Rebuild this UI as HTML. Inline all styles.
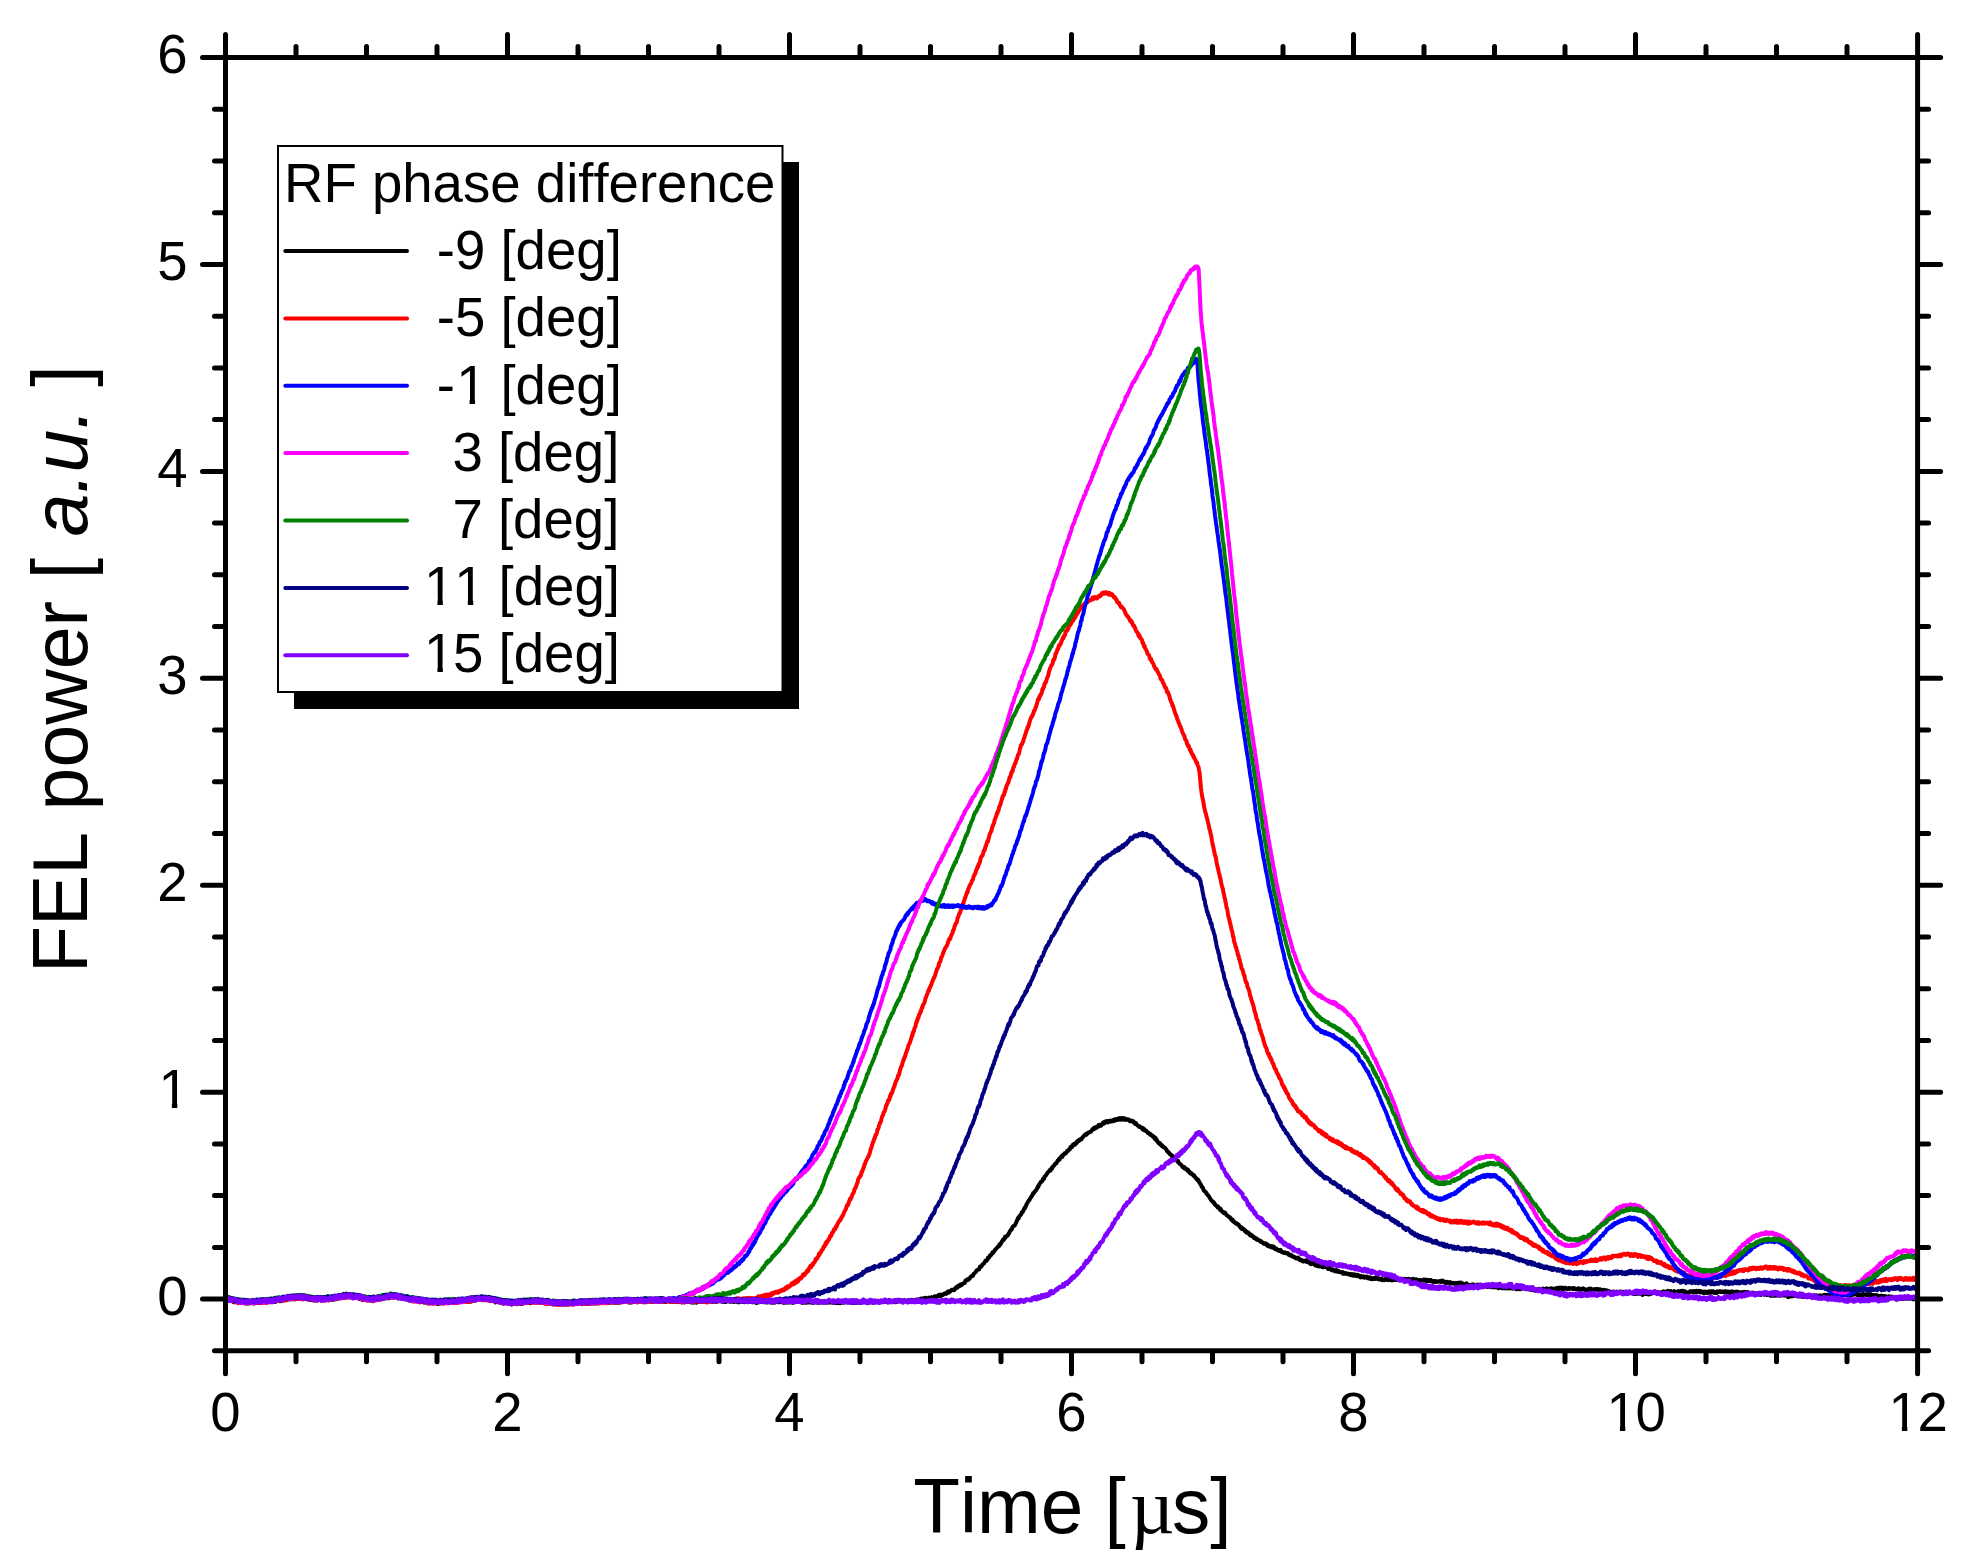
<!DOCTYPE html>
<html><head><meta charset="utf-8"><title>FEL power</title>
<style>html,body{margin:0;padding:0;background:#fff}svg{display:block}</style></head>
<body>
<svg width="1970" height="1567" viewBox="0 0 1970 1567">
<rect width="1970" height="1567" fill="#fff"/>
<g fill="none" stroke-width="40" stroke-linejoin="round" stroke-linecap="butt" transform="scale(.1)">
<path stroke="#000000" d="M2255 12998l5 5 5-1 5-9 5 3 5 10 5-14 5 15 5 0 5-4 5-2 5 1 5 2 5 5 5 3 5 2 5 8 5-3 5-3 5 6 5-13 5 0 5 9 5-8 5 1 5 9 5 0 5 8 5-4 5-1 5 0 5-3 5-4 5 4 5 9 5-8 5 3 5-6 5 14 5-11 5 1 5 12 5-6 5 7 5-3 5 3 5-12 5 7 5-1 5 5 5-9 5 4 5-9 5 5 5-1 5-3 5 11 5-8 5 10 5-7 5 0 5 0 5 0 5-10 5 4 5-4 5 3 5-6 5 15 5-13 5 7 5-6 5 9 5-4 5-10 5 12 5 2 5 0 5-5 5-7 5 1 5 12 5-8 5-7 5 11 5-5 5-2 5-4 5 0 5-4 5-4 5 15 5-7 5 2 5-4 5 8 5-13 5 5 5-6 5 1 5 14 5-7 5-6 5-1 5 4 5-11 5 6 5 2 5-4 5 4 5 6 5 0 5-15 5 12 5-18 5 11 5 0 5-12 5 4 5 6 5-15 5 10 5 3 5-5 5 4 5-9 5-2 5 2 5-5 5 2 5 9 5-7 5-5 5-3 5 11 5-9 5 10 5-7 5 2 5 7 5-1 5-5 5-5 5 6 5-10 5 7 5-14 5 6 5 3 5 8 5-11 5 10 5-2 5 2 5-1 5 7 5-12 5 1 5-4 5-3 5 2 5 13 5 0 5-11 5 9 5-1 5 3 5 2 5-5 5 12 5-7 5 4 5 2 5-5 5-1 5 8 5 5 5-1 5-3 5-11 5 12 5-1 5 2 5-5 5 8 5-14 5 0 5 1 5 4 5 1 5-1 5 6 5-9 5 9 5-8 5 9 5-13 5 4 5 10 5-8 5 4 5-3 5 0 5-7 5 7 5-8 5 12 5 2 5-3 5-15 5 4 5-1 5-4 5 9 5 2 5-9 5 9 5-2 5-12 5 11 5 1 5-12 5 5 5 0 5-1 5-10 5 8 5-1 5 2 5-2 5-9 5 6 5 2 5-1 5-13 5-3 5 10 5-9 5 4 5 6 5-11 5-2 5 4 5 3 5-9 5 5 5-4 5 10 5 3 5-8 5 1 5 2 5-5 5 0 5 2 5 2 5-5 5 12 5-2 5-4 5-3 5 12 5-10 5 0 5 1 5-1 5 16 5-8 5 3 5 11 5-1 5-6 5 6 5 9 5-7 5 7 5-11 5 10 5 0 5 0 5-3 5-4 5-4 5 9 5 5 5-8 5 1 5 5 5 3 5 3 5-14 5 2 5 12 5-2 5 2 5 6 5-2 5-2 5-2 5-8 5 3 5-8 5 9 5-1 5-2 5-5 5-3 5 0 5-8 5 13 5-6 5-4 5 2 5 2 5-7 5 7 5 0 5-11 5-6 5 9 5 2 5-14 5 10 5 2 5 2 5-14 5-2 5 14 5-16 5 0 5 5 5-2 5 6 5-9 5 13 5-11 5 9 5-12 5 7 5-8 5 5 5 1 5 8 5-3 5-6 5 17 5-2 5 1 5-11 5 2 5-2 5-1 5 0 5 10 5-5 5 3 5 11 5-6 5-5 5 8 5-7 5 6 5-2 5 6 5 4 5 0 5-2 5 8 5 2 5-12 5 0 5 1 5 16 5 0 5-11 5 14 5-12 5 6 5 0 5 8 5-14 5 6 5 6 5-7 5 4 5 5 5 6 5-3 5 0 5-2 5-2 5 4 5 0 5 3 5-6 5 0 5 10 5-11 5 12 5-6 5-5 5 13 5-11 5 8 5-5 5 17 5-8 5 2 5-10 5 7 5-3 5 0 5 6 5-8 5 0 5 6 5 2 5-9 5 6 5-8 5 5 5 6 5-10 5 13 5-10 5 18 5-10 5-3 5 4 5-5 5 1 5-10 5 9 5 1 5 7 5-15 5 7 5 2 5-2 5-8 5 8 5-8 5-1 5 11 5-13 5 3 5 6 5 0 5-2 5 5 5-5 5 2 5 4 5-2 5 0 5-4 5 2 5-4 5 5 5-7 5 1 5 5 5-4 5-3 5 9 5-7 5 6 5-2 5-7 5 4 5-13 5 6 5 7 5-5 5 0 5 1 5 0 5-3 5-3 5-5 5 1 5 0 5 2 5 10 5-12 5 2 5-1 5 4 5 6 5-1 5-8 5-3 5 9 5-9 5 2 5-12 5 13 5-10 5 2 5-6 5 3 5 6 5-1 5-7 5 4 5-6 5-2 5 3 5-6 5 1 5 6 5 3 5-11 5 13 5 2 5-5 5-8 5 9 5-8 5 5 5-6 5 5 5-6 5 5 5 1 5 2 5-6 5 14 5-10 5 2 5 0 5-2 5 6 5 7 5 0 5-8 5 1 5 6 5 10 5-2 5 10 5-6 5-2 5 1 5-2 5-8 5 1 5 6 5 4 5-4 5 8 5 5 5-8 5 2 5 1 5 3 5 11 5-16 5 3 5-1 5 5 5-7 5 8 5-4 5 2 5 10 5-10 5 9 5-3 5 1 5 8 5-11 5 14 5 0 5-3 5-10 5 9 5-3 5 1 5-11 5 11 5-2 5-14 5 3 5-6 5 13 5 2 5 3 5-5 5 2 5 1 5-2 5 6 5-6 5-5 5 3 5-10 5 11 5-2 5-7 5 6 5-3 5-9 5-6 5 0 5-1 5 4 5 4 5 10 5-9 5 12 5-5 5 2 5-9 5-8 5 12 5-8 5-2 5 12 5-1 5-7 5 0 5 11 5-12 5 7 5-11 5 12 5-12 5 7 5-8 5 9 5 5 5-12 5 4 5 8 5-2 5-3 5 7 5-1 5 9 5-8 5 9 5-2 5 3 5-6 5 7 5-2 5-7 5-7 5 14 5-6 5-7 5 10 5-6 5 5 5 7 5-4 5-1 5 2 5-2 5 5 5 0 5-3 5-3 5 6 5-5 5 8 5 3 5-12 5 5 5-2 5-6 5 1 5 14 5-6 5 6 5-13 5 9 5 5 5 0 5-15 5 8 5-2 5 6 5-12 5 3 5 9 5-6 5-1 5 8 5-11 5-5 5 6 5-4 5-2 5 9 5 6 5-7 5 1 5-6 5 4 5 3 5-2 5 3 5-4 5-5 5 5 5-2 5-7 5 7 5 2 5-11 5 7 5 3 5-5 5-3 5 2 5 3 5 2 5-2 5-8 5 13 5 2 5-13 5 3 5-1 5 11 5 0 5-15 5 4 5-3 5 4 5 7 5-15 5 1 5 5 5 1 5 4 5-5 5-5 5 4 5 10 5-4 5-11 5 12 5-9 5 8 5-13 5 15 5-12 5 6 5 3 5-4 5-6 5-1 5 2 5-3 5 3 5-1 5 6 5-1 5 4 5-6 5-5 5 5 5 7 5-10 5 2 5 5 5-7 5 7 5 0 5-11 5 7 5-8 5-3 5 6 5 3 5 7 5-13 5 10 5-4 5-6 5 13 5-5 5-10 5 13 5-14 5-1 5 4 5 10 5-17 5 14 5-6 5-10 5 8 5-3 5 2 5 2 5-1 5 5 5-13 5 13 5-6 5 7 5 3 5 2 5-12 5 3 5 9 5 0 5-10 5 10 5-9 5-1 5 7 5-7 5-1 5-3 5 0 5-7 5 0 5 13 5-2 5 4 5 3 5-11 5-1 5 0 5 0 5 6 5-6 5 0 5 6 5-8 5 0 5 9 5 1 5-7 5 5 5-10 5 5 5 3 5-7 5 1 5 4 5-1 5-7 5 10 5-11 5 15 5-14 5 0 5-2 5 13 5-13 5 6 5 7 5 0 5-15 5 9 5 1 5 1 5-7 5 0 5-6 5 1 5 10 5-6 5 3 5 4 5-5 5-1 5 15 5-8 5-5 5 10 5-12 5 5 5 12 5 0 5-5 5-9 5 3 5-5 5 3 5-4 5 1 5 8 5-9 5 0 5 14 5-9 5 0 5-3 5 13 5-3 5-2 5 1 5-9 5 2 5 6 5 7 5-1 5-3 5-1 5-9 5 15 5-14 5 1 5 10 5 1 5-1 5-6 5-6 5-3 5 15 5 3 5-12 5 11 5-7 5-2 5 4 5-9 5 8 5-4 5 8 5-4 5 6 5 1 5-10 5 0 5 12 5-7 5-6 5 0 5 16 5-6 5-9 5 8 5 1 5-3 5 8 5-2 5-15 5-1 5 4 5 7 5-3 5 1 5-2 5-8 5 9 5-15 5 11 5-10 5 6 5 10 5-7 5-7 5 8 5 3 5-10 5 3 5-4 5 8 5-4 5 1 5-4 5 5 5-10 5 14 5 2 5-6 5 1 5 8 5-10 5 9 5-9 5 8 5-6 5 3 5 5 5-16 5 12 5-5 5-3 5 0 5-5 5 4 5 6 5-9 5 9 5 5 5 0 5-2 5 0 5-10 5 15 5-12 5 12 5-1 5-6 5-3 5-6 5 4 5-3 5-2 5 0 5 13 5 2 5-11 5-1 5 6 5-1 5 2 5 6 5-4 5-1 5-5 5 7 5-6 5 2 5 2 5 8 5-11 5 8 5-8 5 10 5-9 5 2 5 6 5-4 5-10 5 0 5 14 5-16 5 6 5 12 5-16 5 4 5 1 5-2 5 7 5 2 5-4 5-4 5 11 5-1 5-5 5-8 5 8 5 3 5-3 5 8 5-7 5 3 5-6 5 8 5 4 5 0 5-8 5 12 5-4 5-5 5-1 5 5 5-12 5 7 5-1 5-5 5 7 5-7 5 1 5-3 5 11 5-10 5 6 5-5 5 8 5 0 5-14 5 18 5-5 5-7 5 9 5-8 5 8 5-6 5 2 5-1 5 5 5 4 5 2 5-10 5 4 5-11 5 6 5 9 5-15 5 11 5-3 5-7 5 8 5-8 5 10 5-13 5 2 5 11 5-4 5-5 5 7 5-4 5 4 5 4 5 2 5-15 5 9 5 6 5-9 5 4 5-10 5 13 5-4 5 6 5-1 5 1 5-13 5 11 5-8 5 1 5 1 5 5 5 0 5 5 5-16 5 2 5 3 5 7 5-6 5-1 5 3 5-2 5-7 5-4 5 6 5 8 5-4 5-8 5 8 5 0 5 4 5 0 5 7 5-10 5 1 5 3 5 5 5-4 5-4 5 6 5-6 5 8 5-12 5-2 5 12 5-10 5 10 5-5 5-1 5-8 5 13 5-11 5 16 5-1 5-9 5-3 5 12 5-7 5-7 5 6 5-4 5 3 5 4 5 5 5-2 5-11 5 4 5 0 5 8 5-16 5 7 5 7 5-8 5-2 5 5 5-4 5 11 5-14 5 3 5-2 5 10 5-8 5 10 5-1 5 0 5-11 5-5 5 7 5 9 5-3 5-12 5 12 5 4 5 1 5-3 5 3 5 1 5-8 5-3 5 12 5-11 5 4 5 9 5-8 5-1 5 8 5-10 5 13 5-1 5-9 5-1 5-5 5 13 5-13 5-4 5 14 5-5 5 2 5 1 5-12 5 0 5 6 5-8 5 7 5 3 5-1 5 0 5-10 5 4 5 12 5-12 5 8 5-7 5 16 5-12 5 3 5 2 5 2 5 3 5-4 5-6 5-5 5 11 5 5 5-16 5 12 5-10 5 5 5 1 5 1 5 6 5-5 5-6 5 5 5-5 5-1 5-1 5 2 5-4 5-1 5-1 5 5 5-2 5 9 5 0 5-8 5 5 5 5 5-9 5 4 5-2 5 3 5 5 5-14 5 14 5-6 5 3 5-3 5 4 5-10 5 7 5-8 5 4 5 2 5-8 5-3 5 12 5-1 5-3 5-6 5 6 5-10 5 10 5-1 5 1 5-3 5-5 5 8 5-5 5 5 5-6 5-3 5 9 5 2 5 6 5-2 5-16 5 10 5-11 5 6 5-5 5 0 5 4 5 2 5 4 5 0 5 2 5-3 5 6 5-4 5 3 5-4 5 0 5-12 5 7 5-5 5 2 5-6 5 9 5 3 5-8 5-4 5 9 5-8 5 13 5-12 5 4 5 3 5-6 5 4 5-2 5 6 5 4 5-12 5 6 5-11 5 7 5-2 5-3 5 9 5-2 5-11 5 2 5 8 5 2 5-7 5 3 5 1 5-5 5-2 5-6 5 4 5 6 5 6 5-9 5-1 5-9 5 9 5-6 5 3 5-11 5 7 5-1 5-5 5-6 5 3 5 5 5-10 5-2 5 5 5-4 5 9 5 0 5 2 5-2 5-4 5-9 5 10 5-2 5-1 5-1 5 1 5-10 5 6 5-3 5-5 5-2 5-4 5 4 5-3 5-2 5 6 5-5 5-3 5 3 5-13 5 5 5-7 5 4 5 10 5-17 5 9 5 0 5-8 5 2 5-8 5-3 5 1 5-7 5 0 5-3 5 9 5-14 5-5 5 9 5-15 5 12 5-4 5-5 5-6 5-6 5-5 5-2 5 1 5-2 5 6 5-9 5 6 5-7 5-13 5 3 5-10 5-6 5 11 5-14 5-5 5-4 5 7 5-6 5-10 5 9 5-11 5 5 5-9 5-2 5-6 5-1 5 1 5-8 5-17 5 3 5-8 5-6 5-2 5-3 5 8 5-9 5-2 5-7 5-12 5-2 5-2 5-7 5-1 5 2 5-19 5-3 5-4 5-4 5-7 5-3 5-14 5-3 5-2 5-4 5 1 5-2 5-12 5-17 5-2 5 4 5-3 5-11 5-9 5-5 5-1 5-1 5-14 5-7 5-9 5-4 5 5 5-11 5 0 5-23 5 0 5 2 5-8 5-15 5 0 5-2 5-6 5-11 5-10 5 6 5-12 5 0 5-8 5-12 5-1 5-10 5-4 5-6 5-3 5-8 5-6 5 2 5-19 5-5 5 6 5-12 5-9 5-10 5-3 5-13 5 4 5-6 5-15 5-11 5 8 5-15 5 1 5-2 5-6 5-4 5-14 5-2 5-14 5-11 5-4 5-10 5 0 5-6 5-19 5-7 5-3 5-6 5 1 5-8 5-7 5-13 5-10 5-15 5-8 5-15 5 7 5-17 5-10 5-3 5-7 5-2 5-21 5-5 5 2 5-10 5-12 5-9 5-14 5 3 5-10 5-14 5-15 5-8 5-6 5-10 5-13 5-1 5-7 5-11 5-6 5-9 5-9 5-4 5-11 5-14 5 3 5-12 5-7 5-3 5-6 5-6 5-8 5-10 5-6 5-17 5 2 5-15 5-8 5-9 5-3 5-13 5 3 5-5 5-7 5-18 5 2 5-3 5-20 5-4 5-5 5-5 5-13 5-3 5-11 5-3 5-7 5-1 5-12 5 4 5-3 5-7 5-18 5 8 5-13 5-12 5-3 5-4 5-6 5-10 5-5 5-5 5 2 5-12 5-13 5 1 5-10 5-10 5 10 5-17 5-2 5-8 5-10 5 9 5-4 5-18 5 0 5-6 5-8 5 4 5-2 5-5 5-6 5-16 5-1 5 0 5-2 5-12 5-5 5 1 5-20 5-1 5-5 5 7 5-17 5-8 5 3 5 1 5-12 5 9 5-14 5 3 5-15 5 6 5-17 5 3 5-1 5-12 5-5 5 6 5-4 5-6 5 0 5-11 5-5 5-5 5-5 5-6 5-8 5-3 5-5 5-3 5 6 5-14 5-1 5 2 5-7 5-5 5-1 5-1 5 0 5-1 5-8 5-12 5-5 5-7 5-4 5 10 5-16 5 1 5 6 5-6 5-9 5 7 5-13 5-1 5-10 5 12 5-15 5 3 5 7 5-2 5-4 5-5 5-14 5-6 5 4 5-10 5 13 5-19 5 3 5-3 5-4 5 7 5-7 5 13 5-5 5-7 5 6 5-2 5-9 5 8 5 0 5-6 5-5 5 8 5-1 5-11 5-6 5 12 5-5 5-8 5 4 5-6 5 9 5-11 5-3 5-4 5 5 5 10 5-14 5 4 5 9 5-16 5 5 5 9 5-12 5 15 5 0 5-11 5 8 5 0 5 4 5-6 5 2 5-1 5 3 5 0 5 14 5 2 5-7 5 7 5-3 5-2 5 2 5 11 5-6 5 9 5 10 5-6 5 13 5-9 5 14 5 4 5 4 5 5 5 1 5 9 5-6 5 9 5 0 5 0 5 8 5 8 5 3 5-10 5 19 5-9 5 4 5 12 5 4 5 2 5-3 5 7 5 11 5-3 5 10 5 3 5-2 5 10 5-5 5 11 5 3 5-1 5 9 5 6 5 3 5-4 5 19 5 4 5-12 5 22 5 0 5 0 5 19 5 0 5 9 5 7 5-1 5-4 5 18 5 2 5 8 5-7 5 12 5 6 5-3 5 7 5 4 5 0 5 10 5 7 5 2 5 17 5 0 5 8 5 0 5 6 5 11 5 0 5 7 5 2 5 7 5 11 5-6 5 9 5 7 5-5 5 19 5-4 5 0 5 14 5 6 5 2 5 10 5-9 5 13 5 8 5 9 5 0 5 5 5 2 5 8 5 5 5 11 5 4 5 2 5 7 5-11 5 16 5-2 5 9 5-4 5 7 5 10 5-10 5 10 5 8 5 12 5-5 5 14 5-7 5 4 5 7 5 4 5 7 5 6 5-5 5 14 5 4 5 2 5 12 5 7 5-2 5 14 5-7 5 8 5 19 5 0 5 13 5 7 5 3 5 19 5 8 5-1 5 10 5 16 5 9 5 6 5 0 5 5 5 9 5 3 5 13 5 3 5 6 5 9 5 1 5 13 5 9 5 5 5 12 5 5 5 2 5 10 5-2 5 12 5-3 5 10 5 14 5-1 5 4 5 10 5-2 5 14 5-9 5 8 5 4 5 6 5 16 5-12 5 10 5 10 5 7 5 6 5-2 5 1 5 14 5-10 5 3 5 6 5 9 5 12 5 1 5 2 5 4 5 8 5 4 5 0 5 1 5 7 5 14 5 2 5 7 5-9 5 19 5-5 5 14 5-1 5 4 5 9 5 0 5 5 5-5 5 11 5 0 5 0 5 7 5 11 5 2 5 14 5-8 5 1 5 19 5-9 5 6 5 0 5 5 5 8 5 12 5-8 5 16 5 5 5-4 5-1 5 1 5 4 5 8 5 14 5-9 5 19 5 0 5-9 5 4 5 13 5 1 5-1 5 14 5-7 5 9 5-1 5 11 5-8 5 3 5 12 5-3 5 6 5 5 5 2 5-4 5 12 5-6 5 7 5 6 5-2 5 4 5 10 5 3 5-5 5 2 5-2 5 8 5 4 5 9 5-12 5 18 5 3 5-9 5 9 5 3 5-1 5-5 5 7 5 6 5-12 5 7 5-4 5 18 5 3 5-9 5 16 5 1 5-7 5 9 5 5 5-4 5 4 5 9 5-4 5-1 5-6 5 4 5 15 5 2 5 4 5-1 5 1 5 1 5 5 5-6 5 4 5 2 5 5 5-5 5-1 5 3 5 4 5 15 5 0 5 3 5-2 5-4 5 8 5 9 5-5 5 4 5 0 5 0 5 12 5 2 5 1 5-1 5 7 5-7 5 4 5-5 5 12 5-4 5 6 5 11 5-1 5 3 5-5 5 11 5-6 5 12 5-1 5-4 5 2 5-4 5 3 5-9 5 17 5-2 5-9 5 3 5 9 5 6 5-7 5 17 5-8 5 12 5-3 5-4 5-1 5-4 5 2 5 12 5 4 5 4 5-7 5 12 5-9 5 13 5 2 5-11 5 12 5-2 5 1 5 3 5-5 5 1 5-1 5 9 5 2 5-11 5 11 5-8 5-1 5 1 5 7 5-2 5 3 5 1 5 7 5 11 5-12 5 8 5 3 5-8 5 5 5 12 5 4 5 0 5-9 5 12 5-4 5-3 5 6 5 9 5 1 5-8 5-5 5 14 5 2 5-7 5-2 5 9 5 5 5 0 5 1 5-1 5 2 5-4 5 5 5 13 5-15 5 13 5 2 5-5 5 4 5-6 5 7 5 1 5 0 5-4 5 10 5 0 5-4 5 4 5-6 5 13 5-4 5 5 5-10 5 13 5-14 5 9 5-6 5 2 5 11 5-11 5 6 5-3 5 12 5-13 5 7 5 10 5-1 5 2 5 7 5-16 5 12 5 2 5 1 5 0 5-10 5 2 5 12 5-2 5-5 5-4 5 10 5-8 5 12 5-7 5 10 5-10 5 8 5-4 5 13 5-4 5-5 5 12 5-4 5-6 5 7 5-9 5 9 5-13 5 11 5-14 5 13 5-5 5 4 5 5 5-9 5 3 5-1 5 12 5-8 5 5 5-2 5 0 5 12 5-6 5 2 5 0 5 2 5-10 5-4 5 7 5-5 5-3 5 16 5-5 5-4 5-5 5 11 5-4 5-6 5 14 5 1 5 0 5-1 5-4 5-4 5 5 5-9 5 7 5-10 5-1 5 12 5-6 5 6 5 1 5 1 5-4 5 4 5-3 5 4 5 0 5-13 5 4 5 3 5-2 5-1 5 11 5-15 5 2 5 9 5-10 5 0 5 11 5-4 5-6 5-4 5 4 5 13 5-1 5-11 5 10 5-6 5 5 5-8 5-4 5-1 5 5 5 11 5 1 5-3 5 2 5-10 5 3 5 10 5 1 5-8 5 6 5 4 5 1 5-11 5 6 5-4 5 2 5 0 5-3 5-5 5 12 5-2 5 2 5-13 5 2 5 7 5 6 5-7 5-4 5 7 5 5 5-1 5 0 5-9 5 0 5 13 5 0 5 4 5-6 5-2 5-1 5 10 5 1 5-10 5 10 5-7 5 2 5 3 5-5 5 0 5 0 5-1 5 4 5-7 5 11 5-11 5 4 5 3 5-9 5 7 5 5 5 3 5 8 5 1 5-12 5 12 5-5 5 2 5-9 5 5 5 5 5 2 5 1 5-10 5 11 5-4 5 2 5 4 5-7 5 9 5 1 5-1 5-6 5 3 5-6 5 11 5 3 5-12 5 10 5-2 5-12 5 15 5-9 5-4 5-2 5 15 5-6 5 6 5-4 5 7 5-4 5 6 5-3 5 1 5-8 5-2 5 14 5 2 5-5 5 7 5-2 5 0 5-1 5 0 5 3 5-5 5 4 5 1 5-8 5 6 5-2 5 5 5 3 5-3 5 0 5-1 5-7 5 2 5 8 5 3 5-11 5-1 5 17 5 0 5-3 5 4 5-3 5 6 5-10 5 3 5 4 5-7 5 8 5-7 5 7 5 2 5-7 5 9 5-6 5 3 5-12 5 2 5 11 5 5 5-5 5 5 5-15 5 15 5 0 5-3 5-3 5 6 5-6 5 8 5 1 5-2 5-4 5-3 5 4 5 11 5-10 5-2 5 3 5 5 5 0 5 5 5-2 5 2 5-3 5-6 5-5 5 15 5-11 5 7 5-6 5 10 5-10 5 4 5-3 5 11 5-5 5 0 5-6 5-2 5 12 5-1 5-1 5 5 5-7 5-4 5 8 5-3 5 5 5 1 5 1 5 5 5-3 5-8 5 6 5 2 5-1 5-3 5 6 5-6 5-7 5 2 5 6 5-5 5 0 5 0 5-3 5-1 5 0 5 11 5-6 5 1 5 7 5-6 5 3 5 0 5 5 5-14 5 7 5 11 5-8 5 10 5-12 5-2 5 16 5-8 5 3 5 8 5-12 5 14 5-10 5-3 5 0 5 4 5-1 5 7 5-15 5 0 5 2 5 7 5 3 5-5 5 1 5 1 5-11 5 3 5 12 5-11 5 10 5-9 5-4 5-4 5 4 5 2 5 2 5 0 5 2 5-1 5-7 5 4 5 11 5-17 5 11 5-6 5 3 5-5 5 1 5 3 5 8 5-9 5-6 5-2 5 13 5-11 5-4 5 7 5 4 5-5 5-8 5 3 5-1 5-4 5 16 5-8 5-5 5 12 5 1 5-3 5-10 5-1 5 6 5 1 5 5 5 2 5-1 5-8 5 5 5-6 5 8 5-6 5 0 5-1 5 3 5-1 5 6 5-11 5 1 5 10 5 1 5 1 5 0 5 0 5-1 5 4 5-11 5 2 5 10 5-9 5 6 5-5 5 2 5 6 5-4 5-4 5-4 5 10 5-1 5-2 5 9 5-2 5 5 5-6 5 4 5-6 5 2 5 2 5-12 5 6 5 3 5-10 5 14 5-1 5 4 5-9 5 3 5 7 5-10 5 7 5-8 5-2 5 0 5-1 5 5 5-4 5 12 5 4 5-14 5 0 5 0 5 17 5-14 5 11 5-5 5-1 5 2 5 7 5-11 5 14 5-5 5-6 5 1 5 8 5 0 5-5 5 1 5 4 5 9 5-6 5 7 5-2 5-1 5 0 5 4 5-3 5 5 5-9 5 2 5 10 5-8 5 8 5 2 5-5 5-7 5 11 5 0 5-7 5 9 5-7 5-8 5 0 5 3 5 7 5 4 5-12 5 0 5 11 5-3 5 1 5 7 5 3 5 1 5-4 5-13 5 3 5 7 5 7 5-15 5 7 5-1 5 0 5-1 5 2 5 1 5-1 5 9 5-2 5 3 5-2 5 5 5-12 5 9 5-8 5 4 5 2 5-7 5 2 5 4 5-8 5 8 5-6 5 3 5 7 5 7 5 2 5-12 5-3 5 5 5-2 5-2 5 5 5 0 5-2 5 2 5-1 5 3 5 3 5-1 5-1 5-3 5-14 5 6 5 5 5-9 5 5 5-9 5 2 5 2 5-6 5 6 5-4 5 10 5-9 5 1 5 7 5-4 5-8 5 3 5 8 5-7 5 2 5 4 5-5 5-6 5 3 5-1 5-9 5 5 5 2 5 11 5-12 5 3 5-5 5 7 5 0 5-15 5 14 5-3 5-7 5 12 5-11 5 9 5-11 5 7 5 1 5 7 5-1 5-5 5-9 5 6 5-1 5 10 5-5 5-5 5-1 5 6 5-12 5 11 5-4 5-5 5 3 5-4 5-3 5 6 5-5 5 2 5 5 5 6 5-12 5 5 5 7 5 0 5 3 5-2 5 1 5 2 5-1 5-4 5-3 5-4 5-4 5 5 5 7 5-3 5-6 5 11 5-14 5 15 5-6 5-2 5-3 5 7 5-13 5 1 5 9 5-4 5 2 5 2 5-9 5 16 5-6 5-8 5 12 5-2 5 4 5 2 5 4 5-15 5 14 5-10 5-5 5 4 5 0 5 10 5-6 5-7 5 10 5-4 5 5 5-14 5 13 5 1 5-15 5 8 5-6 5 7 5-6 5 14 5-10 5 9 5 1 5-7 5-4 5 11 5-16 5 2 5 1 5 3 5-4 5-5 5 7 5 4 5 1 5-2 5-2 5-4 5 8 5 1 5-5 5 8 5-14 5 11 5-1 5 3 5 1 5-11 5 12 5-8 5 5 5 6 5-5 5-2 5-9 5 8 5-7 5 1 5 1 5 11 5-4 5 2 5-8 5 2 5 8 5-13 5 13 5-9 5 0 5 4 5 0 5 3 5 0 5 5 5-7 5-2 5 5 5-5 5 5 5 0 5 4 5-12 5 4 5 7 5-7 5 9 5-1 5-11 5 6 5 6 5-4 5 3 5 5 5-4 5-1 5 6 5-6 5-6 5 5 5 7 5 7 5-5 5-4 5 11 5-11 5-4 5 4 5-4 5-2 5 12 5 1 5 7 5-12 5 12 5-3 5-10 5 3 5 1 5-4 5-3 5 13 5-11 5 6 5-1 5 8 5-6 5-3 5 10 5-8 5 9 5-6 5 11 5 3 5 0 5-7 5-5 5 6 5 4 5-10 5-5 5 3 5 14 5-16 5 1 5 0 5 13 5-9 5 5 5 2 5-4 5 7 5-3 5 2 5-5 5-7 5 8 5-7 5-1 5 11 5-7 5-3 5 11 5 0 5-7 5 7 5 6 5-4 5 13 5-4 5-6 5 5 5-16 5 2 5 12 5-6 5-6 5 8 5 3 5-2 5-9 5 1 5 6 5-6 5 1 5 8 5-4 5-7 5 13 5-8 5 9 5-4 5 1 5-3 5 5 5-7 5 1 5 11 5-11 5 3 5 5 5-7 5 0 5 9 5-12 5 1 5 11 5-11 5 1 5 9 5-10 5 11 5-3 5 0 5-10 5 0 5 9 5 2 5-10 5 0 5 0 5-2 5 4 5 2 5 2 5-9 5 3 5 0 5 3 5-2 5 12 5-10 5-5 5 8 5 5 5-4 5-3 5-6 5 0 5-4 5 7 5-1 5-7 5 4 5-1 5 2 5-6 5 1 5 2 5 11 5-2 5 1 5-1 5-1 5-7 5 4 5-12 5 7 5-11 5 14 5-2 5-13 5 9 5 0 5-13 5 9 5-2 5 4 5 5 5-2 5-8 5 7 5 1 5-8 5 0 5 3 5-5 5 0 5 6 5 5 5-8 5 3 5 2 5-1 5 0 5-11 5 16 5-12 5 1 5 6 5 2 5 3 5-7 5 11 5-6 5 3 5-7 5-8 5-1 5 10 5-3 5 0 5-2 5-3 5 5 5-4 5 11 5-13 5 14 5-1 5-7 5 8 5-2 5 0 5 6 5 0 5-11 5 12 5-15 5-1 5 7 5-3 5 1 5 1 5-1 5 7 5 0 5-10 5-1 5 7 5-7 5 4 5 6 5-11 5 14 5 1 5-4 5-1 5 6 5-4 5 8 5-4 5-5 5 8 5-1 5-7 5 6 5 3 5 10 5-11 5 3 5 9 5-9 5 7 5-12 5 6 5-4 5 13 5-5 5-5 5-2 5 7 5-5 5 7 5 5 5-7 5-2 5 4 5-3 5 11 5-13 5 11 5-7 5 6 5 1 5-10 5 12 5 4 5-6 5 3 5-3 5-1 5 12 5 3 5-12 5-4 5 3 5 2 5-6 5 11 5-2 5 3 5-5 5 3 5 5 5-15 5 11 5-6 5 12 5-10 5 8 5-8 5 5 5 0 5 4 5-1 5-7 5 4 5-9 5-2 5 11 5 3 5-3 5-4 5 3 5 3 5-2 5-2 5 10 5-8 5 9 5-1 5 0 5 1 5 3 5 0 5-8 5-2"/>
<path stroke="#ff0000" d="M2255 12999l5-14 5 3 5-2 5 5 5 8 5-6 5-3 5 14 5 5 5-12 5 8 5-8 5 0 5 8 5-1 5 14 5-17 5 15 5 3 5-6 5 4 5-4 5 2 5-2 5 20 5-20 5 2 5 12 5-6 5 0 5-4 5-2 5 15 5-14 5 5 5 9 5-10 5 14 5-17 5 8 5 0 5-1 5 6 5-16 5 11 5 6 5-16 5 11 5-2 5 0 5 2 5 1 5 0 5 4 5-6 5 6 5-7 5-10 5-3 5-2 5 6 5-2 5 15 5 2 5 0 5-7 5 1 5-6 5 14 5-21 5 7 5 6 5-8 5 15 5-8 5-3 5-8 5 4 5 6 5-8 5-6 5 12 5-7 5 12 5-4 5 1 5 3 5-2 5-11 5 6 5-8 5-1 5-1 5-2 5 2 5-2 5 8 5-11 5-6 5 6 5-4 5 11 5-9 5 8 5-8 5 5 5 6 5-14 5 3 5-5 5-8 5-1 5 18 5-11 5 7 5-5 5 10 5-14 5 7 5 2 5 3 5-19 5 5 5 0 5 0 5-9 5 9 5 3 5 2 5-11 5 3 5-5 5 0 5-2 5 11 5-21 5 21 5-20 5 1 5 4 5 1 5 12 5-1 5 1 5-12 5-8 5 14 5 6 5-17 5 16 5-19 5 16 5-6 5 9 5-1 5-18 5 10 5-5 5 5 5-8 5 8 5 2 5-7 5 12 5 10 5-19 5 19 5-10 5-7 5 17 5-10 5 0 5 0 5 12 5-15 5 3 5 3 5-3 5 18 5-6 5 2 5 6 5-9 5-5 5 5 5-1 5-4 5-1 5 2 5 9 5-13 5 18 5-17 5 1 5-4 5 7 5 0 5 7 5 5 5-14 5 12 5-12 5 2 5-7 5 16 5-12 5 7 5-16 5 15 5-11 5 4 5 4 5-12 5 7 5 5 5-14 5 7 5-6 5-1 5 8 5-3 5 2 5 3 5-6 5-10 5 1 5 3 5 2 5-5 5-6 5-8 5 17 5-12 5 3 5 11 5-16 5 15 5-15 5-4 5 9 5 6 5-9 5 10 5-10 5 9 5-17 5 3 5-4 5 12 5-6 5 6 5-8 5 13 5 8 5-18 5 5 5 12 5 0 5 0 5-14 5 8 5-10 5 9 5 4 5-6 5 4 5-2 5-6 5 0 5 16 5-15 5 24 5 0 5 4 5-2 5-17 5 4 5 5 5-3 5-2 5 20 5 2 5-2 5-10 5 15 5-1 5-12 5-5 5 0 5 5 5 9 5-17 5 7 5-2 5 11 5-15 5 11 5-7 5 8 5 4 5-1 5-1 5-13 5-2 5-5 5 3 5-3 5 14 5-16 5 3 5 11 5-3 5 3 5-15 5-9 5 16 5-12 5 10 5-17 5 0 5 11 5 1 5-3 5-2 5 1 5-11 5-2 5 6 5 4 5-7 5-2 5 5 5-1 5-4 5 14 5 1 5-20 5 9 5-5 5 2 5-5 5 2 5 0 5 3 5 12 5-12 5 18 5-1 5-11 5 10 5 7 5-17 5 11 5-1 5-2 5 1 5-4 5 13 5-9 5 6 5 11 5-13 5-1 5 14 5-8 5 2 5-5 5 11 5-3 5 5 5-1 5-5 5 19 5-2 5 7 5-14 5 0 5-3 5 4 5 1 5-3 5 3 5 2 5 13 5-8 5 9 5-16 5 3 5 18 5-20 5 1 5 10 5-5 5-2 5 9 5 1 5-10 5 8 5-2 5 9 5-15 5 5 5 9 5-10 5 20 5 3 5-13 5 10 5-11 5 16 5-16 5-5 5 2 5 8 5-9 5 21 5-8 5-1 5 1 5-4 5 10 5-4 5-6 5-3 5-3 5 3 5 1 5-7 5 19 5-15 5 6 5-10 5 10 5 2 5-12 5 19 5-18 5 2 5 10 5-9 5 12 5-14 5 1 5 8 5 4 5 0 5-15 5 5 5-4 5 5 5-10 5 13 5-3 5-12 5 3 5 1 5 14 5-10 5 3 5 8 5-13 5 11 5-15 5-7 5 1 5 11 5-8 5 8 5-8 5 2 5-7 5 7 5 3 5-6 5 3 5 6 5 0 5-15 5-8 5 15 5-6 5 13 5-3 5-7 5 13 5-8 5 2 5 2 5-8 5 7 5-13 5-1 5 5 5-6 5 6 5-5 5 3 5 1 5-7 5 6 5-4 5 1 5-19 5-1 5 13 5-6 5 12 5-11 5 8 5-10 5 8 5 6 5-1 5-11 5 3 5 1 5-5 5 3 5 11 5-2 5-12 5 9 5 7 5-12 5 12 5 0 5 3 5-17 5 20 5 2 5-15 5 9 5-11 5 12 5 4 5 0 5 3 5-12 5-4 5 16 5-17 5 5 5 0 5 13 5-7 5 11 5-1 5 6 5 1 5 4 5-12 5 2 5 6 5 0 5 5 5 2 5-10 5-2 5 14 5 1 5-8 5-4 5 1 5 6 5 1 5-1 5-3 5 3 5 4 5-6 5 2 5 4 5 9 5-1 5-11 5-6 5 4 5 9 5-6 5 4 5 4 5-2 5 4 5-17 5 5 5-7 5 9 5 1 5-9 5-6 5 9 5-7 5 0 5 4 5 12 5-13 5 7 5-7 5 0 5-6 5 0 5 12 5-8 5-4 5 14 5-3 5-14 5 3 5 3 5-10 5 5 5-3 5 11 5-16 5 19 5-16 5 2 5-5 5 19 5-2 5-17 5 10 5-3 5 4 5-6 5 15 5-15 5 14 5-11 5 10 5-5 5 2 5-1 5 2 5-12 5 2 5 21 5-14 5 4 5-1 5 10 5 8 5-12 5-2 5 2 5-8 5 0 5-1 5 5 5 14 5-17 5 11 5-5 5-2 5 19 5-16 5 0 5 15 5-13 5-2 5 18 5-15 5 15 5-10 5 7 5-6 5 0 5 13 5-1 5-17 5 12 5-13 5 3 5-5 5 12 5 2 5 1 5 1 5-8 5-5 5-5 5 9 5 10 5-12 5 3 5 7 5-1 5-2 5-3 5-8 5 11 5-7 5 6 5-11 5 16 5-18 5 13 5 2 5-17 5 15 5-4 5-1 5-8 5 2 5-2 5 3 5 4 5 0 5-1 5-9 5 0 5 10 5 6 5-16 5 5 5-5 5 15 5-23 5 18 5-4 5-9 5 9 5-6 5 7 5-4 5 10 5-10 5 7 5-5 5-5 5 13 5-17 5 16 5 1 5-3 5-6 5 0 5 5 5-11 5 7 5 1 5 4 5-8 5 7 5-11 5-2 5-1 5 11 5-10 5 10 5-18 5 2 5 15 5-9 5-5 5 12 5-13 5 16 5-16 5 12 5-8 5 12 5-13 5 14 5-12 5 2 5 3 5-3 5 1 5-1 5-9 5-5 5 17 5-2 5 0 5-3 5 8 5-15 5 12 5-17 5 12 5 6 5-17 5 14 5-10 5-5 5 7 5 6 5-10 5 14 5-20 5 6 5 3 5 1 5-1 5-7 5 3 5 1 5 8 5-7 5 7 5-7 5-3 5-4 5 1 5 16 5-10 5-2 5-1 5 15 5-5 5-1 5 1 5-13 5 9 5-14 5 13 5-8 5 8 5-10 5 4 5 8 5 7 5-13 5-2 5-3 5 10 5 4 5-21 5 6 5-3 5 19 5-17 5 0 5 17 5 4 5-5 5-16 5 6 5 2 5 8 5-4 5-15 5 8 5 7 5-5 5 3 5 8 5 0 5-2 5-6 5-5 5-3 5 0 5 10 5 3 5 1 5 0 5-14 5 0 5-3 5 8 5 9 5-4 5-7 5-5 5 15 5 2 5-2 5-10 5 2 5 4 5 7 5-14 5 3 5-8 5-2 5 5 5 12 5-3 5-5 5-2 5-3 5 11 5-7 5-9 5 12 5 8 5-20 5 20 5-19 5 5 5 15 5 0 5-17 5 12 5-1 5-4 5 9 5-2 5-9 5 6 5 4 5-2 5-1 5 4 5-13 5-3 5 0 5 13 5-4 5 10 5 4 5-19 5 7 5 0 5 2 5 7 5-8 5-8 5 8 5-7 5 5 5-10 5 10 5-2 5 4 5-2 5 0 5 3 5-12 5 15 5-1 5 2 5-5 5-9 5 16 5-5 5 1 5-13 5 10 5 1 5-6 5 9 5-1 5-15 5 0 5 6 5 3 5 3 5-3 5 7 5-2 5-16 5 5 5 13 5-2 5-15 5 15 5-10 5 7 5 10 5-21 5 16 5-8 5 10 5-3 5-18 5 12 5 5 5-14 5 8 5-11 5-2 5 2 5-1 5 16 5-16 5 5 5 2 5 4 5 5 5-8 5 4 5-16 5 11 5-10 5 15 5-6 5-10 5 16 5-8 5-1 5-9 5 18 5-9 5 7 5-18 5 13 5-7 5 4 5 2 5 5 5 2 5-16 5 16 5-16 5-2 5 6 5 0 5 10 5-5 5-4 5 8 5 3 5-7 5-1 5 4 5-13 5 15 5-20 5-4 5 16 5-16 5 2 5 5 5-7 5 8 5 0 5-4 5 11 5-4 5-6 5 13 5-8 5-10 5 18 5-11 5-8 5 3 5-1 5-5 5 5 5-4 5 1 5 10 5-11 5-3 5 4 5 3 5-4 5 8 5 5 5-3 5-9 5 7 5 1 5-3 5 4 5-9 5 6 5-7 5 3 5-2 5-16 5 16 5-19 5 8 5 3 5 4 5-17 5 12 5-7 5-8 5 6 5 5 5-15 5 15 5-20 5 2 5 2 5-7 5 19 5 0 5-2 5-17 5 13 5-12 5-2 5 7 5-16 5-4 5 17 5-15 5 7 5-9 5-8 5 8 5-7 5-2 5-5 5 6 5-6 5-1 5 11 5-4 5-4 5-12 5 9 5-2 5-6 5-9 5-3 5 2 5-6 5 11 5-12 5 1 5 2 5-9 5-13 5 1 5 10 5-22 5 1 5 5 5 2 5-4 5-6 5-5 5-9 5-10 5 10 5-15 5 13 5-18 5-6 5 18 5-22 5 5 5-14 5 18 5-24 5 12 5 1 5-17 5-11 5-4 5-4 5 10 5-11 5 2 5-12 5-7 5-15 5-3 5 13 5-5 5-15 5 3 5-7 5-16 5-8 5 6 5-1 5-6 5-20 5-13 5-1 5-13 5 15 5-22 5 6 5-19 5 9 5-17 5 0 5-12 5-3 5-22 5-8 5-3 5 4 5-8 5-13 5-10 5-20 5 12 5-14 5-8 5-3 5-21 5 1 5-7 5-6 5-23 5 5 5-5 5-15 5-18 5 9 5-26 5-4 5 6 5-13 5-14 5 2 5-12 5-20 5-5 5 4 5-9 5-25 5 1 5-4 5-17 5-14 5-1 5 3 5-14 5-19 5 6 5-12 5-17 5-8 5-11 5-4 5-10 5-10 5 4 5-12 5-16 5 1 5-17 5-4 5-13 5-15 5-9 5-9 5-11 5-7 5-21 5-9 5-13 5 6 5-12 5-21 5-12 5-17 5 7 5-18 5-4 5-19 5-13 5-6 5-8 5-12 5-22 5-8 5-2 5-22 5-7 5-19 5-6 5-30 5-13 5-9 5-4 5-13 5 1 5-11 5-32 5 3 5-19 5-6 5-23 5-3 5-30 5-2 5-16 5-13 5-10 5-8 5-10 5-10 5-9 5-12 5-11 5-20 5-23 5-8 5-18 5-19 5-13 5-18 5-6 5-23 5-2 5-16 5-22 5-8 5 0 5-23 5-27 5-3 5-11 5-26 5-7 5-18 5-6 5-9 5-27 5-17 5-14 5-4 5-26 5-4 5-7 5-14 5-15 5-28 5-3 5-17 5-6 5-21 5-12 5 5 5-13 5-30 5 4 5-29 5-7 5 2 5-14 5-23 5-8 5-20 5-2 5-25 5-16 5-14 5-3 5-15 5-6 5-30 5 1 5-10 5-18 5-28 5-13 5-16 5-10 5-6 5-29 5-9 5-22 5-1 5-26 5 1 5-18 5-24 5-4 5-22 5-11 5-15 5-21 5-12 5-6 5-14 5-15 5-20 5-7 5-30 5 5 5-35 5 3 5-17 5-25 5-6 5-12 5-31 5-3 5-27 5 1 5-27 5 0 5-28 5-6 5-4 5-26 5 2 5-23 5-19 5 4 5-29 5-4 5-6 5-14 5-21 5-21 5-6 5-17 5-12 5-12 5-15 5-16 5 3 5-28 5 0 5-17 5-8 5-15 5-16 5-7 5-18 5-5 5-18 5-5 5-12 5-16 5-21 5-11 5-22 5 0 5-15 5-9 5-29 5-12 5-1 5-11 5-27 5-13 5-6 5-13 5-18 5-11 5-10 5-15 5-9 5-14 5-4 5-4 5-14 5-12 5-15 5-17 5-14 5-8 5 6 5-14 5-18 5-11 5-10 5-11 5-25 5 0 5-16 5-21 5-12 5-16 5-4 5-4 5-17 5-28 5-14 5-10 5-16 5-14 5 0 5-23 5-8 5-20 5 1 5-22 5-24 5-1 5-25 5-11 5-18 5-10 5-18 5-13 5-17 5 4 5-30 5-10 5-9 5-18 5-9 5-8 5-8 5-13 5-15 5-5 5-11 5-22 5-12 5-4 5-17 5-2 5-31 5 0 5-17 5-16 5 2 5-28 5-1 5-12 5-11 5-32 5-11 5-13 5-7 5 1 5-17 5-23 5-14 5 2 5-16 5-26 5-1 5-23 5-12 5-19 5 5 5-27 5-12 5-25 5-12 5-10 5-11 5-9 5-28 5-14 5-10 5-17 5-5 5-26 5-16 5-13 5-11 5-17 5-20 5 3 5-26 5 0 5-29 5-15 5-10 5-7 5-27 5-13 5-17 5-21 5-11 5 1 5-12 5-28 5 2 5-33 5 1 5-29 5-6 5-15 5-13 5-2 5-26 5-20 5-10 5 1 5-28 5-15 5-11 5 3 5-26 5-21 5-3 5-21 5-11 5-5 5-20 5-17 5-3 5-24 5-15 5-6 5-13 5-21 5-24 5-14 5-22 5-7 5-1 5-19 5-5 5-19 5-17 5-9 5-22 5-11 5-18 5-18 5-5 5-30 5 5 5-14 5-17 5-22 5-15 5-15 5-10 5-17 5 2 5-10 5-20 5-5 5-25 5-1 5-10 5-19 5-8 5-19 5-15 5-18 5-23 5-9 5 5 5-25 5 1 5-22 5 0 5-8 5-21 5-26 5 3 5-19 5-4 5-29 5-10 5 0 5-15 5-11 5-23 5-10 5-8 5-20 5-27 5-13 5-17 5-12 5-15 5-5 5-8 5-7 5-23 5-20 5 3 5-14 5-12 5-35 5-1 5-12 5-16 5-20 5 3 5-18 5-20 5-2 5 0 5-20 5 1 5-23 5-6 5-14 5-15 5 6 5-23 5-1 5-8 5-24 5-15 5 3 5-15 5 5 5-24 5 3 5-25 5-3 5-11 5 5 5-13 5-7 5-21 5-3 5 5 5-14 5-5 5-13 5-15 5 8 5-22 5-10 5 3 5-20 5 7 5-9 5-14 5-5 5-8 5-16 5-6 5 0 5-14 5-2 5-2 5 1 5-6 5-12 5 9 5-3 5-8 5-4 5-15 5 8 5-10 5-11 5 9 5-4 5-3 5-3 5 2 5-5 5-7 5-15 5 0 5 16 5-13 5 4 5-11 5 10 5-1 5 2 5 3 5-13 5-6 5-6 5 1 5-2 5 6 5-15 5 1 5-2 5-19 5 2 5 5 5-13 5 0 5 13 5-2 5-12 5-1 5 16 5-7 5-3 5 9 5 1 5 9 5-18 5 17 5-4 5-2 5 9 5-7 5 6 5 5 5 16 5 4 5-5 5 6 5 16 5-1 5 7 5 22 5-1 5 8 5 8 5-6 5 14 5 15 5 4 5 12 5-7 5 11 5 1 5 6 5 6 5 10 5 8 5 14 5 8 5 15 5 8 5 3 5 10 5 4 5 4 5 11 5 10 5 14 5 4 5-8 5 20 5-4 5 19 5 14 5 6 5-4 5 17 5 4 5 20 5 10 5 10 5 1 5 14 5 1 5 24 5 9 5-12 5 21 5 12 5 0 5 6 5 10 5 27 5-5 5 19 5 20 5-6 5 25 5 4 5 10 5 12 5 8 5 21 5 6 5 4 5 3 5 18 5 20 5 7 5-7 5 17 5 14 5 9 5 4 5 10 5 16 5 13 5 8 5 8 5 9 5-6 5 13 5 12 5 7 5 12 5 10 5 9 5 2 5 29 5 11 5 1 5 1 5 13 5 19 5 4 5 13 5 11 5 17 5 5 5-1 5 21 5 21 5-5 5 10 5 12 5 13 5 15 5 25 5 9 5 17 5 9 5 10 5 23 5 0 5 18 5 16 5 20 5 16 5 10 5 15 5 6 5 20 5 19 5 4 5 21 5 9 5 14 5 16 5 4 5 14 5 11 5 20 5 15 5 12 5 3 5 15 5 9 5 24 5 8 5 7 5 10 5 26 5 0 5 21 5-4 5 8 5 22 5 15 5-6 5 24 5 3 5 16 5 11 5-2 5 23 5-4 5 17 5 10 5 6 5 14 5 16 5-4 5 20 5 14 5 9 5 29 5 23 5 55 5 53 5 51 5 41 5 34 5 23 5 24 5 27 5 36 5 21 5 22 5 20 5 13 5 26 5 14 5 19 5 26 5 17 5 25 5 25 5 11 5 31 5 13 5 28 5 32 5 26 5 24 5 21 5 27 5 25 5 18 5 15 5 18 5 39 5 23 5 22 5 19 5 24 5 23 5 18 5 25 5 13 5 29 5 25 5 21 5 15 5 20 5 34 5 10 5 36 5 9 5 35 5 16 5 37 5 10 5 23 5 37 5 24 5 12 5 24 5 25 5 13 5 25 5 26 5 16 5 18 5 38 5 4 5 40 5 18 5 11 5 29 5 0 5 28 5 12 5 16 5 29 5 0 5 37 5 1 5 32 5 9 5 22 5 26 5 14 5 1 5 21 5 19 5 21 5 0 5 35 5 15 5 18 5 0 5 16 5 30 5 9 5 11 5 11 5 22 5 27 5 19 5 7 5 29 5 8 5 16 5 14 5 20 5 18 5 30 5 11 5 15 5 21 5 28 5 10 5 6 5 23 5 18 5 7 5 38 5 15 5-2 5 27 5 10 5 14 5 17 5 10 5 30 5 9 5 22 5 17 5 10 5 8 5 10 5 24 5 14 5 15 5-4 5 8 5 29 5 3 5-1 5 25 5-3 5 23 5 10 5 14 5-3 5 27 5 11 5 11 5 5 5 2 5 26 5 4 5 14 5 11 5 0 5 25 5 6 5 1 5 13 5 7 5 18 5 24 5-1 5 12 5 18 5-7 5 10 5 23 5-5 5 21 5 14 5 4 5-1 5 12 5 16 5 18 5 2 5 10 5 6 5 3 5 16 5-5 5 18 5 17 5-8 5 16 5 7 5-7 5 20 5-5 5 23 5-6 5 13 5 15 5 2 5-2 5-1 5 14 5 4 5-6 5 11 5 17 5-4 5-3 5 15 5 1 5 14 5-4 5-6 5 9 5 7 5 23 5-7 5 6 5 19 5-11 5 14 5 13 5 4 5-13 5 11 5-1 5 13 5-6 5 3 5 8 5 2 5 18 5-4 5 7 5 3 5 7 5 4 5 6 5 10 5-9 5 14 5-5 5-3 5 5 5 21 5-15 5 9 5 17 5-14 5 6 5 4 5 15 5-13 5 22 5-14 5 14 5 8 5-1 5 2 5 2 5-1 5 20 5-10 5 8 5 2 5 11 5-13 5 1 5 19 5-6 5 6 5 2 5 7 5 3 5 0 5-13 5 20 5-15 5 21 5-16 5 20 5 0 5-10 5 19 5-1 5-7 5 19 5-3 5 1 5 14 5-13 5 3 5 19 5-14 5 16 5-11 5 15 5-7 5 7 5 2 5-2 5 5 5 5 5-8 5 21 5 1 5-10 5 4 5 6 5 11 5-3 5-2 5 13 5-11 5 13 5 3 5-12 5 12 5 3 5 11 5-11 5 6 5 13 5-14 5 21 5-8 5 3 5 19 5-11 5 0 5 3 5 14 5 2 5-6 5 9 5-2 5 15 5-7 5 10 5 12 5-10 5 20 5-5 5 8 5-4 5 14 5 6 5 1 5 12 5-3 5-4 5 25 5-1 5 5 5 3 5-8 5 10 5 0 5 18 5 11 5 2 5 9 5-4 5-2 5 13 5-1 5 8 5 3 5 3 5 15 5 2 5 9 5 8 5-11 5 22 5 2 5 2 5 15 5-5 5-6 5 7 5 10 5 13 5 1 5 7 5-10 5 9 5 11 5 9 5 3 5 3 5 9 5 17 5 3 5-7 5 19 5-16 5 8 5 10 5 13 5 1 5 7 5 12 5-7 5 1 5 11 5 8 5-4 5 4 5 21 5 11 5 5 5-7 5 6 5 13 5 9 5-10 5 18 5-1 5-8 5 10 5-6 5 13 5 8 5 11 5-6 5 12 5 5 5 0 5 4 5 0 5 6 5-1 5 14 5-14 5 20 5 1 5-12 5 19 5-4 5 7 5 4 5 8 5-4 5 5 5-8 5-2 5 15 5 8 5-18 5 19 5-10 5 8 5-5 5 14 5-2 5 13 5-8 5 4 5 9 5-9 5 22 5-6 5 12 5-14 5 15 5-8 5 0 5 11 5 2 5 5 5 0 5-4 5 12 5-8 5 2 5 12 5-2 5 3 5 6 5 0 5-12 5 18 5-8 5 2 5-4 5 4 5 5 5-10 5 16 5-7 5 8 5 2 5-3 5-13 5 10 5-5 5 7 5 2 5-2 5 8 5-10 5 17 5 3 5-2 5-2 5-9 5 12 5-8 5-8 5 8 5 7 5-3 5 3 5-17 5 21 5 0 5-9 5 9 5-17 5 4 5-5 5 11 5 6 5 1 5-18 5 16 5-3 5-7 5 16 5-7 5-10 5 8 5 7 5 4 5-14 5 9 5-11 5 18 5-20 5 21 5-9 5 4 5-2 5-4 5-2 5-5 5 1 5-4 5 4 5 8 5-3 5 1 5 0 5 11 5-1 5-12 5 8 5 9 5-16 5 10 5-2 5 1 5-3 5 4 5-8 5 12 5-8 5-6 5 6 5 1 5 5 5-7 5-1 5-2 5 3 5-2 5 9 5 5 5-6 5-8 5-4 5 19 5-11 5 12 5 8 5 2 5-6 5 8 5-11 5 12 5-6 5-13 5 16 5-14 5 19 5-20 5 16 5-12 5 10 5-3 5 13 5-11 5 13 5 8 5-16 5 18 5-10 5 16 5 3 5-14 5 18 5-8 5-2 5 16 5-12 5-3 5 4 5 17 5 5 5-8 5 5 5 6 5 7 5-15 5 19 5 7 5-11 5 4 5 14 5-9 5 2 5 13 5-5 5 8 5-4 5 13 5-3 5 13 5-2 5 14 5-5 5 11 5-6 5 7 5-7 5 10 5 4 5-9 5 10 5 11 5-14 5 8 5 11 5-6 5-6 5 14 5 2 5 13 5-2 5 7 5-6 5 16 5 2 5-12 5 16 5 10 5-2 5 9 5-14 5 9 5 1 5-4 5 14 5-5 5 8 5 5 5 2 5-9 5 4 5 22 5 2 5-6 5 1 5 10 5-5 5 18 5-14 5 20 5-2 5 1 5 6 5 4 5-7 5 6 5-7 5 2 5 22 5 1 5 2 5-11 5 15 5 6 5-4 5 0 5 10 5-14 5 12 5-2 5 8 5 6 5 1 5 13 5 4 5 1 5 4 5-3 5-2 5 15 5-14 5 13 5 3 5-9 5 3 5 12 5 5 5-9 5 4 5 7 5 0 5 0 5 6 5 4 5 2 5-5 5 3 5-10 5-1 5 14 5-12 5 5 5 10 5-17 5 13 5-8 5 10 5 5 5 2 5-1 5-5 5 0 5-7 5-2 5 14 5-17 5 19 5-18 5 11 5-8 5 2 5 1 5-13 5 10 5-1 5-4 5 0 5-4 5 14 5-14 5-5 5 6 5 7 5-1 5-9 5-5 5 6 5-6 5 5 5-2 5-5 5 4 5-9 5 6 5-6 5-8 5 11 5 4 5-6 5-6 5 3 5 9 5-13 5-5 5 18 5 1 5-3 5-3 5-2 5-6 5 0 5 0 5-12 5-4 5 10 5-3 5 8 5-14 5-1 5-6 5-1 5 3 5 10 5 9 5-20 5 0 5 10 5-9 5-7 5 17 5-17 5 5 5 5 5 0 5 2 5-9 5-12 5-3 5 11 5-3 5-7 5-2 5 3 5-2 5 0 5-1 5 7 5-8 5 7 5-8 5-5 5 13 5-7 5 4 5-14 5 15 5-9 5-6 5-4 5-3 5-1 5 4 5 2 5 6 5-4 5-9 5 2 5-3 5 0 5 6 5 8 5-10 5 17 5 3 5-8 5-12 5 3 5 7 5 10 5 0 5-6 5 3 5-17 5 8 5 2 5-4 5 10 5 3 5 11 5-21 5 5 5-4 5 0 5 2 5 3 5 15 5-12 5 5 5-4 5 2 5 2 5 9 5-4 5 1 5 7 5-10 5 20 5-16 5 10 5 12 5-19 5-3 5 10 5 2 5-1 5 0 5 14 5 2 5-2 5 8 5 7 5-4 5-1 5 7 5 0 5-6 5 20 5-15 5 16 5-7 5 8 5-5 5 6 5-7 5-2 5 15 5 5 5-4 5 12 5-2 5 8 5-14 5 19 5-1 5 6 5-11 5 7 5 9 5-3 5-5 5 3 5 18 5-3 5-10 5 6 5 7 5-7 5 7 5 6 5-10 5 7 5 17 5-15 5 5 5 18 5-2 5-2 5 10 5-12 5-3 5 18 5-2 5-6 5 7 5-9 5 8 5 8 5 9 5-9 5-3 5 3 5 7 5 9 5 4 5 3 5 6 5-2 5 2 5 0 5 4 5 4 5 8 5-16 5 12 5-10 5 2 5 17 5-11 5 4 5-6 5 9 5-9 5 14 5 9 5-6 5-1 5-4 5-6 5 10 5-9 5-2 5 4 5 9 5-6 5 1 5-10 5 17 5-7 5 6 5-1 5 6 5-16 5 2 5 4 5-2 5 10 5-14 5-1 5 9 5-11 5 16 5-11 5-2 5 6 5 9 5-15 5-1 5 3 5 10 5 3 5-17 5-2 5 6 5 1 5 7 5-4 5 0 5-10 5-2 5 10 5-21 5-2 5-1 5 16 5-8 5 2 5-2 5 2 5-8 5-4 5-4 5 6 5-4 5 16 5-6 5-14 5 2 5-3 5 0 5 6 5-16 5 6 5-3 5 8 5-17 5 8 5-13 5 9 5 8 5-7 5-16 5 19 5-11 5 0 5 5 5-10 5-10 5 2 5 5 5-8 5-5 5 5 5-6 5 0 5-1 5 8 5-5 5-5 5 12 5-4 5 3 5-15 5 9 5-9 5 4 5-1 5 2 5-1 5 8 5-8 5-8 5 8 5-16 5 12 5-4 5-8 5 11 5-15 5-2 5 5 5 4 5 2 5-8 5 5 5 9 5 1 5-6 5-9 5 5 5 5 5 1 5 0 5-14 5-2 5 0 5 11 5 4 5-9 5-2 5 4 5-6 5 2 5-10 5-3 5 8 5-3 5-2 5 19 5-5 5-7 5 13 5-19 5 5 5 12 5 2 5-3 5-13 5 9 5-10 5 0 5 18 5-18 5 3 5 0 5 14 5-1 5-9 5 5 5 12 5-16 5-2 5 13 5-11 5 10 5-7 5-5 5 13 5 2 5-10 5-1 5 21 5-14 5 3 5 5 5-3 5 0 5 15 5-18 5 16 5-5 5-10 5 4 5 13 5-1 5-6 5 2 5 15 5-3 5-1 5 9 5-13 5 5 5 14 5-6 5 0 5 9 5 4 5-1 5-2 5-5 5 9 5-8 5 3 5 2 5 13 5 8 5-2 5-8 5 11 5-4 5 13 5-5 5-3 5 4 5-3 5 8 5 2 5 4 5 7 5 8 5-1 5-3 5-3 5-2 5 11 5-11 5 1 5 14 5-9 5 19 5-1 5 1 5 13 5-14 5 5 5 7 5 12 5-18 5 13 5 9 5-15 5 13 5 2 5-6 5 5 5 10 5-8 5 1 5 4 5-11 5 18 5-16 5 21 5 1 5-3 5 3 5-6 5-6 5 8 5 3 5-10 5 16 5-8 5 7 5-5 5 2 5 14 5-2 5-14 5 15 5 3 5-6 5-1 5-10 5 11 5-5 5 14 5-3 5-7 5 12 5-2 5-13 5 0 5-4 5 17 5-15 5 5 5 11 5-9 5-1 5-6 5 0 5 11 5-10 5 18 5-20 5 6 5-2 5 16 5-4 5-14 5-2 5 0 5 14 5 0 5-3 5-4 5-1 5 2 5-12 5 13 5-2 5-4 5-12 5 0 5 18 5 0 5-4 5 2 5-8 5 8 5-5 5-7 5 4 5-14 5 5 5 9 5-10 5 0 5 1 5 8 5-16 5 11 5-5 5-7 5-6 5 10 5-11 5 6 5-3 5 0 5 11 5-17 5 11 5-4 5-6 5 5 5 9 5-15 5 8 5-11 5 3 5-1 5-13 5 16 5-10 5-4 5 0 5 17 5-2 5-12 5-5 5 8 5-16 5 17 5-19 5 0 5 5 5 2 5-12 5 4 5 13 5-6 5-18 5 18 5-8 5 12 5-15 5 1 5 7 5-5 5-6 5 5 5 1 5-7 5 11 5-2 5 0 5-2 5-10 5 9 5-12 5-2 5 8 5-7 5-1 5 11 5 8 5-19 5 7 5-8 5 9 5 0 5-2 5-10 5 14 5-4 5 2 5 2 5 6 5-10 5 10 5-15 5 6 5-7 5 4 5 11 5 1 5-12 5-4 5 2 5 13 5-10 5-4 5 13 5-7 5-2 5 10 5-4 5-16 5 21 5-11 5-5 5 16 5-11 5 5 5 1 5-13"/>
<path stroke="#0000ff" d="M2255 12986l5-18 5 9 5-6 5 14 5-17 5 16 5-10 5 10 5 3 5 3 5-11 5 11 5-5 5 3 5 3 5-1 5 16 5-8 5-6 5 4 5-7 5 4 5 10 5 2 5 0 5 7 5 1 5-3 5-7 5 5 5-9 5 13 5-12 5 16 5-20 5 17 5-6 5 7 5-5 5 7 5-3 5-1 5 7 5-17 5 16 5-7 5 5 5 0 5-4 5 3 5 8 5-11 5 7 5-20 5 10 5 2 5-6 5-7 5 14 5-1 5-8 5-6 5 14 5-1 5 0 5-1 5-12 5 7 5-4 5-2 5 0 5 5 5 6 5-11 5-3 5 6 5 1 5-3 5 6 5 1 5 0 5-14 5 8 5-7 5 8 5-4 5 5 5 2 5-11 5-1 5 13 5-15 5 17 5-6 5-6 5 3 5-12 5 9 5 4 5-19 5 17 5-14 5 1 5 10 5-5 5-8 5 12 5-19 5 12 5-3 5 7 5-18 5 5 5 2 5-9 5 12 5 3 5 1 5-15 5 7 5 8 5-20 5 10 5-10 5 11 5-7 5 5 5-17 5 11 5-5 5-6 5 5 5 7 5-4 5 0 5-7 5 4 5-2 5 9 5-1 5-9 5 1 5-5 5 5 5-9 5 16 5-11 5-9 5 5 5 13 5-13 5 2 5 12 5-3 5-8 5-3 5 5 5 1 5 12 5-6 5 8 5 2 5-1 5-9 5 1 5 5 5 4 5 4 5 1 5-8 5 9 5-5 5 9 5-14 5 18 5-2 5-11 5 2 5 2 5 4 5 7 5 1 5-7 5-11 5 17 5 1 5-16 5 12 5 1 5 1 5 0 5-15 5 5 5-1 5 5 5-12 5 4 5-3 5-3 5 8 5-4 5 6 5-4 5 13 5-13 5 11 5-5 5-13 5 2 5-3 5 1 5 4 5-13 5 2 5 10 5-12 5 14 5-10 5-8 5 14 5-10 5 15 5-2 5 0 5 0 5-18 5-3 5 5 5-1 5-3 5 4 5 4 5 0 5 3 5-5 5 3 5-17 5-2 5 7 5 7 5-10 5-7 5 0 5 1 5 13 5-10 5 11 5 3 5-3 5 4 5-13 5-1 5 2 5-4 5 18 5-15 5 9 5-7 5 5 5-2 5 6 5-9 5 3 5-2 5 5 5 11 5 3 5-18 5 18 5-1 5-11 5 4 5 16 5-12 5 17 5-7 5 10 5-9 5-7 5 10 5-3 5-7 5 16 5 2 5 2 5-6 5-1 5-7 5 16 5-4 5-2 5 0 5 2 5-10 5-6 5 18 5-19 5 5 5 5 5-9 5 4 5 10 5-6 5-2 5-13 5 7 5-8 5 4 5-1 5-1 5-3 5 9 5-7 5 8 5-12 5-5 5 4 5 10 5-11 5 9 5-4 5-9 5-2 5-3 5 6 5 5 5-8 5 13 5-19 5 16 5-15 5 15 5-20 5 15 5-12 5-2 5-3 5 4 5 5 5 12 5 1 5-17 5 11 5-10 5 3 5 10 5-2 5 7 5 0 5-14 5 11 5 5 5 1 5-2 5 0 5 2 5-2 5 3 5 7 5-10 5 3 5 0 5 10 5-12 5 4 5 9 5-5 5 12 5-4 5-7 5 5 5-5 5 5 5-2 5-1 5 12 5 4 5-1 5 3 5 5 5 0 5-15 5 15 5-15 5 2 5 11 5-13 5 17 5 0 5-18 5 13 5 6 5-7 5 1 5 2 5 0 5 1 5 3 5 6 5-17 5 4 5-4 5 1 5 3 5 15 5-11 5 7 5-5 5 15 5-15 5 3 5-1 5-5 5-3 5 5 5-2 5-1 5 19 5-9 5-5 5 12 5-3 5 4 5-6 5-5 5 10 5-4 5 10 5-11 5-2 5-2 5 0 5-2 5 4 5-5 5 11 5-16 5 14 5-13 5 1 5 11 5-3 5 4 5-7 5-4 5 7 5 0 5-12 5 1 5 17 5-5 5 2 5-13 5 16 5-13 5-5 5 4 5-1 5-7 5 15 5 1 5-14 5 7 5 6 5-10 5 3 5-6 5 4 5-3 5 10 5-15 5-4 5 16 5-16 5 6 5 5 5-7 5 14 5-10 5-2 5-5 5 14 5-16 5 12 5-12 5 10 5-17 5 16 5 3 5-6 5-11 5 17 5-4 5-12 5 15 5-20 5 0 5-4 5 9 5-5 5-6 5 8 5 7 5-15 5 11 5-9 5 7 5-2 5-1 5-5 5 10 5-4 5 4 5-11 5 15 5-19 5 5 5 10 5-10 5 4 5 5 5 5 5 2 5-11 5 7 5-12 5 18 5-4 5 6 5-13 5 7 5 6 5-13 5 17 5-1 5 2 5-12 5 13 5-4 5-8 5 1 5 16 5-8 5-2 5 3 5 9 5-10 5 3 5 11 5 7 5-4 5 6 5-13 5 2 5 1 5 1 5-1 5 11 5-9 5 3 5 1 5 10 5-14 5 7 5-8 5 10 5-7 5-6 5 11 5-3 5-1 5 1 5-5 5 15 5-3 5 2 5-2 5-4 5 1 5 0 5 8 5-12 5-4 5-3 5 5 5 4 5-1 5 2 5-3 5-12 5 6 5-1 5-6 5 9 5 3 5-14 5 10 5-8 5 13 5-4 5-10 5 9 5-5 5-1 5 10 5-7 5 9 5-1 5-2 5-10 5 10 5-16 5 14 5-8 5 11 5-18 5 10 5-11 5 3 5 5 5-8 5 12 5-2 5-5 5 7 5-3 5-9 5 12 5 0 5 3 5 1 5-10 5 7 5 0 5-10 5 14 5-9 5 3 5 3 5-2 5-3 5 14 5-14 5 12 5-7 5 16 5 1 5-4 5 4 5-2 5-2 5 1 5 3 5-14 5 10 5-10 5 6 5-2 5 6 5 1 5 6 5-1 5-15 5 2 5-2 5 13 5-8 5 12 5-15 5 14 5-4 5 1 5-3 5 6 5-13 5 13 5 0 5-6 5 1 5-9 5 7 5 2 5-4 5-5 5 19 5-3 5-8 5 3 5 1 5 8 5-9 5 1 5 1 5-16 5 9 5 6 5-2 5 2 5-15 5 12 5-10 5 12 5-2 5-8 5 4 5-3 5 9 5-9 5-10 5 9 5-11 5 2 5 7 5 0 5-8 5 6 5-1 5 0 5 4 5-8 5 0 5 3 5 9 5 4 5-4 5-14 5 14 5 0 5 0 5-3 5-9 5 4 5-2 5-8 5 9 5-4 5 15 5-5 5 4 5-14 5 12 5 1 5-9 5-5 5 3 5 2 5-2 5-2 5 7 5 5 5-13 5 11 5-17 5 12 5-8 5 4 5-3 5-6 5 2 5 17 5-11 5 11 5-9 5 8 5-9 5 11 5-11 5-4 5-3 5-2 5 1 5 12 5-6 5 11 5-13 5 14 5-15 5 1 5 1 5-2 5 2 5 7 5-15 5 2 5-5 5 14 5-13 5 7 5 6 5-11 5-3 5 5 5 16 5-15 5 17 5-16 5 0 5 11 5-3 5-8 5 9 5-10 5 16 5-5 5 9 5-8 5-2 5 5 5-6 5-11 5 10 5-7 5 7 5 6 5-8 5 5 5-8 5-7 5 2 5 0 5 4 5 0 5 1 5 6 5 1 5 1 5 0 5 2 5-3 5-5 5-1 5-7 5-2 5 16 5-15 5 16 5-9 5-6 5 17 5-2 5 6 5-8 5 8 5-9 5-4 5 2 5 4 5 3 5-2 5 1 5-6 5 0 5 2 5 10 5-10 5-8 5 5 5 4 5 2 5 1 5-5 5 3 5 0 5 1 5-4 5 5 5-2 5-19 5 1 5 16 5-6 5-11 5 15 5-17 5 9 5-1 5 0 5 1 5 0 5 8 5-7 5 10 5-6 5 8 5 2 5-1 5-4 5 1 5-15 5 17 5-10 5-3 5 1 5-12 5 3 5-7 5 17 5-9 5-7 5 17 5-8 5 2 5 0 5-3 5-6 5-5 5-6 5 10 5-12 5 3 5 9 5-1 5-3 5-14 5 13 5-18 5 13 5-6 5 2 5-3 5-10 5-6 5 11 5-14 5-1 5 2 5-11 5 3 5-9 5 4 5 7 5-1 5-1 5-6 5-2 5-8 5 8 5-17 5-1 5-3 5 3 5-10 5 10 5-14 5 8 5-5 5 1 5-2 5-1 5-8 5-1 5-8 5 2 5-11 5 15 5-3 5-19 5-4 5 5 5 1 5-3 5-5 5 3 5-7 5-2 5-10 5 8 5-14 5 12 5-11 5-5 5 3 5 2 5-17 5 1 5 8 5-7 5-13 5-5 5 5 5-18 5-2 5 7 5-3 5-2 5 1 5 0 5-13 5-4 5 8 5-17 5 8 5-7 5-2 5-9 5-14 5 9 5-8 5-10 5-5 5-1 5-6 5-4 5 10 5-2 5-2 5-11 5-3 5-12 5-2 5 8 5-9 5-5 5-1 5-4 5-7 5-18 5 6 5 2 5-5 5-1 5-12 5-3 5-14 5 6 5-3 5 3 5-5 5-21 5-3 5-1 5 3 5-18 5 7 5-10 5 1 5-17 5-4 5-13 5 4 5-2 5-12 5-8 5 1 5-11 5-16 5 5 5-12 5-17 5-10 5 1 5-12 5-6 5-19 5 4 5-6 5-18 5-11 5 4 5-9 5-26 5-1 5-11 5-13 5-4 5-6 5-15 5-9 5 2 5-13 5-16 5-13 5-5 5 2 5-12 5-21 5-2 5-21 5 9 5-8 5-23 5-6 5-9 5-11 5 1 5-15 5-17 5-4 5 0 5-8 5-23 5 2 5-8 5-9 5-8 5-5 5-16 5 2 5-15 5-15 5 4 5-13 5-2 5-13 5-4 5-7 5-4 5-15 5 0 5-16 5 6 5-16 5-8 5-6 5 6 5-12 5-2 5-12 5-4 5 2 5-5 5-23 5 12 5-15 5-1 5-2 5-20 5-2 5 4 5-13 5 3 5-6 5-2 5-11 5-17 5 10 5-22 5-7 5-3 5-10 5-7 5 4 5 0 5-18 5-4 5-2 5-14 5-3 5 1 5-23 5 1 5-13 5 4 5-18 5 5 5-14 5 4 5-18 5-4 5-14 5-3 5-5 5 3 5-13 5-3 5-7 5-23 5-3 5 2 5-10 5-12 5-12 5-7 5-18 5-7 5-4 5-12 5-7 5 3 5-9 5-11 5-13 5-2 5-24 5-2 5-13 5 1 5-22 5-11 5 1 5-9 5-12 5-9 5-22 5-2 5-12 5-2 5-20 5-14 5-8 5-8 5-1 5-18 5-11 5-16 5-14 5-1 5-22 5-19 5 0 5-23 5-8 5-8 5-8 5-29 5 0 5-24 5-3 5-14 5-15 5-13 5-9 5-3 5-23 5-9 5-20 5-9 5-20 5 4 5-24 5 0 5-28 5-1 5-13 5-10 5-11 5-28 5 0 5-28 5-8 5-2 5-17 5-5 5-14 5-21 5-15 5-14 5-16 5 1 5-10 5-29 5-5 5-7 5-17 5-19 5-2 5-24 5-16 5-10 5-16 5-14 5-12 5-23 5-4 5-15 5-10 5-22 5-17 5 1 5-20 5-10 5-21 5-13 5-16 5-10 5-11 5-22 5-12 5-11 5-10 5-21 5-22 5-6 5-16 5-5 5-24 5-26 5-4 5-27 5-10 5-21 5-2 5-23 5 2 5-29 5 0 5-16 5-23 5-17 5-16 5-10 5-29 5-14 5-24 5-10 5-21 5-1 5-26 5-21 5-16 5-18 5-18 5-17 5-4 5-28 5-3 5-14 5-18 5-32 5-5 5-21 5-11 5-31 5-11 5-17 5-23 5-6 5-11 5-12 5-13 5-32 5-1 5-24 5-6 5-27 5-10 5-14 5-8 5-16 5-9 5-29 5-7 5-3 5-21 5 1 5-20 5-1 5-20 5 9 5-24 5-1 5-8 5-8 5-2 5-7 5-2 5-5 5-11 5-9 5-18 5-5 5-10 5-5 5 8 5-20 5-2 5-5 5-11 5-3 5-8 5-2 5-9 5-8 5 12 5-8 5-6 5-17 5 7 5-9 5-15 5-5 5 7 5-17 5 9 5 4 5-2 5-4 5-13 5-12 5 3 5-6 5 2 5-1 5 2 5-17 5 0 5-6 5 15 5-6 5-5 5 8 5 2 5 10 5-8 5 9 5 1 5-5 5 3 5 4 5 6 5 4 5 5 5 5 5-14 5 19 5-8 5 10 5-6 5 10 5 2 5-11 5 20 5-14 5 11 5-3 5 8 5-8 5 8 5 4 5-3 5 4 5-9 5 5 5-4 5 9 5-15 5 17 5-16 5 19 5-14 5 12 5-13 5 13 5-12 5-3 5 16 5-6 5 6 5-1 5-14 5 0 5 13 5 3 5-13 5 15 5-18 5 14 5-3 5-5 5-1 5-2 5 3 5 0 5-7 5-3 5 11 5-6 5-1 5 4 5-1 5 15 5-12 5 8 5-13 5 13 5 7 5-2 5 1 5-5 5 2 5 9 5-13 5 5 5 4 5-8 5 4 5-9 5 14 5-10 5 3 5-1 5 9 5-7 5 12 5-4 5 3 5-5 5-8 5 2 5 2 5-4 5 5 5 6 5-6 5-7 5 12 5 5 5-9 5-6 5 13 5-3 5 6 5-4 5 6 5-17 5 14 5 0 5 3 5-11 5 6 5-10 5 7 5-17 5-3 5 12 5-5 5-11 5 1 5 1 5-5 5-8 5 11 5-22 5 3 5-8 5-6 5-15 5-8 5 1 5 0 5-20 5-13 5-4 5-17 5-8 5-4 5-22 5-9 5-9 5-22 5-13 5 4 5-14 5-11 5-19 5-14 5-21 5-11 5-17 5-5 5-16 5-19 5-16 5-4 5-23 5-18 5-10 5-3 5-18 5-18 5-20 5-10 5-23 5-9 5-11 5-23 5-5 5-18 5-23 5-13 5-6 5-5 5-30 5-3 5-19 5-15 5-6 5-23 5-24 5-13 5-5 5-17 5-23 5-13 5-17 5-20 5 2 5-29 5-15 5-16 5 2 5-15 5-21 5-16 5-14 5-22 5-7 5-24 5-12 5-21 5-16 5-16 5-14 5-15 5-19 5-23 5-17 5-17 5-3 5-23 5-27 5-5 5-12 5-16 5-17 5-20 5-33 5-12 5-15 5-20 5-24 5-25 5-1 5-20 5-17 5-27 5-20 5-6 5-21 5-17 5-30 5-15 5-4 5-14 5-28 5-7 5-32 5-10 5-23 5-14 5-23 5-13 5-15 5-15 5-24 5-9 5-26 5-2 5-32 5-20 5-14 5-11 5-20 5-12 5-28 5-11 5-14 5-9 5-18 5-23 5-24 5-21 5-8 5-19 5-20 5-12 5-22 5-11 5-27 5-17 5-6 5-25 5-11 5-36 5-1 5-35 5-4 5-21 5-26 5-14 5-14 5-16 5-19 5-27 5 1 5-32 5-11 5-16 5-18 5-35 5-5 5-27 5-17 5-28 5-22 5-9 5-12 5-28 5-8 5-24 5-33 5 0 5-36 5-17 5-12 5-12 5-35 5-16 5-24 5-18 5-12 5-16 5-20 5-28 5-11 5-17 5-7 5-29 5-11 5-19 5-11 5-20 5-9 5-24 5-22 5-18 5-10 5-29 5-8 5-29 5-7 5-33 5-5 5-24 5-21 5-8 5-27 5-13 5-3 5-21 5-20 5-20 5-15 5-14 5-11 5-24 5-12 5-11 5-6 5-15 5-14 5-29 5-16 5 0 5-18 5-22 5-9 5-4 5-15 5-11 5-23 5-21 5-7 5-23 5-14 5-15 5-10 5-16 5-12 5-4 5-15 5-27 5 2 5-14 5-12 5-28 5-3 5-17 5-10 5-9 5-27 5 4 5-10 5-14 5-15 5-9 5-19 5 1 5-15 5-10 5-7 5-22 5-10 5-7 5-10 5 5 5-22 5-5 5-3 5-17 5 6 5-7 5-18 5-3 5-3 5-4 5-15 5-13 5-17 5 4 5-9 5-9 5-16 5 1 5-15 5-13 5-12 5-13 5 5 5-17 5 2 5-20 5-9 5 0 5-17 5 2 5-18 5-3 5-26 5-11 5-11 5 7 5-18 5-5 5-14 5-3 5-14 5-18 5-18 5-7 5-11 5-11 5-4 5-8 5-12 5-24 5-13 5-3 5-10 5-12 5-8 5-21 5-16 5-4 5-11 5-16 5 0 5-14 5-10 5-6 5-14 5-1 5-10 5-13 5-6 5-13 5-11 5-3 5-12 5-14 5-4 5-12 5-18 5 3 5-14 5 0 5-9 5-25 5-5 5 0 5-19 5 4 5-11 5-3 5-21 5-3 5-11 5-8 5-5 5-22 5-13 5 1 5-24 5-2 5-3 5-10 5-11 5-22 5 11 5-18 5-14 5-14 5-9 5-11 5 1 5-11 5-8 5 4 5-21 5 1 5 1 5-7 5-9 5-10 5-14 5 0 5 1 5-4 5-9 5 0 5-13 5-1 5-4 5-20 5-5 5 11 5-20 5-2 5-6 5 3 5-21 5 8 5 16 5 34 5 81 5 76 5 39 5 57 5 57 5 46 5 49 5 34 5 37 5 46 5 50 5 32 5 39 5 48 5 34 5 29 5 40 5 46 5 18 5 51 5 28 5 49 5 29 5 51 5 45 5 25 5 59 5 23 5 39 5 56 5 34 5 29 5 51 5 35 5 48 5 37 5 36 5 30 5 42 5 35 5 27 5 48 5 29 5 40 5 31 5 39 5 45 5 44 5 37 5 24 5 46 5 32 5 35 5 41 5 44 5 43 5 23 5 45 5 50 5 36 5 39 5 48 5 25 5 58 5 27 5 53 5 41 5 42 5 37 5 42 5 29 5 48 5 45 5 32 5 48 5 36 5 42 5 43 5 28 5 44 5 26 5 49 5 34 5 30 5 33 5 30 5 29 5 42 5 20 5 42 5 23 5 46 5 29 5 36 5 24 5 38 5 37 5 28 5 38 5 19 5 37 5 29 5 46 5 26 5 41 5 33 5 18 5 43 5 35 5 34 5 15 5 35 5 41 5 41 5 21 5 52 5 27 5 18 5 47 5 25 5 26 5 41 5 31 5 28 5 22 5 28 5 29 5 33 5 35 5 29 5 25 5 42 5 14 5 24 5 28 5 31 5 30 5 15 5 27 5 23 5 33 5 36 5 20 5 25 5 25 5 10 5 32 5 19 5 22 5 32 5 19 5 25 5 17 5 37 5 18 5 23 5 25 5 26 5 8 5 24 5 36 5 19 5 28 5 13 5 37 5 13 5 31 5 25 5 15 5 20 5 24 5 14 5 19 5 38 5 14 5 9 5 29 5 12 5 31 5 8 5 11 5 32 5 24 5 12 5 22 5-1 5 19 5 24 5 7 5 8 5 17 5 12 5 22 5 15 5 12 5 11 5 14 5 15 5-2 5 11 5 25 5 8 5 5 5 13 5 6 5 3 5 15 5 3 5 7 5 14 5 19 5-4 5 8 5 13 5 20 5 10 5-3 5 22 5-1 5 12 5 8 5 2 5 14 5 7 5-2 5 2 5 20 5 3 5 1 5 3 5 12 5 6 5 13 5 2 5 1 5 13 5-2 5 10 5-12 5 3 5 20 5 2 5-5 5 2 5 4 5 9 5 14 5-12 5 3 5 13 5-11 5 3 5 12 5 4 5 4 5-16 5 7 5 8 5-3 5 10 5-8 5 9 5-7 5 1 5 15 5-1 5 0 5-2 5 8 5 7 5-9 5-3 5 9 5 15 5-6 5 14 5-9 5 11 5-2 5 5 5 0 5 7 5 6 5 2 5-3 5-4 5 19 5-10 5 9 5 13 5 7 5-1 5-8 5 21 5-14 5 4 5 17 5 7 5-2 5 8 5-1 5-7 5 16 5 8 5 0 5 9 5 0 5-3 5 19 5-8 5 4 5 5 5 10 5 7 5 2 5 5 5 11 5-3 5 15 5-3 5 7 5 7 5 23 5 7 5 12 5 4 5 0 5 3 5 9 5 7 5 13 5-5 5 20 5 10 5 9 5 2 5 9 5 16 5-2 5 16 5-4 5 12 5 15 5 14 5-2 5 23 5 6 5 3 5 9 5 19 5 19 5 14 5 6 5-1 5 24 5-4 5 16 5 16 5 5 5 11 5 13 5 21 5 3 5 4 5 18 5 16 5 11 5 19 5 3 5 17 5 11 5 8 5 12 5 14 5 7 5 13 5 12 5 13 5 11 5 18 5 7 5 29 5 2 5 4 5 26 5 14 5 16 5-4 5 13 5 20 5 8 5 13 5 20 5 14 5-6 5 21 5 22 5-7 5 18 5 20 5-2 5 22 5 20 5 4 5 2 5 14 5 19 5 4 5 25 5 4 5 14 5 19 5 10 5 12 5-2 5 13 5 16 5 8 5 16 5 2 5 20 5-3 5 20 5 13 5 15 5-2 5 20 5 3 5 10 5 2 5 21 5-7 5 28 5 0 5 10 5 0 5 16 5-4 5 19 5 4 5-6 5 21 5 6 5 2 5 15 5 9 5 3 5 10 5 8 5 7 5 5 5-9 5 20 5 8 5-5 5 14 5-9 5 2 5 13 5-1 5 5 5 9 5 14 5-7 5 12 5-7 5 1 5-6 5 3 5 17 5-2 5 1 5 9 5-3 5-5 5 14 5-1 5-12 5 17 5-9 5 11 5 1 5 3 5-14 5 13 5-7 5 9 5-17 5 13 5-1 5-11 5-1 5 0 5 4 5-18 5 14 5-12 5-1 5 7 5-18 5-2 5 9 5 0 5-11 5 7 5-8 5-9 5 2 5-5 5 3 5-3 5-4 5 7 5-13 5-7 5 12 5-11 5 2 5-14 5-2 5-10 5 10 5-17 5 9 5-15 5 6 5-7 5-2 5-16 5 11 5-15 5-10 5 10 5-15 5 10 5-1 5-15 5-6 5-4 5 5 5-2 5-1 5-16 5-8 5 6 5 1 5-3 5-6 5-5 5 9 5 2 5-16 5 6 5-1 5 1 5-15 5-2 5-10 5 0 5 9 5-11 5 10 5-13 5 7 5-10 5 6 5-9 5-7 5-2 5-1 5-5 5 15 5 1 5-2 5-16 5 18 5-3 5-1 5-6 5-11 5 1 5 3 5-3 5-1 5 20 5-9 5 4 5-11 5 15 5-3 5-14 5 3 5 11 5-14 5 0 5 2 5 4 5 16 5 4 5 0 5-1 5 13 5 0 5-7 5 6 5 15 5-1 5-1 5 6 5-3 5 10 5-4 5 23 5 2 5-1 5 16 5-2 5 3 5 6 5 6 5 11 5 2 5-5 5 2 5 24 5 3 5 2 5 4 5 15 5-12 5 8 5 13 5 23 5 4 5 8 5 5 5 3 5 4 5 9 5 7 5 14 5 6 5 20 5 8 5 1 5 1 5 10 5 1 5 20 5 1 5 18 5-4 5 19 5-1 5 14 5 2 5 18 5-2 5 8 5 7 5 16 5 14 5 1 5 15 5 2 5 6 5 7 5-2 5 19 5 0 5 6 5 7 5 8 5 17 5 0 5 7 5 11 5 19 5-6 5 9 5 7 5 9 5 7 5 18 5 10 5-4 5 16 5-10 5 14 5 13 5-9 5 25 5-6 5 9 5 15 5 6 5-9 5 11 5 10 5 0 5 15 5-8 5 23 5 0 5 7 5 8 5-4 5 7 5-1 5 16 5-6 5 1 5 20 5-7 5 17 5-6 5 10 5 8 5-1 5 14 5 2 5 4 5-5 5-6 5 3 5 1 5 10 5 11 5-6 5-1 5-5 5 8 5-1 5 8 5 2 5 12 5-9 5 12 5-16 5 8 5 9 5-4 5-5 5 7 5 5 5 10 5-16 5-4 5 12 5-4 5-7 5 0 5-3 5 6 5 2 5-13 5 12 5-11 5 0 5-6 5-5 5 0 5-1 5 1 5-1 5 4 5-14 5 4 5-15 5 0 5-13 5 14 5-13 5 3 5-5 5-4 5-10 5 7 5-12 5-12 5-5 5 3 5-4 5-11 5-7 5 7 5-10 5-18 5 6 5-22 5 9 5-5 5-18 5 13 5-6 5-18 5 4 5-8 5-12 5-3 5-5 5 2 5-8 5 1 5-20 5-3 5-6 5-3 5 0 5 0 5-6 5-18 5-3 5 1 5-4 5-4 5-16 5-4 5-13 5 4 5-10 5 1 5-2 5-12 5-5 5 9 5-4 5 1 5-13 5-13 5-4 5 15 5-8 5-15 5 3 5-8 5 8 5-4 5 0 5-8 5-8 5 8 5-12 5 6 5-11 5 0 5 3 5-9 5 9 5-10 5 6 5-8 5-2 5-2 5-7 5 2 5 9 5-6 5 0 5-9 5-6 5 12 5-8 5 7 5-15 5 6 5 6 5 7 5-14 5 16 5-5 5-10 5-3 5 18 5-4 5 2 5-5 5-5 5 10 5 5 5-5 5 16 5-2 5-12 5 8 5 16 5 0 5 4 5-8 5 17 5 0 5-1 5 10 5-4 5 17 5-11 5 8 5 14 5-1 5 15 5 4 5 3 5-1 5 8 5 4 5 6 5 0 5 11 5 15 5 3 5 2 5 7 5 3 5 5 5 9 5 16 5 13 5 2 5 0 5 12 5-2 5 8 5 8 5 19 5 9 5 0 5 23 5-9 5 15 5 11 5-5 5 12 5 12 5 10 5 7 5 7 5-2 5 9 5 26 5-5 5 13 5 15 5-11 5 21 5 1 5 0 5 5 5 13 5 14 5-4 5 8 5 12 5 12 5-1 5 6 5 17 5-4 5 10 5 3 5 2 5 3 5 11 5 10 5-7 5 9 5 5 5 15 5-7 5 5 5 4 5 12 5-16 5 7 5 17 5-6 5 1 5 17 5-12 5 2 5 23 5 2 5-4 5-5 5 11 5-12 5 6 5-3 5 6 5-7 5 11 5 1 5 12 5-11 5 5 5-6 5 4 5 0 5 16 5-16 5 11 5 4 5 3 5-4 5-10 5 16 5-8 5 0 5 8 5-18 5 14 5 1 5-3 5-11 5 13 5-16 5 0 5 11 5 2 5-12 5 4 5 8 5-6 5-6 5 3 5 6 5 2 5-12 5-5 5 9 5-13 5-4 5 0 5-3 5-3 5 4 5-5 5 7 5-12 5 4 5 10 5-11 5 6 5-15 5 9 5-16 5 15 5-4 5-9 5-14 5 7 5-4 5-6 5-1 5-14 5 7 5-15 5 2 5-6 5-7 5-3 5 8 5-19 5 6 5-3 5-11 5-3 5 2 5-6 5-6 5-5 5-5 5 1 5 0 5-20 5-4 5-1 5-13 5-8 5 5 5-10 5-12 5 2 5 6 5-21 5 13 5-10 5-1 5-11 5-2 5-1 5-20 5-5 5 6 5-6 5-3 5-6 5 7 5-12 5-5 5-16 5 0 5-3 5 11 5-20 5 4 5 1 5-7 5-2 5-12 5-9 5-3 5 2 5-4 5-6 5 6 5-14 5-6 5 6 5-3 5 2 5-6 5-15 5 6 5-10 5-2 5 7 5 2 5-4 5-15 5 2 5 6 5 0 5-17 5 4 5 6 5-8 5-4 5 4 5 6 5 4 5 0 5-6 5-1 5-3 5 3 5-4 5 2 5 6 5-14 5 0 5 12 5-2 5 10 5-11 5 8 5 1 5-9 5-5 5 9 5-4 5 1 5 7 5-4 5 10 5 4 5-1 5 4 5-5 5 10 5 8 5 2 5-12 5 8 5 11 5 1 5 0 5 13 5 5 5-3 5-1 5 18 5-6 5 0 5-1 5 20 5-1 5-7 5 8 5 21 5-11 5 19 5 2 5 4 5 9 5-1 5 11 5 11 5 0 5 5 5 7 5-2 5 7 5 12 5 2 5-4 5 19 5-2 5 3 5 5 5 22 5 3 5-1 5 6 5 21 5-6 5 16 5 8 5 11 5 1 5-6 5 13 5 14 5-6 5 2 5 5 5 22 5 7 5-3 5 2 5 8 5 1 5 10 5 6 5 6 5-3 5 22 5-1 5 4 5 11 5-10 5 16 5 1 5 10 5 10 5-13 5 6 5 8 5 8 5 10 5 2 5 1 5-3 5 11 5 3 5-2 5 20 5 1 5-2 5-5 5 9 5-3 5 11 5-8 5 15 5 4 5 11 5-6 5 4 5-11 5 7 5-4 5 18 5 4 5-9 5 12 5-7 5 9 5 8 5-18 5 11 5-5 5 11 5-9 5 10 5-2 5 6 5 1 5-3 5-5 5 5 5 4 5 0 5-4 5-4 5-9 5 0 5 10 5-5 5 5 5-3 5-4 5-5 5 11 5-14 5 5 5-13 5 15 5-19 5 4 5 3 5-15 5 7 5-6 5 10 5-18 5 0 5 5 5 0 5-4 5-11 5 4 5-13 5 9 5-12 5 9 5-16 5-11 5-5 5 3 5-6 5 10 5-7 5-11 5-5 5-7 5-2 5 9 5-17 5 11 5-11 5 2 5-5 5-15 5 9 5-2 5-19 5 13 5-7 5-8 5-2 5-16 5-1 5 8 5-5 5-18 5 2 5-8 5-8 5 8 5-7 5-16 5 6 5-19 5-4 5 1 5-13 5 8 5 1 5-10 5 7 5-14 5-5 5 3 5-15 5 10 5-3 5-21 5 12 5-8 5 4 5-7 5-2 5-6 5-4 5-7 5-2 5-20 5 11 5-6 5-10 5-2 5-10 5 1 5 5 5-6 5 4 5-16 5-2 5 8 5 3 5-14 5-2 5-9 5 1 5 11 5-1 5-12 5 5 5-15 5 6 5 3 5-11 5 5 5 2 5-12 5 2 5 5 5-9 5-4 5-2 5 11 5-6 5 3 5 2 5-5 5 8 5-5 5-7 5 9 5 0 5 4 5 8 5-16 5 13 5 4 5-2 5-1 5 6 5-3 5-2"/>
<path stroke="#ff00ff" d="M2255 12994l5-2 5 0 5-3 5 7 5 5 5-10 5 12 5 0 5-1 5 6 5-6 5 4 5 3 5-2 5-6 5-3 5 10 5 5 5 3 5-4 5 7 5-9 5-4 5 16 5-1 5-8 5 4 5-9 5 21 5-10 5 4 5-9 5-1 5 9 5 1 5 7 5-5 5-1 5 0 5-6 5 2 5 5 5-9 5 3 5-3 5-3 5 7 5-3 5 3 5-4 5-4 5 18 5-13 5 2 5 2 5 13 5-11 5 8 5-15 5-1 5 7 5 5 5 1 5-10 5 6 5-13 5 10 5 0 5-8 5 7 5-7 5 9 5-14 5 9 5 9 5-6 5 7 5 1 5-4 5 2 5-4 5-7 5 4 5-3 5-1 5-16 5 1 5 9 5 6 5-6 5-1 5-7 5 12 5 7 5-7 5-9 5 7 5-6 5-1 5-7 5 13 5-15 5 16 5-17 5 15 5-10 5-2 5 2 5-8 5-1 5 9 5 2 5-17 5 2 5 12 5-6 5 4 5-11 5 7 5-2 5 0 5-5 5-4 5 1 5-5 5-1 5 6 5 9 5-10 5 5 5 4 5-16 5 5 5-1 5 6 5 4 5-17 5 11 5-10 5 6 5 1 5-3 5 1 5-2 5 2 5-5 5 3 5-3 5 4 5 6 5-14 5 20 5-17 5 14 5-10 5-5 5 13 5-5 5-6 5 1 5 12 5-1 5-7 5 1 5 9 5-9 5 2 5 11 5-2 5-15 5 10 5 0 5 8 5-5 5-3 5 14 5-10 5 11 5-5 5 9 5-11 5 13 5-12 5 4 5 0 5-5 5 3 5-8 5 10 5 0 5 8 5-11 5-4 5 5 5 8 5-16 5 0 5 19 5-9 5 3 5-6 5-6 5 9 5-9 5 3 5-5 5 12 5-11 5 5 5-11 5 9 5-5 5-3 5 4 5-4 5 8 5-5 5 3 5-20 5 4 5 12 5-13 5-6 5 14 5-14 5 13 5-3 5 7 5-6 5 4 5-10 5 13 5-16 5 11 5-4 5-6 5-3 5-7 5 13 5-13 5 13 5 0 5-14 5 1 5 8 5 2 5-14 5 16 5 0 5-3 5 7 5 4 5-13 5 17 5 0 5-6 5-10 5 16 5-5 5-8 5-1 5 13 5-15 5 12 5-8 5 7 5 4 5-12 5 5 5-1 5 6 5-5 5 16 5-2 5-4 5-5 5 2 5 10 5 9 5 2 5 0 5-12 5 8 5-4 5 1 5 3 5-7 5 1 5 4 5-3 5 12 5-10 5-8 5 12 5 6 5-8 5-5 5 14 5-5 5 0 5-4 5 4 5-4 5-4 5-6 5 8 5 2 5-18 5-2 5 0 5 14 5-7 5-6 5 9 5-2 5-11 5-2 5 3 5 0 5 5 5 0 5-12 5 11 5-16 5 2 5 3 5-8 5 4 5-7 5 15 5-2 5-6 5 6 5-1 5 11 5-12 5-3 5 10 5-2 5-2 5-13 5 0 5 17 5 1 5-15 5 8 5 1 5-2 5-2 5 5 5 15 5-11 5-4 5-3 5 12 5 5 5-10 5 12 5-13 5 3 5 11 5-10 5 8 5 2 5-9 5 17 5-1 5 1 5-2 5-7 5 11 5 0 5 3 5 5 5-7 5 12 5-9 5-3 5 5 5 9 5-4 5-11 5 5 5 9 5 7 5-8 5 0 5-11 5 3 5 12 5-11 5 6 5 3 5-2 5 4 5-2 5-6 5 6 5 3 5-12 5 19 5-6 5 8 5-1 5-16 5 2 5 16 5-11 5 13 5 2 5-3 5-3 5-3 5 10 5-6 5-10 5 13 5-7 5-4 5 5 5 9 5-3 5-8 5 7 5-6 5-3 5-4 5 12 5-8 5 6 5-6 5 7 5-13 5 4 5 6 5 4 5-2 5-9 5 3 5 2 5 10 5-13 5 14 5-12 5 16 5-16 5 5 5-2 5 5 5-8 5 9 5 2 5-7 5-15 5 0 5 16 5-7 5 3 5 7 5-1 5-5 5-5 5-5 5 0 5-2 5 7 5 10 5-18 5 8 5 1 5 6 5 1 5-7 5-1 5 2 5-7 5 5 5 0 5-14 5 5 5-5 5-5 5 6 5 3 5-2 5-4 5 2 5-2 5-10 5 12 5 2 5-6 5 4 5-8 5 10 5-8 5 2 5-1 5-6 5-7 5 15 5-2 5-9 5 0 5 9 5-1 5-10 5 11 5-9 5 10 5-15 5 16 5-12 5 10 5-14 5 3 5-1 5 7 5-6 5 9 5 2 5 3 5-5 5 1 5-3 5 4 5 0 5-6 5 5 5-9 5 7 5 1 5 6 5 8 5-13 5 8 5-7 5 5 5 8 5-2 5 2 5 3 5-8 5 1 5-2 5 4 5 8 5 3 5 2 5-2 5-8 5 14 5 5 5 2 5-16 5 7 5 2 5 3 5 3 5-16 5 18 5-9 5 11 5-3 5-7 5 11 5-9 5-7 5 2 5 7 5 5 5-10 5 13 5-14 5 14 5-6 5 2 5-7 5 4 5-4 5 3 5 5 5-2 5 0 5-9 5-2 5 5 5 7 5-5 5-9 5 11 5 2 5-3 5-1 5-1 5-3 5-4 5 5 5-7 5-6 5 15 5 1 5-15 5 14 5-3 5-7 5-2 5-5 5 4 5-6 5 9 5 5 5-13 5-1 5 5 5-7 5 2 5 3 5 14 5-4 5 5 5 1 5-11 5-3 5-2 5 12 5-4 5 6 5-5 5-10 5 7 5-1 5-4 5 1 5 12 5 0 5-5 5-5 5 3 5 4 5 6 5-6 5 7 5-8 5 5 5 5 5-6 5 3 5-7 5 2 5 12 5-11 5 2 5 6 5 10 5 2 5-3 5-8 5-2 5 5 5-8 5 3 5 7 5-4 5 5 5-11 5 4 5 8 5-8 5 1 5 15 5-13 5 10 5-10 5 9 5-2 5-11 5-5 5 11 5-7 5 0 5 8 5-6 5-3 5 11 5-1 5 0 5-10 5 13 5-10 5-4 5-5 5 13 5-3 5 4 5-17 5 0 5 17 5-13 5 2 5-4 5 8 5-5 5-2 5 18 5-18 5 3 5-5 5 11 5-2 5 3 5-9 5 7 5 1 5 1 5-15 5 5 5 2 5-9 5 9 5-2 5 4 5-1 5-5 5-5 5 2 5 6 5 9 5-14 5 12 5-11 5 6 5 6 5-10 5-5 5 2 5 8 5-1 5-1 5-9 5 10 5 1 5-8 5-5 5 6 5 4 5-6 5 3 5 5 5 4 5-18 5 11 5-14 5 3 5 8 5-10 5 11 5 3 5-1 5 4 5-5 5-3 5 9 5-14 5-4 5 6 5 2 5-5 5 11 5-13 5-2 5 8 5-6 5 9 5-6 5 1 5 5 5-2 5-14 5 9 5 1 5-4 5 1 5 6 5 4 5-1 5 1 5-7 5-7 5 9 5-11 5-4 5 3 5-2 5 7 5 0 5 11 5-1 5 0 5-2 5-11 5-1 5 12 5-1 5-15 5 7 5-3 5 5 5-3 5 0 5 3 5 3 5 2 5-8 5-3 5 10 5-16 5 15 5-15 5 5 5 13 5-13 5-5 5 1 5 16 5-11 5-1 5 10 5-1 5-13 5-3 5 15 5-10 5 1 5-7 5 4 5 9 5-1 5-15 5 8 5-9 5 9 5 7 5-10 5 8 5-8 5 2 5 7 5-6 5-3 5 3 5 10 5-7 5 5 5-6 5 7 5-13 5 0 5 3 5 11 5-12 5 5 5 12 5-15 5-2 5 3 5 6 5 7 5-17 5 10 5-11 5 18 5-12 5 4 5-10 5 4 5 6 5-14 5 1 5 1 5 11 5 3 5-2 5-10 5 3 5 7 5-7 5-3 5 12 5-16 5 11 5-12 5 14 5-12 5 12 5-4 5 4 5-4 5-10 5 6 5 11 5-19 5 7 5-2 5-3 5-4 5 0 5-3 5 0 5-5 5 11 5 0 5-17 5-6 5 3 5-7 5 6 5-5 5 5 5 2 5 1 5-4 5 0 5 2 5-14 5-8 5-4 5 2 5 1 5-1 5-15 5 6 5-11 5 9 5 4 5-13 5 5 5-4 5-1 5-12 5 2 5-13 5 3 5-12 5 14 5-12 5-2 5 12 5-9 5 1 5 3 5-11 5-7 5 3 5-13 5-6 5 9 5-7 5 8 5-12 5 5 5-19 5-3 5 5 5 7 5-12 5-3 5-11 5-5 5-6 5-4 5-7 5 11 5-10 5 9 5-11 5-13 5-2 5-7 5 7 5-14 5 2 5-6 5-6 5 6 5-12 5-10 5-7 5-3 5-8 5 6 5-1 5-7 5-1 5-3 5-10 5-14 5 2 5-18 5 2 5-10 5 6 5-4 5-11 5 0 5-2 5-9 5-10 5-8 5 10 5-21 5-3 5 6 5-21 5-3 5-1 5-10 5-8 5 10 5-18 5 9 5-22 5-2 5 1 5-15 5 2 5-4 5-3 5 1 5-15 5 3 5-20 5 2 5-11 5 1 5-12 5 0 5-21 5-5 5-1 5-6 5-12 5 1 5-16 5 3 5-6 5-25 5 6 5-2 5-23 5 6 5-10 5-9 5-13 5 2 5-19 5-9 5-5 5 4 5-20 5-13 5-2 5 0 5-11 5-6 5-8 5-22 5-9 5-1 5-20 5-4 5 0 5-10 5-1 5-24 5 1 5-12 5-13 5-13 5-8 5-1 5-16 5-14 5 0 5-7 5-17 5-14 5 4 5-9 5-9 5-19 5-4 5 11 5-14 5-12 5-11 5 1 5-9 5-11 5 3 5-16 5 9 5-21 5 7 5-17 5-7 5 4 5-10 5-13 5 9 5-11 5-5 5-9 5 4 5-9 5-16 5 11 5-12 5-11 5-10 5-4 5-2 5-1 5 2 5-10 5 6 5-10 5-7 5-4 5-9 5 1 5-11 5-3 5-1 5-3 5-11 5 3 5-13 5 6 5-20 5 6 5-7 5-1 5-9 5 2 5-8 5 4 5-3 5-5 5-3 5-15 5 0 5 2 5-14 5-4 5 0 5-16 5 13 5-12 5 4 5-18 5 2 5-4 5-1 5-9 5-7 5 0 5-20 5-4 5 2 5-14 5-3 5-7 5 3 5-12 5-3 5-21 5 2 5 1 5-18 5 5 5-5 5-11 5-8 5-17 5-10 5 9 5-18 5 2 5-12 5-1 5-25 5 8 5-8 5-11 5-17 5-8 5 5 5-20 5-2 5-7 5-26 5-16 5-12 5-4 5-2 5-10 5-15 5-21 5-6 5-12 5-11 5-11 5-13 5-2 5-15 5-11 5-13 5-2 5-22 5-14 5-10 5-13 5-10 5-11 5-13 5-2 5-19 5 5 5-10 5-20 5-8 5-22 5-11 5 0 5-20 5-6 5-10 5-13 5-16 5-13 5-18 5 4 5-15 5-24 5 2 5-24 5-1 5-27 5-16 5 6 5-10 5-18 5-3 5-27 5-12 5 3 5-14 5-19 5-20 5-5 5-27 5-6 5-2 5-26 5-15 5-6 5-10 5-20 5-4 5-10 5-27 5-9 5-3 5-20 5-8 5-22 5-3 5-13 5-14 5-13 5-24 5-12 5-9 5-17 5-17 5-23 5-10 5-9 5-7 5-12 5-13 5-27 5-4 5-27 5-19 5 0 5-32 5-8 5-10 5-17 5-10 5-22 5-16 5-17 5-10 5-16 5-16 5-12 5-19 5-12 5-20 5-10 5-27 5-13 5-17 5-4 5-22 5-8 5-23 5-9 5-20 5-14 5-28 5-2 5-29 5-6 5-17 5-19 5-19 5-15 5-15 5-2 5-13 5-23 5-14 5-13 5-1 5-9 5-10 5-21 5-7 5-23 5-17 5-2 5-17 5-11 5-18 5-1 5-8 5-15 5-24 5-9 5-14 5 4 5-22 5-15 5 3 5-22 5-13 5-6 5-19 5-3 5-13 5-14 5-8 5-9 5-22 5-14 5-6 5-15 5-14 5 3 5-25 5-7 5-15 5-3 5-15 5-8 5-26 5 0 5-14 5-23 5-8 5 1 5-19 5-16 5-12 5-7 5-3 5-23 5-11 5 2 5-23 5-4 5-7 5-13 5-13 5-14 5-5 5-18 5-3 5-12 5-22 5-13 5 4 5-13 5-6 5-7 5-13 5-17 5-1 5-16 5-5 5-20 5 9 5-25 5 6 5-13 5-18 5-7 5-17 5-14 5-1 5-18 5-8 5-13 5 0 5-8 5-5 5-24 5 3 5-14 5-21 5-3 5 1 5-16 5-12 5-11 5-6 5-18 5-17 5-11 5 1 5-17 5 6 5-10 5-18 5-9 5-19 5 3 5-18 5-4 5-17 5-3 5-22 5 8 5-15 5-16 5-7 5-15 5-5 5-3 5-19 5-14 5-7 5-10 5-10 5-7 5-6 5-10 5-24 5 8 5-22 5-9 5-9 5-2 5-28 5 6 5-14 5-11 5-10 5-6 5-4 5-13 5 0 5-16 5-12 5 0 5-27 5 9 5-17 5-16 5 2 5-18 5-3 5-7 5 1 5-14 5-12 5-4 5-8 5-19 5-3 5-12 5-9 5-2 5-13 5-4 5-8 5 0 5-11 5-14 5 10 5-13 5-9 5-9 5-7 5-19 5 3 5-17 5-12 5-8 5 1 5-18 5 0 5-6 5-11 5-18 5-8 5-11 5-21 5 2 5-11 5-23 5-10 5-7 5-6 5-26 5-2 5-29 5-2 5-18 5-1 5-27 5-16 5-9 5-7 5-15 5-23 5-7 5-27 5-10 5-7 5-30 5-14 5-13 5-18 5-10 5-17 5-13 5-27 5 0 5-24 5-22 5-7 5-26 5-17 5-6 5-31 5 0 5-30 5-9 5-26 5 1 5-15 5-20 5-22 5-12 5-9 5-19 5-7 5-6 5-28 5-10 5-2 5-18 5-33 5-14 5-5 5-9 5-10 5-29 5-6 5-12 5-6 5-21 5-22 5-12 5-5 5-19 5-5 5-11 5-13 5-11 5-24 5 0 5-26 5-4 5-20 5-10 5-7 5-14 5-15 5-19 5-17 5-9 5-29 5-15 5 3 5-20 5-23 5-21 5-2 5-33 5-14 5-2 5-19 5-14 5-14 5-16 5-29 5-20 5-11 5-21 5-17 5-11 5-9 5-22 5-20 5-19 5-4 5-21 5-24 5-5 5-30 5-14 5-11 5-5 5-20 5-13 5-11 5-14 5-19 5-24 5-11 5-25 5-12 5-7 5-16 5-11 5-25 5 4 5-24 5-21 5-6 5-17 5-13 5-9 5-27 5-24 5-12 5-11 5-18 5-11 5-13 5-18 5-25 5-16 5-16 5-2 5-20 5-12 5-18 5-8 5-9 5-22 5-22 5-4 5-25 5-5 5-17 5-26 5-11 5-13 5-11 5-4 5-17 5-18 5-14 5-21 5-8 5 0 5-22 5-15 5 0 5-29 5-2 5-22 5-14 5-13 5-13 5-13 5-11 5-9 5-12 5-21 5-4 5-4 5-13 5-25 5-11 5-4 5-12 5-24 5-7 5-9 5-9 5-14 5-11 5-8 5-13 5-26 5 1 5-26 5-16 5 4 5-9 5-27 5 1 5-27 5 2 5-23 5-13 5-6 5-25 5-8 5-22 5-11 5-6 5-5 5-22 5-19 5-8 5-6 5-21 5-10 5-10 5 1 5-19 5-18 5-4 5-11 5-12 5-9 5-16 5-22 5-2 5-12 5-14 5-18 5-10 5-2 5-8 5-24 5 2 5-17 5-8 5-8 5-26 5 2 5-11 5-17 5-16 5-5 5-10 5-15 5-8 5-6 5-10 5-8 5-11 5-30 5 7 5-11 5-9 5-16 5-8 5-10 5-28 5-10 5-1 5-3 5-17 5-11 5-4 5-17 5-7 5-16 5-13 5-10 5-3 5-22 5-4 5-14 5 2 5-14 5 1 5-20 5 3 5-21 5 4 5-10 5-21 5-4 5-18 5 1 5-8 5-14 5-10 5-7 5-3 5-21 5 5 5-11 5-16 5 2 5-17 5-11 5-9 5-12 5-5 5-16 5 1 5-13 5-2 5-9 5-1 5-14 5-23 5-11 5-5 5-12 5-15 5-8 5-7 5-28 5 0 5-18 5-10 5 1 5-27 5-8 5-4 5-5 5-7 5-12 5-12 5-14 5-18 5-16 5-1 5-15 5-13 5-11 5-7 5-17 5-15 5-15 5-5 5-2 5-16 5-13 5-12 5-12 5-1 5-10 5-6 5-15 5-24 5-8 5 6 5-22 5-4 5-4 5-15 5-23 5-3 5-10 5-11 5-17 5 8 5-17 5-5 5-6 5-20 5-15 5 2 5-4 5-10 5-11 5-23 5 4 5-26 5-5 5 1 5-24 5 5 5-9 5-6 5-8 5-10 5-17 5-8 5-7 5-3 5-9 5 5 5-11 5-23 5 1 5 0 5-11 5-1 5 4 5-2 5-18 5 10 5-10 5-11 5 4 5 11 5-15 5 0 5 20 5-3 5 77 5 98 5 117 5 112 5 65 5 73 5 43 5 45 5 30 5 48 5 41 5 39 5 48 5 42 5 36 5 44 5 29 5 36 5 20 5 40 5 34 5 36 5 51 5 45 5 33 5 46 5 37 5 36 5 35 5 35 5 54 5 39 5 38 5 28 5 45 5 34 5 43 5 33 5 26 5 45 5 39 5 41 5 40 5 34 5 47 5 47 5 32 5 31 5 55 5 41 5 44 5 29 5 56 5 38 5 54 5 37 5 44 5 61 5 45 5 42 5 43 5 49 5 49 5 43 5 50 5 47 5 58 5 43 5 53 5 44 5 58 5 38 5 38 5 44 5 61 5 51 5 33 5 53 5 44 5 42 5 46 5 44 5 40 5 28 5 48 5 31 5 40 5 42 5 43 5 38 5 29 5 47 5 31 5 37 5 50 5 31 5 28 5 45 5 39 5 31 5 19 5 44 5 27 5 34 5 27 5 31 5 49 5 22 5 27 5 39 5 32 5 27 5 45 5 31 5 36 5 36 5 34 5 37 5 28 5 38 5 33 5 17 5 36 5 34 5 33 5 26 5 39 5 40 5 27 5 34 5 31 5 29 5 17 5 38 5 38 5 23 5 42 5 30 5 21 5 39 5 14 5 35 5 38 5 12 5 37 5 27 5 27 5 29 5 31 5 34 5 9 5 29 5 37 5 23 5 30 5 29 5 25 5 15 5 23 5 32 5 12 5 33 5 23 5 20 5 30 5 6 5 21 5 41 5 19 5 6 5 36 5 19 5 13 5 27 5 22 5 19 5 11 5 14 5 19 5 21 5 20 5 15 5 20 5 12 5 24 5 17 5 16 5 19 5 26 5 13 5 1 5 14 5 23 5 4 5 28 5 5 5 25 5 1 5 16 5 3 5 15 5 12 5 28 5 13 5 3 5 10 5 13 5 3 5 19 5-3 5 23 5-8 5 21 5 10 5 12 5-3 5 12 5 20 5-6 5 10 5 13 5 16 5-6 5 3 5 6 5 24 5-9 5 16 5-8 5 12 5 8 5 7 5 2 5 0 5-1 5 9 5 4 5 1 5 0 5 16 5-12 5 5 5 3 5-5 5 17 5-7 5 18 5-11 5 4 5 11 5 1 5-1 5 10 5-2 5 5 5 2 5 5 5 3 5 5 5 1 5-7 5 10 5 8 5 0 5 1 5-4 5-2 5 15 5-10 5-5 5 8 5 15 5-18 5 21 5-11 5 1 5 24 5-10 5 19 5-12 5 4 5 14 5-12 5 14 5 4 5-5 5-1 5 18 5-9 5 9 5 0 5 19 5-8 5 9 5 8 5-3 5 11 5 8 5 11 5-6 5 3 5 5 5 10 5 0 5 7 5 10 5 7 5 5 5 4 5-3 5 18 5-2 5 20 5 9 5-6 5 20 5 0 5 8 5 7 5 8 5-1 5 18 5 18 5 6 5 1 5 19 5 7 5-1 5 17 5-1 5 8 5 17 5 17 5 9 5 1 5 13 5 15 5 8 5 14 5-5 5 22 5 9 5 3 5 24 5 3 5 14 5 19 5 3 5 14 5 8 5 14 5 6 5-2 5 7 5 28 5 8 5-2 5 25 5 6 5 11 5 15 5 15 5-1 5 7 5 23 5 3 5 18 5 10 5 10 5 14 5-2 5 12 5 18 5 4 5 18 5 7 5 26 5 9 5 12 5 15 5 1 5 19 5 15 5 3 5 14 5 23 5-1 5 24 5 3 5 14 5 7 5 28 5 5 5 11 5 13 5 14 5 27 5 6 5 19 5 9 5 25 5 6 5 12 5 24 5 12 5 18 5 10 5 4 5 19 5 20 5 3 5 18 5 7 5 19 5 14 5 4 5 19 5 2 5 17 5 17 5 13 5 5 5 7 5 27 5 0 5 7 5-1 5 23 5 8 5 8 5 4 5 10 5 16 5 11 5 2 5 9 5 13 5-2 5 5 5 20 5 7 5 4 5 19 5 7 5-11 5 14 5 7 5 8 5 0 5-2 5 6 5 23 5 5 5-2 5 7 5 14 5 4 5-1 5 11 5 12 5-8 5-6 5 4 5 3 5 15 5-1 5 10 5-3 5 14 5-3 5 10 5-1 5-4 5 11 5-12 5 3 5-2 5-6 5 5 5-2 5 2 5 2 5 6 5 5 5-1 5 1 5-11 5 1 5-5 5 16 5-16 5 9 5-3 5-9 5 13 5-9 5-2 5 1 5-12 5 1 5-6 5 14 5-11 5 8 5-4 5-13 5-1 5-12 5 0 5-5 5 11 5-7 5 2 5-14 5-4 5-6 5 9 5-8 5-3 5-1 5-1 5 0 5-2 5-18 5 2 5 5 5-16 5 0 5-6 5 3 5-4 5-10 5-7 5 4 5 3 5-15 5-1 5-9 5 10 5-19 5 6 5-8 5 6 5 2 5-14 5 6 5-13 5-5 5-2 5 9 5-4 5-14 5-8 5-1 5 5 5-12 5 11 5-4 5-6 5-7 5 14 5-13 5-4 5 13 5-6 5-5 5-4 5 8 5-2 5 1 5 0 5-9 5 3 5 0 5-15 5 8 5 4 5-2 5-1 5-6 5 9 5-8 5-3 5 3 5 9 5-14 5-1 5 2 5 3 5 4 5 0 5-1 5 7 5 9 5 5 5-3 5 11 5-16 5 19 5-13 5 14 5-4 5 14 5 4 5 5 5-7 5 1 5 16 5 3 5 1 5 5 5 8 5 15 5-10 5 14 5 11 5-10 5 18 5 7 5-5 5 8 5 8 5 18 5 6 5 8 5-4 5 19 5 0 5 10 5 9 5 10 5 0 5 9 5 3 5 23 5-1 5 18 5-6 5 15 5 17 5 3 5 14 5 11 5 1 5 3 5 19 5 11 5 3 5 8 5 11 5 17 5-1 5 18 5 0 5 18 5 5 5 16 5-5 5 20 5 2 5 2 5 7 5 10 5 16 5 11 5-3 5 9 5 4 5 16 5 0 5 13 5 21 5 1 5 4 5 18 5-6 5 24 5 11 5 2 5 1 5 6 5 20 5 2 5 11 5-8 5 12 5 15 5 3 5 5 5 1 5 24 5-7 5 18 5 6 5 9 5 5 5-1 5 7 5-4 5 19 5-4 5 3 5 4 5 10 5 2 5 7 5 10 5 4 5 3 5 3 5 13 5 2 5 2 5 0 5 15 5-10 5 9 5 0 5 14 5-1 5 12 5-2 5 3 5-8 5 1 5 14 5 5 5 3 5 4 5 0 5-4 5 5 5-5 5 15 5 1 5-4 5-8 5 8 5 4 5 2 5-4 5 2 5-1 5-4 5-10 5 13 5-5 5 6 5-14 5 7 5-5 5 1 5 9 5-6 5 2 5-1 5-16 5 12 5 0 5-2 5-12 5 0 5 3 5-10 5 3 5-5 5-9 5-3 5 0 5 2 5 6 5-6 5-13 5 7 5-4 5-1 5-8 5-6 5-3 5-16 5 6 5-16 5 8 5-4 5-12 5-10 5 2 5-13 5-2 5 3 5-18 5 14 5-6 5-14 5 2 5-6 5-9 5-13 5-7 5-7 5 8 5-6 5 2 5-10 5-19 5-3 5-10 5-1 5-1 5-6 5-4 5-10 5 6 5-14 5-11 5-3 5-6 5-11 5 2 5-4 5-14 5 2 5-7 5 1 5-9 5-6 5 1 5-11 5-4 5 7 5-16 5 6 5-13 5-3 5 3 5-18 5-5 5 4 5 10 5-15 5-2 5 1 5-14 5 9 5-1 5 3 5-8 5-1 5-13 5 6 5-5 5 2 5-5 5 6 5-5 5 3 5-6 5 18 5-11 5-4 5 4 5-1 5-3 5-10 5 6 5-1 5 8 5-6 5 13 5-11 5-4 5 13 5-16 5 19 5 2 5-7 5-1 5-2 5 10 5 5 5-10 5 9 5-7 5 5 5 10 5-2 5 8 5-1 5 10 5 9 5 7 5 7 5-7 5 2 5 3 5 7 5 17 5-6 5 17 5-6 5 23 5 1 5 4 5 18 5 10 5-7 5 15 5 1 5 25 5 0 5 11 5 13 5 14 5 13 5-2 5 10 5 17 5 7 5 8 5 11 5 11 5-9 5 18 5 2 5 22 5-10 5 16 5 10 5 0 5 14 5 9 5 3 5 21 5 0 5 11 5 15 5 10 5-5 5 18 5-2 5 19 5 6 5-2 5-2 5 21 5 3 5 9 5 0 5 15 5-4 5 17 5-5 5 25 5-3 5-2 5 9 5-3 5 11 5 4 5-2 5 3 5 21 5 2 5 5 5 12 5-12 5 14 5-5 5 21 5 3 5-5 5 7 5 6 5 2 5 5 5-4 5 14 5 5 5-1 5 4 5 1 5 7 5 9 5-15 5 17 5 2 5-4 5-3 5 10 5 7 5-9 5 11 5 7 5-6 5 12 5-5 5-9 5 15 5-15 5 17 5-5 5-9 5 3 5 1 5 12 5 4 5-7 5 7 5 0 5 4 5-14 5-3 5 3 5 7 5-11 5 12 5-15 5 16 5-9 5 7 5-8 5 0 5 2 5-11 5-5 5 5 5-7 5-1 5-3 5-4 5 12 5-8 5-9 5 8 5-21 5 14 5-6 5-10 5 5 5-16 5-9 5-5 5 8 5-13 5-4 5 8 5-2 5-14 5-4 5-1 5-6 5 5 5-12 5-10 5-10 5 13 5-18 5 7 5-7 5-14 5-10 5 5 5-19 5-6 5-5 5 7 5 0 5-8 5 2 5-24 5 6 5-7 5-6 5-11 5-13 5 0 5-7 5 10 5-8 5-3 5-13 5-16 5 8 5-14 5 0 5-10 5-3 5-13 5 9 5-15 5 9 5-2 5-9 5-10 5 0 5-3 5-9 5-9 5 13 5-10 5-6 5-12 5 5 5 3 5-17 5 10 5-18 5-6 5 9 5-14 5 12 5-14 5-5 5 9 5-15 5 0 5 8 5 1 5-6 5 4 5-16 5 11 5-10 5 6 5-14 5 8 5-9 5 2 5 4 5 1 5-3 5-9 5-2 5 11 5-18 5 9 5 10 5-2 5 0 5-10 5 0 5 14 5-10 5-6 5 13 5-1 5 0 5-10 5 5 5 10 5-10 5 15 5-9 5 4 5 8 5-11 5 14 5 2 5-5 5 1 5-1 5 9 5 7 5-10 5 12 5-4 5 15 5-12 5 2 5 16 5-3 5 14 5-7 5 11 5-3 5 4 5 1 5 10 5-10 5 20 5 1 5 6 5-8 5 17 5 0 5 9 5 0 5 12 5 3 5 1 5 13 5-3 5 2 5 16 5-9 5 17 5 1 5 15 5-13 5 9 5 17 5-2 5-3 5 15 5 3 5 9 5-1 5 5 5 25 5 2 5 14 5-2 5 3 5 4 5 16 5 10 5 8 5-5 5 3 5 7 5 21 5 1 5 4 5 15 5 2 5 2 5 11 5 4 5 8 5-2 5 13 5-4 5 4 5 15 5 12 5-5 5 20 5-2 5 10 5 9 5 3 5 2 5-3 5 3 5 14 5 6 5 7 5 1 5 2 5 19 5-1 5 4 5-10 5 14 5 6 5-3 5 8 5 4 5 14 5 8 5-2 5-3 5 12 5-3 5 10 5-1 5-4 5 10 5 1 5 3 5-2 5 17 5-2 5-3 5 8 5-5 5-8 5 14 5 0 5-3 5 5 5 0 5-3 5-3 5 11 5-8 5 9 5-10 5 1 5 11 5-16 5 3 5 9 5-6 5 6 5-17 5-5 5 13 5-16 5 0 5-4 5 2 5 7 5-11 5 1 5-14 5 4 5-10 5-4 5-1 5-1 5 3 5-16 5 0 5 8 5-18 5-13 5 10 5-23 5 4 5 4 5 2 5-4 5-2 5-12 5 3 5-20 5-3 5 2 5-5 5-1 5-19 5 1 5 0 5-14 5 4 5 3 5-21 5 13 5-6 5-9 5-8 5 8 5-12 5 2 5-14 5 8 5-1 5-4 5-2 5-22 5 11 5-15 5-6 5 8 5-4 5-22 5-3 5 0 5 3 5-13 5-14 5 9 5-1 5-19 5 10 5-1 5-14 5 5 5-8 5 3 5-10 5-12 5 5 5-11 5-4 5-11 5-2 5-2 5 7 5-6 5-4 5 2 5-9 5-2 5 3 5 1 5-3 5-6 5 5 5-4 5-5 5-16 5 5 5-16 5 14 5-12 5-13 5-2 5 10 5 1 5-6 5 1 5 8 5-3 5-3 5-10 5-2 5 4 5-12 5 11 5 0 5 2 5-11 5 2 5-2 5 5 5 4 5-3 5 8 5-6 5 4 5 4 5-3 5-12 5 3 5-5 5 7 5 2 5-2 5 2 5-2 5 13 5-7 5-7 5 10 5-1 5-2"/>
<path stroke="#008000" d="M2255 12981l5-12 5 14 5-6 5 8 5 0 5-16 5 6 5 13 5-4 5-6 5 9 5-2 5 2 5-4 5 12 5 5 5-9 5 0 5 12 5-5 5 8 5-1 5-11 5 11 5-9 5 0 5 9 5-12 5 4 5 14 5-12 5 10 5 1 5-2 5 7 5-12 5 0 5 13 5-8 5-2 5 5 5 2 5-5 5 4 5-11 5 10 5 2 5-7 5 2 5-2 5-5 5 0 5 10 5-10 5 6 5 0 5 12 5-6 5-4 5 5 5-10 5 3 5 6 5-10 5-1 5 12 5-14 5 6 5 7 5-18 5 7 5 8 5 0 5-3 5 2 5-12 5-3 5 0 5 14 5-15 5 9 5-14 5 15 5-4 5 1 5 2 5-6 5 4 5 3 5-19 5 0 5 15 5-2 5-6 5 9 5-3 5-8 5-9 5 17 5-12 5-9 5 13 5 1 5-10 5 8 5-14 5 13 5 6 5-4 5-9 5 1 5 4 5-6 5 10 5-5 5-7 5 5 5-13 5 5 5-6 5 4 5-6 5 4 5-5 5-7 5 1 5 4 5 4 5-7 5 2 5 10 5-11 5 1 5 0 5 9 5-16 5 5 5 6 5-7 5-5 5 2 5-4 5 10 5 4 5-2 5-13 5 15 5-1 5-7 5-2 5 15 5-16 5 14 5-10 5 7 5 3 5 4 5-3 5-14 5 16 5 2 5-18 5 6 5 12 5-7 5-9 5 16 5 6 5-16 5 16 5-4 5 1 5-10 5 19 5 2 5-17 5 14 5-9 5-5 5 10 5 6 5-5 5-10 5 16 5-9 5 2 5-3 5 11 5-9 5 6 5 2 5-7 5 5 5-13 5 0 5 10 5-2 5 5 5-13 5-5 5 6 5 9 5-6 5-5 5 4 5 4 5-13 5 11 5-6 5 8 5-1 5-1 5-14 5 10 5-9 5 4 5-5 5 4 5-7 5 0 5 8 5 0 5-1 5-1 5-8 5-7 5 0 5 10 5 7 5-9 5-4 5 6 5-13 5-5 5 12 5-19 5 11 5-7 5 2 5 14 5-6 5-2 5-9 5 17 5-10 5-7 5 9 5-9 5 16 5-8 5-3 5-1 5-2 5 0 5 8 5-7 5 9 5 9 5-1 5-2 5-2 5-1 5-1 5 5 5 12 5-8 5-4 5 0 5 4 5 1 5-1 5 5 5 5 5 1 5 1 5-4 5 6 5-15 5 10 5 4 5 1 5 6 5-14 5 12 5 5 5-9 5-3 5 3 5 7 5-13 5 11 5-2 5-4 5-2 5 8 5-15 5-1 5 10 5-8 5 4 5-3 5 16 5-9 5-6 5 1 5-4 5 2 5-6 5 12 5-7 5-11 5 13 5-10 5-10 5 13 5-2 5-4 5-3 5 6 5 4 5-10 5 8 5-7 5-7 5 9 5 0 5-15 5-1 5-4 5-3 5 8 5 5 5 3 5 1 5 8 5-13 5 16 5-4 5-14 5 1 5 1 5 9 5-1 5-6 5 8 5-5 5 10 5 1 5-8 5-2 5 11 5-10 5 9 5 3 5-10 5 13 5-7 5 5 5-2 5 4 5-2 5 3 5 1 5-4 5 11 5-11 5 9 5 8 5 3 5 0 5-2 5 5 5 0 5-11 5 5 5-10 5 10 5-5 5 11 5-14 5 2 5 11 5-1 5 2 5 1 5-9 5 13 5-1 5-3 5 14 5-2 5-2 5-5 5-5 5-3 5 20 5-6 5 3 5-1 5 4 5 3 5-5 5 6 5-14 5-3 5 16 5-12 5 3 5 10 5-13 5 10 5-4 5 12 5-8 5 0 5 2 5 3 5-10 5-6 5 12 5-3 5-4 5 11 5 1 5 6 5-2 5-15 5 2 5 6 5-16 5 17 5-3 5-7 5 12 5-8 5-6 5 11 5 1 5-16 5 15 5-16 5 9 5-5 5 7 5 2 5-17 5 8 5 9 5-8 5-3 5 5 5-10 5 2 5 12 5-1 5-1 5-16 5 12 5-5 5 4 5-6 5 0 5 14 5-4 5-1 5-3 5-5 5 2 5 8 5-2 5-15 5 14 5-3 5 0 5-7 5 13 5-8 5 6 5-15 5 9 5-7 5 2 5-3 5 3 5-10 5 6 5-3 5 6 5-9 5 2 5-4 5 12 5-18 5 0 5 12 5-9 5 8 5-13 5 2 5 10 5-10 5 2 5 1 5 5 5-9 5-4 5 5 5 4 5 2 5-7 5-4 5 13 5-11 5 10 5 1 5-2 5-3 5-6 5 7 5-11 5 19 5-9 5-1 5 10 5-2 5-10 5 14 5 0 5-14 5 6 5 2 5 6 5 4 5-3 5 8 5-2 5-3 5-10 5 4 5 1 5 9 5-6 5-1 5-3 5 15 5-6 5 5 5 8 5-3 5-7 5 2 5 7 5 5 5-12 5 6 5-5 5-2 5 11 5-6 5 0 5 11 5-15 5 6 5-1 5 1 5 11 5-4 5 8 5-10 5-1 5 13 5-13 5 10 5-9 5 18 5-3 5-18 5 16 5-9 5 2 5 1 5-8 5-1 5-3 5 4 5-10 5 13 5 2 5 0 5-1 5-7 5 5 5-7 5 4 5-10 5 1 5 8 5-10 5 14 5 0 5-7 5-6 5 1 5-5 5 12 5 4 5-17 5-1 5 7 5 11 5-16 5-1 5 4 5-2 5-2 5 6 5-8 5 0 5 9 5 9 5-16 5 0 5-1 5-4 5 0 5 7 5 1 5 8 5-6 5 18 5-8 5 4 5-14 5 14 5-9 5-2 5 11 5-9 5-3 5 2 5 4 5-6 5 6 5-3 5-4 5-1 5 18 5 2 5-11 5 11 5-7 5-1 5 0 5 1 5 1 5-5 5 15 5-8 5-5 5 5 5 3 5 7 5-10 5 8 5 7 5 1 5-13 5 4 5 6 5-7 5 5 5-9 5 0 5-7 5 11 5-7 5-3 5 5 5-1 5 5 5 11 5-2 5-2 5-1 5 2 5-15 5 7 5 6 5 3 5-6 5-11 5 4 5-5 5 11 5-1 5-6 5-7 5 20 5 1 5 2 5-5 5 3 5-16 5-4 5 13 5 0 5-10 5 8 5-10 5 2 5 15 5-4 5-15 5 8 5-1 5-3 5 0 5 5 5-12 5 19 5-8 5-4 5-5 5-1 5 6 5-8 5 11 5-11 5 7 5-1 5-7 5 12 5 3 5-12 5-4 5 8 5-12 5 14 5-7 5 2 5-7 5 4 5 0 5 1 5 4 5-8 5 0 5 1 5-8 5 7 5 11 5-4 5-6 5 10 5-11 5 3 5-3 5 2 5-6 5 9 5-9 5 6 5 6 5 2 5-5 5-5 5-4 5 2 5 1 5 8 5 2 5-12 5 6 5 6 5-1 5-13 5 7 5 6 5-3 5-14 5 13 5 4 5 0 5-1 5-13 5 6 5 6 5 4 5 0 5-7 5-3 5 5 5-11 5 1 5 7 5-11 5 11 5-16 5 1 5 6 5 6 5-8 5 15 5-6 5-10 5 3 5 12 5-15 5-2 5 5 5-5 5 3 5 5 5 6 5-7 5 2 5-9 5 5 5 7 5-3 5 10 5-10 5 11 5-13 5 11 5 1 5 4 5-17 5 9 5 6 5-10 5 9 5-3 5-13 5 3 5-4 5 9 5-15 5 12 5-14 5 1 5 15 5-11 5 7 5 8 5-14 5 5 5 8 5-2 5 1 5-9 5 6 5 6 5-7 5 1 5 2 5-7 5 3 5-3 5-2 5-3 5 17 5-10 5 9 5-10 5 8 5 2 5-2 5-5 5 10 5-17 5 12 5-13 5 8 5-10 5 1 5 18 5-3 5-14 5 1 5 1 5 16 5-7 5 8 5-4 5 3 5-14 5 11 5-9 5 6 5-10 5 4 5 10 5-15 5 2 5 2 5-2 5 12 5 1 5-2 5-7 5 5 5-1 5 2 5 0 5 5 5-7 5-15 5 13 5-6 5 5 5-9 5-3 5 6 5-6 5 7 5-1 5 3 5-13 5 15 5-12 5 9 5 0 5 12 5-2 5 1 5-13 5 4 5 7 5-1 5-7 5-4 5-7 5 4 5 4 5-3 5 2 5-4 5-10 5 2 5 5 5 9 5-8 5 10 5-9 5 4 5-2 5-14 5 8 5 2 5 8 5-3 5-12 5 1 5 4 5-4 5-1 5 3 5-12 5 6 5-8 5-3 5 15 5-17 5 11 5 3 5-13 5 0 5 0 5 17 5-8 5-7 5 16 5-7 5 4 5-18 5 7 5 1 5-8 5-2 5-10 5 2 5 0 5 2 5-9 5 1 5 10 5 8 5-15 5 5 5-2 5 3 5-6 5-3 5-11 5 0 5 9 5-6 5 4 5-3 5 10 5-12 5 5 5-3 5 0 5-9 5-2 5 14 5-8 5 4 5-7 5-10 5-1 5-1 5-5 5 13 5 3 5-12 5 10 5-19 5 3 5 4 5-1 5-14 5 16 5-1 5-17 5-3 5 4 5-7 5-1 5 3 5-8 5-14 5 1 5 9 5-1 5-15 5-7 5 11 5-17 5-5 5-2 5-12 5 6 5 1 5-13 5 3 5-13 5 1 5-10 5-7 5-3 5-5 5-13 5 7 5-5 5-13 5-2 5-9 5-8 5 12 5-5 5-15 5 2 5-12 5 4 5-13 5-1 5-12 5-5 5-5 5-1 5-20 5 6 5-7 5-1 5-20 5-1 5-13 5-1 5-17 5 11 5-18 5 1 5-12 5 11 5-10 5-2 5-7 5-2 5-11 5-17 5-6 5 8 5-15 5 3 5-12 5 3 5-17 5-9 5 10 5-16 5-3 5 3 5-17 5 7 5-25 5 7 5-5 5-10 5-14 5-7 5 8 5-6 5-6 5-2 5-14 5 1 5-6 5-15 5-3 5-19 5 9 5-17 5-7 5-3 5-4 5-19 5 3 5-5 5-15 5-5 5 2 5-17 5 2 5-5 5-18 5-8 5-9 5-7 5 7 5-18 5-7 5 1 5-15 5-8 5 6 5-7 5-12 5-5 5-14 5-6 5 4 5-12 5-12 5-3 5 2 5-13 5 3 5-19 5-13 5-4 5-9 5-6 5 9 5-13 5-11 5-12 5 7 5-11 5-15 5-4 5 0 5-5 5-8 5-14 5-9 5-10 5-16 5-5 5 0 5-21 5-5 5-5 5-12 5-17 5-10 5 5 5-23 5-2 5-14 5-14 5-17 5 0 5-16 5-20 5-18 5-8 5-21 5-9 5-12 5-14 5-4 5-21 5-13 5-12 5 4 5-28 5 6 5-14 5-21 5-5 5-30 5 2 5-16 5-10 5-4 5-28 5-9 5-4 5-21 5 3 5-26 5-7 5-5 5-10 5-13 5-12 5-20 5-12 5-8 5-18 5-4 5-11 5-16 5-15 5-12 5-6 5-7 5-4 5-28 5-16 5-7 5-9 5-11 5-18 5-1 5-27 5-12 5-12 5 2 5-22 5-14 5-18 5-6 5-4 5-12 5-10 5-28 5-18 5-12 5-17 5 1 5-26 5-2 5-24 5-17 5-9 5-6 5-7 5-19 5-10 5-19 5-5 5-14 5-10 5-15 5-16 5-9 5-12 5-18 5-25 5-6 5-3 5-17 5-18 5-3 5-23 5-11 5-8 5-9 5-13 5-16 5-7 5-17 5-7 5-16 5-22 5-3 5-8 5-19 5-25 5-4 5-21 5-7 5-17 5 3 5-15 5-16 5-19 5-17 5-1 5-22 5 0 5-12 5-26 5 5 5-12 5-29 5-6 5-18 5-7 5-10 5-25 5-14 5-5 5-14 5 0 5-18 5-4 5-20 5-7 5 0 5-9 5-17 5-11 5-22 5-1 5-12 5-17 5 1 5-22 5-2 5-19 5 6 5-19 5 1 5-20 5-4 5-16 5-21 5-6 5-7 5-8 5-26 5-4 5-7 5-23 5-10 5-14 5-3 5-22 5 0 5-14 5-19 5-6 5-27 5-20 5-1 5-10 5-10 5-28 5-16 5-1 5-16 5-15 5-2 5-15 5-9 5-8 5-16 5-27 5-17 5-2 5-25 5-7 5 2 5-22 5-5 5-13 5-23 5 0 5-11 5-27 5 8 5-27 5-3 5-11 5-10 5-1 5-27 5 2 5-10 5-26 5-13 5-6 5-15 5-10 5 4 5-27 5-6 5-15 5-10 5-3 5-6 5-13 5-28 5 2 5-13 5-26 5-15 5-11 5-6 5-10 5-21 5-16 5-13 5-11 5-17 5-2 5-15 5-16 5-5 5-11 5-25 5-9 5-9 5-11 5-26 5-13 5 0 5-14 5-25 5-9 5-8 5-16 5-8 5-24 5-9 5-13 5-2 5-21 5-3 5-17 5-15 5-1 5-19 5-11 5 5 5-11 5-23 5-12 5-7 5-11 5-13 5-17 5-2 5-21 5 0 5-12 5-28 5-7 5-12 5-23 5 2 5-23 5-11 5-16 5-12 5-18 5 4 5-14 5-15 5-8 5-17 5-18 5-26 5 5 5-17 5-17 5-12 5-9 5-10 5-15 5-16 5-18 5-6 5-18 5-6 5 1 5-11 5-16 5-5 5-14 5-8 5-3 5-9 5-23 5 0 5-18 5-8 5-11 5-14 5-9 5 4 5-16 5-18 5 7 5-15 5-12 5-16 5-11 5-21 5-12 5-4 5-13 5-20 5-6 5-26 5-16 5-17 5 2 5-24 5-14 5-14 5-26 5 0 5-14 5-30 5-17 5-4 5-24 5-23 5-1 5-18 5-24 5-10 5-13 5-22 5-9 5-18 5-4 5-26 5-8 5-21 5-3 5-23 5-7 5-4 5-17 5-15 5-9 5-19 5-9 5 1 5-28 5 0 5-13 5-15 5-9 5-25 5-7 5-12 5-14 5-11 5-8 5 3 5-22 5-2 5-11 5-11 5-15 5-10 5-17 5 5 5-19 5-2 5-5 5-15 5-13 5 1 5-25 5 4 5-18 5 0 5-19 5 5 5-17 5-15 5 5 5-17 5-13 5 7 5-23 5-6 5-8 5-3 5 3 5-25 5 9 5-22 5-6 5-2 5-7 5-25 5 1 5-15 5-17 5 7 5-20 5-3 5-7 5-19 5-9 5-9 5-1 5-13 5-15 5-18 5-10 5-9 5-9 5-8 5-11 5-11 5-3 5-7 5-11 5-24 5-1 5-16 5 5 5-16 5-18 5 5 5-13 5-21 5 5 5-26 5 8 5-6 5-20 5-5 5-12 5-7 5-1 5-9 5-15 5 0 5-17 5 3 5-16 5 3 5-18 5-2 5-14 5-10 5 0 5-14 5-6 5-3 5 1 5-15 5-14 5 1 5-6 5-10 5-4 5-4 5-5 5-5 5 1 5-7 5-12 5-14 5-14 5 0 5-11 5-1 5-16 5 0 5-15 5-10 5-10 5-1 5-17 5-8 5-8 5-13 5-11 5-6 5 3 5-15 5-3 5-9 5-10 5-10 5-4 5-24 5-5 5-17 5-1 5-2 5-17 5 0 5-12 5-18 5-5 5 5 5-4 5-26 5 5 5-14 5-21 5-4 5 5 5-6 5-10 5-1 5-11 5-5 5-19 5-7 5-11 5-8 5-5 5-9 5 9 5-12 5-1 5-23 5 3 5-11 5 2 5-26 5 4 5-10 5-18 5 0 5-12 5-10 5-14 5 6 5-22 5 5 5-24 5 6 5-8 5-19 5-1 5-21 5-11 5 3 5-12 5-5 5-17 5-2 5-22 5-11 5-4 5-5 5-24 5-12 5 1 5-21 5-12 5-2 5-16 5-14 5-2 5-17 5-18 5-8 5-10 5-14 5 2 5-21 5-2 5-10 5 2 5-26 5-10 5-5 5 2 5-20 5-2 5-28 5 4 5-13 5-7 5-28 5-15 5 4 5-14 5-22 5-7 5-16 5-19 5-17 5-22 5 0 5-11 5-16 5-10 5-19 5-18 5 1 5-30 5-9 5-16 5-7 5-17 5-12 5-16 5-9 5-22 5-7 5-7 5-11 5-14 5-18 5 3 5-14 5-1 5-23 5-3 5-23 5 3 5-23 5 1 5-10 5-9 5-15 5-10 5-17 5-7 5 2 5-7 5-22 5-4 5-14 5-9 5 2 5-8 5-14 5-4 5-26 5 9 5-26 5-10 5-8 5-6 5-4 5-19 5 7 5-20 5 0 5-17 5-20 5-11 5 2 5-15 5-20 5-7 5-13 5-1 5-5 5-21 5-17 5 8 5-13 5-27 5-5 5-9 5-1 5-32 5 6 5-21 5-18 5-13 5-8 5-20 5-14 5-3 5-21 5-2 5-20 5-5 5-25 5-2 5-15 5-7 5-17 5-12 5-22 5 1 5-14 5-19 5-10 5-20 5-12 5-8 5-14 5-19 5 1 5-16 5-24 5 1 5-21 5-16 5-7 5-31 5-15 5 2 5-33 5-10 5-5 5-29 5-4 5-30 5-1 5-32 5-3 5-4 5-15 5-13 5-15 5-5 5-11 5-20 5 5 5-2 5-6 5-11 5 2 5 18 5 38 5 60 5 70 5 60 5 44 5 61 5 43 5 36 5 47 5 30 5 39 5 38 5 45 5 23 5 35 5 38 5 32 5 29 5 39 5 41 5 22 5 39 5 31 5 19 5 41 5 33 5 43 5 35 5 36 5 44 5 24 5 40 5 47 5 41 5 39 5 43 5 26 5 38 5 44 5 46 5 31 5 48 5 36 5 36 5 46 5 39 5 49 5 41 5 29 5 41 5 53 5 42 5 41 5 32 5 37 5 51 5 50 5 36 5 44 5 30 5 50 5 38 5 41 5 46 5 45 5 48 5 45 5 42 5 38 5 38 5 48 5 50 5 40 5 39 5 38 5 32 5 36 5 30 5 50 5 36 5 35 5 31 5 39 5 46 5 31 5 39 5 21 5 44 5 37 5 16 5 51 5 14 5 45 5 29 5 28 5 33 5 26 5 46 5 17 5 49 5 31 5 28 5 17 5 41 5 36 5 23 5 32 5 40 5 15 5 37 5 41 5 29 5 34 5 31 5 19 5 48 5 19 5 39 5 32 5 34 5 31 5 25 5 45 5 16 5 44 5 16 5 49 5 30 5 20 5 38 5 30 5 41 5 18 5 27 5 37 5 29 5 29 5 40 5 20 5 23 5 29 5 41 5 18 5 21 5 32 5 18 5 32 5 20 5 27 5 35 5 14 5 28 5 15 5 21 5 26 5 21 5 29 5 26 5 15 5 31 5 19 5 28 5 21 5 26 5 16 5 9 5 27 5 22 5 30 5 20 5 7 5 34 5 10 5 24 5 19 5 13 5 21 5 16 5 23 5 21 5 12 5 24 5 9 5 7 5 27 5 10 5 24 5 5 5 22 5 5 5 23 5 13 5 15 5 1 5 22 5 19 5 8 5 10 5 22 5 12 5 8 5 21 5 9 5 18 5 5 5 18 5 7 5 5 5 3 5 27 5 6 5 20 5 12 5 9 5 4 5 11 5 9 5 5 5 8 5 20 5-12 5 26 5-8 5 6 5 20 5-9 5 18 5-3 5 19 5 0 5 0 5 13 5 8 5 9 5-11 5 24 5 3 5-6 5 12 5 2 5 6 5-4 5 18 5-1 5 1 5 12 5-8 5 7 5 5 5 3 5-2 5 8 5 0 5 9 5-5 5 4 5 5 5-6 5 12 5 11 5 1 5 0 5-2 5 10 5-2 5 0 5 9 5 6 5-6 5-4 5 13 5-2 5 11 5 2 5-3 5 14 5-2 5 8 5-11 5 7 5 13 5-14 5 15 5 9 5 3 5-9 5 4 5 10 5-4 5 14 5 4 5 4 5 6 5-7 5-2 5 6 5 17 5-10 5 3 5 15 5 2 5 10 5 1 5 5 5 5 5-14 5 23 5-10 5 2 5 21 5-6 5 2 5 14 5 12 5-3 5 17 5 9 5-1 5 0 5 8 5 4 5 12 5 6 5 4 5 8 5 4 5 19 5 7 5-2 5 1 5 12 5 15 5 14 5 3 5-5 5 14 5 2 5 19 5 5 5 10 5 6 5 5 5 23 5 0 5 4 5 12 5 6 5 26 5-5 5 25 5 10 5-7 5 23 5-3 5 19 5 14 5-1 5 4 5 20 5 10 5 4 5 17 5 11 5 8 5 9 5 21 5 5 5 6 5 14 5 13 5 16 5 3 5 19 5-3 5 21 5 9 5-4 5 23 5 1 5 29 5 5 5 4 5 24 5 3 5 8 5 22 5 16 5 11 5 12 5 8 5 4 5 7 5 13 5 23 5-2 5 15 5 31 5-4 5 23 5 19 5 5 5 17 5-2 5 27 5 10 5 13 5 6 5 19 5 15 5 13 5-5 5 28 5 7 5 8 5 15 5 12 5 7 5 17 5 9 5 8 5-3 5 12 5 19 5 2 5 1 5 21 5-4 5 24 5 4 5 14 5-3 5 20 5-3 5 4 5 21 5 11 5 8 5-9 5 15 5 8 5-1 5 14 5-1 5 18 5 2 5 5 5 9 5 6 5 8 5 10 5-2 5 0 5 18 5 1 5 13 5-12 5 20 5-5 5 14 5-7 5-1 5 14 5-6 5 17 5-1 5 11 5 1 5 0 5 5 5-9 5 3 5 5 5 7 5 10 5-15 5 7 5-2 5 17 5 2 5-6 5-6 5 12 5-10 5 6 5 4 5-9 5-2 5-3 5 16 5-18 5 16 5 1 5-11 5-6 5 10 5-11 5 4 5-3 5 7 5 0 5-3 5-4 5 4 5-14 5-3 5-3 5-3 5 2 5-8 5 13 5-20 5 15 5-5 5-7 5-3 5 4 5-12 5 8 5-11 5 4 5-9 5 6 5-10 5-4 5-12 5 12 5-23 5-5 5 5 5 10 5-16 5-6 5 3 5 6 5-3 5-17 5 4 5-2 5-7 5-2 5 2 5-1 5 3 5-2 5-5 5-7 5-8 5-4 5-4 5 9 5-15 5 3 5-8 5-3 5 8 5-2 5-7 5-1 5-2 5 2 5-18 5 4 5 9 5 3 5-8 5 1 5-14 5-4 5 16 5-16 5-2 5 5 5-4 5 6 5-12 5-2 5-2 5 14 5-5 5-2 5-10 5-3 5 9 5 2 5-9 5 1 5 11 5 1 5-12 5 2 5 11 5 0 5-5 5 6 5-3 5-6 5 0 5-7 5 7 5-3 5 12 5-6 5 3 5 21 5-14 5 6 5 15 5-13 5 13 5 2 5 5 5 5 5 1 5 11 5-1 5-6 5 13 5-6 5 8 5 18 5-12 5 10 5 0 5 22 5-12 5 16 5 4 5 14 5-11 5 5 5 22 5-7 5 11 5 15 5-6 5 4 5 19 5 5 5 11 5 3 5 4 5-1 5 18 5 3 5 3 5 10 5-2 5 22 5-5 5 18 5 4 5 4 5-1 5 15 5-1 5 17 5-5 5 16 5-9 5 22 5 1 5 9 5 8 5 15 5 0 5 15 5 3 5 3 5 15 5 3 5 4 5 10 5-8 5 8 5 16 5 3 5 5 5 10 5 1 5 22 5-9 5 4 5 16 5 3 5 6 5 16 5 7 5 8 5 12 5-4 5 13 5 14 5-5 5 13 5-2 5 3 5 8 5-2 5 11 5 7 5 16 5 7 5 4 5-1 5-3 5 17 5 1 5 11 5 0 5-3 5 16 5-1 5 21 5-11 5 14 5-1 5 14 5-5 5 23 5-3 5 8 5-6 5 3 5 4 5-4 5 16 5-1 5 4 5-2 5-1 5 16 5 7 5-5 5 1 5-2 5 1 5 11 5-4 5 10 5-6 5-8 5 2 5 9 5-6 5 7 5-1 5 3 5-4 5-1 5 0 5-4 5-1 5 13 5-2 5-2 5 5 5-13 5 11 5 3 5-8 5 4 5-18 5 14 5-15 5 5 5 3 5-11 5-9 5 13 5-15 5 8 5-4 5-2 5 4 5 1 5-1 5-6 5-1 5-19 5 4 5 0 5-6 5 6 5-5 5-13 5 4 5-16 5 5 5-17 5 14 5-14 5 7 5-17 5-5 5-5 5-5 5-9 5 9 5-8 5-3 5-7 5 1 5-3 5-14 5 1 5-7 5-3 5-2 5 7 5-16 5 7 5-7 5 1 5-7 5-2 5-19 5 8 5-12 5-3 5-10 5-3 5 7 5-13 5 6 5-8 5 3 5-2 5-10 5 10 5-8 5-6 5-2 5-3 5-10 5 1 5-13 5 12 5-9 5-2 5-2 5-1 5-10 5-6 5-6 5 8 5-8 5 5 5-9 5 11 5-11 5-4 5 7 5-10 5 0 5 2 5-14 5 5 5 12 5-7 5-12 5 15 5-1 5-6 5-12 5 9 5 1 5-3 5 10 5-7 5 7 5-9 5 13 5-13 5-5 5 17 5-11 5-3 5 19 5-12 5 9 5-11 5 15 5 2 5-10 5 1 5-1 5 11 5-1 5 12 5-7 5 7 5 1 5 2 5-3 5 13 5-4 5 15 5-2 5 3 5 9 5-9 5 18 5 3 5-8 5 5 5 1 5 12 5-2 5 20 5-5 5 5 5 20 5-5 5 7 5 11 5 6 5 2 5 13 5-1 5 16 5-1 5 5 5 9 5 5 5 17 5 6 5-7 5 22 5 6 5-7 5 15 5 9 5 7 5-3 5 26 5-3 5 13 5 4 5 13 5-7 5 13 5-2 5 18 5-4 5 3 5 18 5 13 5 2 5 13 5 6 5-4 5 10 5 17 5-4 5 13 5-4 5 2 5 19 5-2 5-2 5 20 5 4 5 12 5 9 5 0 5-5 5 6 5 21 5 2 5 7 5 0 5 6 5-6 5 12 5 8 5-1 5 1 5 21 5-10 5 11 5 8 5 0 5 12 5-8 5 17 5 4 5-3 5 2 5 11 5-6 5 12 5-15 5 1 5 4 5 17 5-6 5 4 5 6 5-7 5 7 5 6 5-10 5 10 5 4 5-2 5-4 5-2 5 19 5-3 5-5 5 3 5-14 5 19 5-12 5 2 5-7 5 6 5-4 5 4 5 2 5 3 5-10 5 14 5 2 5-17 5 0 5 13 5-9 5-3 5-2 5-4 5 13 5-7 5-10 5 15 5-15 5 7 5-1 5-8 5 4 5-10 5 8 5-13 5-2 5 3 5 6 5-2 5-10 5-6 5 9 5 3 5-15 5 0 5 3 5-9 5-1 5-8 5 6 5-2 5 0 5-22 5-1 5 11 5-9 5-5 5-18 5 14 5-18 5-9 5-2 5-3 5 6 5-8 5-8 5-8 5-3 5 5 5-14 5-12 5 15 5-5 5-16 5 0 5-14 5 5 5-14 5 0 5 11 5-22 5 2 5-4 5-13 5 10 5-14 5-13 5 9 5-10 5-10 5 0 5 1 5-4 5-4 5-12 5 0 5 5 5 9 5-18 5 0 5 1 5-6 5 8 5-5 5-5 5-14 5 2 5 6 5-7 5-11 5 11 5 0 5-6 5-5 5-10 5 2 5 0 5 1 5-2 5-9 5 8 5 4 5-13 5-3 5 6 5-2 5 9 5-14 5 9 5-1 5-13 5 16 5-6 5 6 5-1 5-7 5 6 5-11 5-1 5 4 5-3 5-2 5 14 5 2 5-13 5 12 5 4 5-3 5-13 5-1 5 7 5 10 5 1 5-17 5 19 5-3 5 2 5-6 5 10 5 8 5-5 5 8 5-3 5-7 5 5 5 1 5 4 5 11 5-1 5 12 5-12 5 1 5 2 5 5 5 12 5-6 5 14 5 10 5-1 5-4 5 15 5 7 5-2 5 2 5 9 5-6 5 17 5-4 5 13 5-2 5 6 5 16 5-7 5 13 5-8 5 18 5-6 5 15 5 14 5-6 5 4 5 16 5-5 5 8 5 5 5 7 5 12 5 6 5-11 5 6 5 20 5-6 5 16 5-6 5 12 5 5 5 6 5 8 5-3 5 12 5 16 5-13 5 19 5 1 5-3 5 15 5-1 5 9 5 0 5 21 5 3 5-5 5 3 5 1 5 7 5 5 5 6 5-9 5 19 5-13 5 23 5-9 5 11 5 13 5-4 5-3 5 13 5 3 5-4 5 7 5 6 5-13 5 15 5 3 5-1 5-1 5 6 5 4 5 12 5 1 5-3 5-2 5 12 5-15 5 7 5 2 5 5 5-7 5 9 5-3 5 0 5 20 5-1 5-8 5 8 5-9 5 13 5-6 5-4 5-4 5 4 5 7 5 1 5-14 5 19 5-8 5 8 5-16 5 17 5-5 5-9 5-2 5 5 5 13 5-5 5-8 5-2 5 6 5-8 5-8 5 10 5-4 5 7 5-17 5 10 5 2 5-6 5 5 5 1 5-4 5-13 5-5 5 5 5 6 5-4 5-12 5 2 5-8 5 5 5-15 5 16 5-3 5-7 5-13 5 0 5 8 5-15 5 6 5-3 5-6 5-12 5 2 5 1 5-6 5-2 5-1 5-9 5 1 5-5 5 6 5-20 5-5 5 13 5-4 5-6 5-16 5 2 5 7 5-18 5-6 5 15 5-12 5-12 5 2 5 6 5-6 5-17 5 4 5-15 5-9 5 6 5-6 5 6 5 0 5 0 5-7 5-11 5-3 5-6 5 3 5 1 5-19 5-3 5 7 5-14 5 2 5-4 5-11 5 11 5-12 5-11 5 14 5-5 5-13 5 10 5-17 5 4 5 1 5 3 5-4 5-4 5-1 5-19 5-3 5-1 5 9 5-15 5 0 5-5 5 10 5 0 5-10 5 0 5 14 5-11 5-4 5 7 5 0 5-5 5-9 5 3 5 11 5-11 5-2 5 2 5 10 5 3 5 0 5 1 5 1 5 3 5-1 5-3 5-5 5 16 5-15 5 2 5 9 5-6"/>
<path stroke="#000080" d="M2255 12989l5-1 5-8 5 7 5-12 5 22 5-1 5-8 5 10 5-3 5-13 5 6 5-6 5 15 5 6 5-18 5 0 5 0 5 14 5 13 5 0 5-6 5-8 5 14 5-22 5 13 5 3 5 11 5-16 5 17 5-14 5 16 5-8 5-6 5 8 5 3 5-7 5-8 5-3 5 12 5 10 5-22 5 5 5 8 5-9 5 7 5 12 5-11 5 10 5 3 5 0 5-14 5 8 5-10 5 11 5-4 5 1 5-11 5 2 5 16 5-3 5-14 5 8 5-18 5 4 5 0 5 6 5 5 5-15 5 11 5-4 5 18 5-26 5 6 5-4 5-5 5 4 5-1 5 10 5-1 5 4 5 8 5-17 5 12 5-5 5 2 5-2 5-17 5 23 5-8 5 9 5-2 5-24 5 5 5 5 5 8 5-19 5 11 5-10 5 4 5-4 5-4 5 19 5-5 5 6 5-19 5 12 5-2 5 8 5-18 5 1 5 2 5 13 5-23 5 6 5-9 5-7 5 20 5-11 5-3 5 13 5-7 5 7 5-21 5 15 5-17 5 15 5-10 5 11 5-15 5 11 5-13 5-7 5 13 5-11 5 14 5 0 5-10 5-5 5 16 5 3 5 1 5-4 5-14 5 18 5-12 5 2 5-7 5 13 5 4 5-16 5-4 5 7 5-7 5-1 5 8 5 1 5-11 5 26 5 2 5-4 5-13 5 9 5 7 5-3 5 5 5-3 5-8 5 1 5 2 5 22 5-15 5 5 5 4 5-19 5 6 5 16 5-12 5-4 5 9 5-12 5 14 5-3 5 5 5-19 5-2 5 16 5-3 5 10 5 1 5 1 5-23 5 18 5 1 5-4 5-11 5 4 5 1 5-9 5 13 5-11 5-1 5 10 5-9 5 11 5-23 5 25 5-6 5-10 5 3 5 12 5 1 5-18 5 9 5-6 5 6 5 0 5-10 5-8 5-1 5 17 5-11 5 9 5-2 5-4 5-15 5 21 5-15 5 15 5-25 5 20 5 1 5-2 5-6 5 7 5-21 5 4 5-7 5 14 5-8 5 5 5-18 5-1 5 2 5 21 5-8 5-11 5 0 5 19 5-13 5 14 5-12 5 19 5-14 5 12 5-11 5-9 5 3 5 16 5-12 5 8 5-12 5 8 5 5 5 6 5 7 5-14 5 0 5-1 5 14 5 1 5-9 5-1 5-1 5 1 5 18 5 1 5-8 5 8 5-6 5 1 5 9 5-10 5 3 5 13 5 1 5-9 5-3 5-13 5 11 5-4 5 3 5-6 5 19 5-21 5 11 5-16 5 12 5 16 5-15 5-6 5 14 5 3 5-22 5 14 5-16 5 18 5-5 5 5 5 2 5-6 5 0 5-11 5-4 5 14 5-17 5 13 5-12 5-13 5 13 5 3 5-20 5 25 5-18 5 3 5 7 5-5 5-3 5 13 5-22 5 16 5-20 5 18 5-2 5-9 5-1 5 6 5 10 5-18 5 8 5 4 5-2 5-2 5 8 5-3 5 7 5-6 5 9 5-2 5-9 5 6 5-6 5-1 5 8 5 10 5-5 5 7 5-11 5 8 5-2 5 2 5-3 5-7 5-1 5 3 5 2 5 10 5-1 5 7 5 10 5-14 5-1 5 8 5-2 5-11 5 20 5-10 5 6 5 4 5 9 5-14 5 4 5 11 5 2 5-5 5 2 5-19 5 16 5-5 5 9 5 2 5-6 5 12 5-1 5-20 5 22 5-4 5 2 5-15 5 3 5 8 5 4 5-13 5 11 5-6 5 3 5 1 5-2 5 14 5-1 5-21 5 1 5 0 5 2 5 2 5-1 5 2 5 3 5 8 5-3 5-13 5 16 5 0 5-13 5 24 5-15 5 6 5 0 5-14 5 1 5 0 5 19 5-1 5 0 5-17 5 5 5 2 5-14 5 1 5 7 5-10 5 10 5 3 5-12 5 20 5-9 5 2 5 4 5 5 5-19 5-1 5 13 5 7 5-17 5 7 5-11 5-1 5 24 5-4 5-2 5-17 5 15 5-1 5-12 5 11 5 3 5-20 5-6 5 6 5 10 5 5 5 2 5-3 5-4 5-10 5 3 5-3 5 9 5-13 5 17 5-4 5 3 5-4 5-2 5-10 5 14 5-4 5-17 5 3 5-4 5 14 5-7 5-7 5 11 5-16 5 21 5-1 5-23 5 15 5-2 5-9 5 0 5 16 5-23 5 21 5-11 5 0 5-3 5 5 5-16 5-1 5-2 5 11 5-9 5 26 5-13 5-2 5 15 5-1 5-17 5-3 5 16 5-10 5 12 5-12 5-3 5 5 5-10 5 5 5 0 5 16 5-10 5 15 5 5 5-10 5-7 5-3 5 26 5-20 5 17 5-17 5 24 5-9 5 3 5 0 5-9 5-2 5 19 5-6 5 1 5-11 5 23 5-5 5-6 5-8 5 12 5 14 5-5 5-19 5 20 5 4 5-17 5 16 5 3 5-15 5-8 5 7 5 15 5-11 5-4 5 4 5 11 5-6 5-13 5 5 5-1 5 13 5-6 5-11 5-1 5 9 5 4 5-1 5-7 5-1 5-4 5-4 5 5 5 8 5-10 5 16 5-9 5-11 5 8 5-8 5-1 5-1 5 1 5 1 5 20 5-24 5 11 5 6 5-14 5 8 5 3 5-1 5 4 5-6 5-2 5-8 5-5 5 16 5-3 5 0 5 2 5 9 5-5 5-7 5-8 5-1 5 11 5 6 5-3 5 3 5-17 5 0 5 13 5 6 5-14 5 21 5-14 5-10 5 13 5 11 5-1 5 0 5-14 5 11 5-15 5 14 5-8 5-3 5-7 5 10 5 8 5-11 5 9 5-4 5 0 5 6 5-3 5 12 5 3 5-8 5-5 5 5 5-4 5 13 5 6 5-21 5 11 5 2 5-11 5 26 5-22 5-1 5-2 5 7 5 6 5-4 5-4 5-5 5 14 5-16 5 4 5 7 5-17 5 4 5 8 5-4 5-2 5 20 5-25 5 8 5-4 5 1 5 19 5-15 5 6 5 1 5 8 5 0 5-16 5 8 5-14 5 13 5-12 5-8 5 19 5 4 5-6 5 3 5 5 5-15 5 15 5-11 5-1 5-13 5 4 5 2 5 4 5-8 5 20 5-3 5-18 5-1 5-2 5 4 5 15 5-14 5 9 5-1 5 10 5-13 5-7 5 8 5-4 5-7 5 20 5-14 5-10 5 21 5-1 5-13 5 10 5-8 5 3 5-3 5-9 5 21 5-24 5 1 5 12 5-6 5 17 5-1 5-15 5-7 5 11 5-5 5 15 5-17 5 6 5 8 5-2 5-21 5 7 5 1 5 5 5 2 5 2 5-6 5 7 5 3 5-19 5 22 5-17 5-9 5 6 5 9 5-7 5 6 5 5 5-11 5-3 5 13 5-18 5 21 5-3 5-13 5 4 5 6 5 5 5 2 5-12 5-2 5-10 5 24 5-19 5-1 5 18 5-3 5-6 5 5 5 8 5-13 5-12 5 23 5-2 5-3 5-18 5 2 5-7 5 13 5 9 5-9 5-10 5 1 5 17 5-13 5 14 5-4 5-5 5 1 5 11 5 2 5-22 5 15 5-5 5-11 5 0 5 1 5 20 5-5 5-19 5 11 5 8 5-14 5 5 5-3 5 5 5-11 5 15 5-14 5 11 5-11 5 10 5-15 5 3 5 12 5-16 5 4 5 12 5 0 5-13 5 12 5 10 5-21 5 6 5-9 5 17 5-15 5 8 5-5 5 15 5-15 5 2 5 9 5-16 5 12 5-10 5 1 5 21 5-23 5 5 5 1 5 8 5-15 5-3 5 3 5 10 5 11 5-9 5-14 5 11 5 5 5 8 5 5 5-21 5 19 5-4 5-2 5-3 5 2 5-9 5-7 5 5 5-6 5 20 5-14 5 17 5-8 5 3 5-4 5 9 5-2 5-15 5 15 5 4 5-2 5 2 5-5 5-7 5-11 5 3 5 12 5-11 5 12 5 1 5 4 5-2 5 2 5-19 5-3 5 19 5-12 5 15 5-5 5 8 5-20 5 2 5 11 5-17 5 18 5-3 5-1 5-10 5 18 5-18 5 17 5 2 5-15 5 15 5-18 5 3 5 11 5 2 5 1 5-4 5-20 5 22 5 2 5 2 5-14 5-4 5 18 5-14 5 3 5 13 5-19 5 2 5 0 5 11 5 3 5-22 5 4 5 13 5-13 5 10 5-3 5 10 5-16 5 6 5 1 5-15 5 1 5 3 5-4 5 8 5 5 5-2 5 4 5-2 5 4 5 4 5-22 5 0 5-1 5 13 5-11 5 8 5-6 5 3 5 0 5 4 5-15 5 13 5-5 5 6 5-3 5-10 5 11 5 4 5 8 5-9 5-5 5-6 5 4 5 22 5-10 5 10 5-21 5 1 5 19 5-21 5 11 5 5 5-2 5 3 5-15 5 12 5-1 5 5 5-8 5-5 5 4 5-7 5 17 5-6 5-7 5 11 5-11 5 5 5 12 5-3 5-12 5-4 5 13 5 6 5-2 5-6 5 6 5 7 5-16 5-4 5 16 5 4 5-9 5-8 5 2 5-9 5 21 5 7 5-20 5 13 5-5 5 5 5 8 5-4 5-6 5-16 5 7 5-1 5 10 5-16 5 3 5-3 5 15 5-18 5 9 5-1 5 13 5-22 5 17 5-8 5-2 5-5 5 11 5 17 5-4 5-15 5-1 5 11 5 2 5 7 5 2 5 0 5-18 5 10 5-5 5 9 5-10 5 4 5 11 5-18 5 15 5-8 5-10 5 9 5-2 5-8 5 11 5-3 5-5 5 1 5 3 5-7 5 3 5-7 5-2 5-2 5 1 5 12 5-11 5 6 5-5 5 5 5-12 5-3 5 8 5-3 5 14 5-4 5 1 5-11 5 5 5 4 5-11 5-4 5 23 5-1 5-23 5 2 5 17 5-5 5 2 5-10 5-9 5-2 5 17 5-10 5 0 5 2 5 1 5-11 5-6 5 21 5-21 5 13 5-9 5-2 5 16 5-4 5 2 5-12 5 10 5-11 5 8 5 1 5-22 5 18 5-13 5-9 5 16 5 2 5-16 5 10 5-2 5-4 5 8 5-5 5-5 5 11 5-25 5 15 5-1 5-1 5 1 5-9 5-10 5 13 5-14 5 20 5-3 5-15 5 14 5-14 5 13 5-21 5-2 5 7 5-1 5-4 5-12 5-3 5 11 5 4 5 6 5-6 5-13 5 3 5 6 5-12 5 6 5-6 5 7 5-11 5-8 5 7 5-2 5 1 5-9 5-2 5 10 5-3 5-20 5 12 5 7 5-19 5 10 5-10 5 7 5-6 5 4 5-3 5-16 5 7 5-9 5 22 5-25 5-1 5-7 5-5 5 6 5-13 5 11 5 5 5-5 5-15 5-3 5-3 5 13 5-17 5 23 5-6 5-5 5 3 5-27 5 1 5 6 5 2 5-18 5 9 5-16 5 6 5-10 5 14 5-4 5-1 5-15 5-8 5 14 5-10 5-10 5-5 5 4 5 5 5-7 5-6 5-14 5 12 5 10 5-23 5 14 5-21 5 15 5-12 5 4 5-6 5-11 5 10 5-14 5 10 5-8 5-24 5 15 5-10 5 4 5-13 5-5 5-2 5-11 5 5 5 8 5-20 5 4 5 9 5 1 5-20 5 1 5 10 5-2 5-14 5-6 5-3 5 20 5-1 5-27 5 8 5-4 5 2 5 1 5-2 5 1 5-3 5-2 5 7 5-18 5-5 5 15 5-9 5-11 5 17 5-4 5 3 5-13 5 15 5-19 5 15 5-15 5 12 5-4 5-3 5-5 5-1 5-2 5-4 5-18 5 5 5 10 5-25 5 2 5 14 5-2 5-6 5-5 5-5 5-11 5 0 5-5 5 1 5 1 5-6 5 10 5-7 5-10 5-14 5 1 5-7 5-1 5 1 5-10 5-2 5 16 5-17 5-14 5 15 5-15 5 8 5-12 5-4 5 1 5-23 5 8 5 4 5-24 5 13 5-8 5-12 5-4 5 15 5-7 5-5 5-27 5 10 5-9 5-17 5 14 5-23 5 13 5-23 5 13 5-12 5-14 5-9 5-3 5-20 5 14 5-10 5-6 5-7 5-15 5-10 5-5 5-19 5 5 5-25 5 2 5-10 5-1 5-7 5-25 5-6 5-13 5-11 5 7 5-17 5-6 5-24 5 9 5-10 5-23 5-8 5 0 5-7 5-16 5 5 5-12 5-20 5-19 5-6 5-10 5 0 5-12 5 0 5-19 5-13 5-6 5-2 5-10 5-7 5-22 5-5 5-4 5-29 5-1 5-6 5-7 5-8 5-34 5 12 5-35 5 7 5-29 5-10 5-5 5 0 5-25 5-20 5 0 5-15 5-19 5-15 5 8 5-23 5-14 5-9 5-22 5 3 5-17 5-22 5-2 5-18 5-14 5-9 5-2 5-32 5-11 5-3 5-13 5-8 5-7 5-20 5-17 5-6 5-8 5-5 5-18 5-3 5-34 5 7 5-29 5-10 5 6 5-13 5-27 5 0 5-21 5-20 5-14 5-6 5-16 5-6 5-12 5-5 5-26 5-6 5-13 5-23 5-21 5 0 5-8 5-27 5-20 5-16 5-10 5 4 5-17 5-12 5-33 5-10 5-5 5-27 5-16 5-13 5-7 5-13 5-24 5-4 5-22 5-19 5-19 5-2 5-24 5-3 5-9 5-21 5-10 5-21 5-2 5-28 5-19 5 0 5-15 5-23 5-6 5-8 5-30 5-3 5-21 5-18 5 3 5-22 5-30 5 4 5-10 5-22 5-24 5 5 5-22 5-3 5-24 5-12 5-6 5-25 5 4 5-28 5 5 5-14 5-24 5-2 5-16 5-18 5-8 5-22 5-15 5 13 5-18 5-9 5-22 5-19 5-9 5-3 5-10 5-3 5-17 5 6 5-24 5-12 5-9 5-12 5-11 5 5 5-16 5-7 5 3 5-13 5-6 5-18 5-6 5-9 5-17 5 3 5-23 5-10 5-2 5-8 5-8 5-10 5-23 5 10 5-12 5-6 5-28 5-11 5 4 5-26 5-3 5 6 5-25 5-8 5-13 5-3 5-14 5-19 5-2 5-15 5-16 5-11 5-8 5-13 5-24 5-12 5-8 5 0 5-2 5-35 5-10 5 4 5-1 5-11 5-30 5-7 5-2 5-7 5-11 5-25 5-4 5-13 5-22 5 5 5-25 5 6 5-16 5 1 5-9 5-26 5 1 5-1 5-15 5-15 5-16 5-10 5 0 5-3 5-8 5-9 5-14 5 0 5-19 5-10 5 2 5-12 5-9 5-20 5-4 5-19 5 10 5-22 5 1 5-25 5-1 5-15 5-3 5-3 5-12 5-22 5 2 5-22 5 1 5 1 5-14 5-13 5-1 5-10 5-15 5-10 5-3 5-12 5-9 5-23 5 13 5-11 5-26 5 7 5-20 5 2 5-17 5-6 5-9 5-6 5-8 5-6 5-11 5-5 5-17 5 5 5-14 5-15 5 11 5-11 5-16 5-1 5 0 5-30 5 10 5 2 5-29 5-2 5-3 5 8 5-33 5 5 5-15 5-11 5-10 5 4 5-9 5-5 5 6 5-17 5-8 5-2 5-8 5-1 5-9 5-11 5 9 5-7 5-13 5-3 5-24 5 13 5-9 5-16 5-10 5 5 5 2 5-8 5-2 5-11 5 0 5-2 5-6 5-22 5 14 5-7 5-10 5 12 5-19 5-7 5 11 5 1 5-23 5 0 5-7 5 4 5 3 5-2 5-9 5 0 5-11 5 1 5-11 5 2 5-4 5 6 5-5 5-21 5 1 5 9 5 1 5-6 5-7 5-16 5 8 5 10 5-26 5-2 5 11 5-3 5-2 5-13 5-14 5 17 5 0 5-14 5-7 5-10 5 0 5 2 5 3 5-21 5 5 5-16 5 7 5-9 5-8 5-14 5-10 5 16 5-1 5-13 5 8 5-16 5-3 5-3 5-9 5 4 5 0 5 5 5-12 5 1 5 8 5-9 5 1 5-8 5-8 5 3 5 2 5 8 5-13 5-6 5-3 5 25 5-8 5 7 5 1 5-5 5-7 5 7 5-10 5 13 5 10 5-13 5 5 5-2 5 17 5 5 5-5 5-3 5-7 5 14 5-10 5 4 5 6 5 3 5 16 5 2 5 12 5 3 5 6 5-9 5 14 5 13 5-3 5-4 5 17 5-5 5 12 5 11 5-1 5 5 5 6 5 11 5 12 5-6 5 8 5 6 5 7 5-11 5 18 5-5 5 4 5 10 5 26 5-6 5 9 5-1 5 6 5-2 5 14 5-5 5 12 5 5 5 6 5-6 5 16 5-1 5-1 5 23 5-12 5 26 5-7 5 1 5-5 5 2 5 21 5 3 5-6 5 17 5-11 5 10 5-7 5 9 5 15 5-3 5 1 5 11 5 14 5-4 5-6 5 18 5-18 5 19 5-5 5 6 5-3 5 3 5 1 5 13 5 7 5-15 5 11 5 8 5 16 5-9 5 4 5 3 5-6 5 12 5-6 5 20 5 4 5 4 5-6 5 13 5 0 5 22 5 4 5 35 5 17 5 18 5 36 5 20 5 29 5 29 5 0 5 29 5 37 5 1 5 31 5 28 5-3 5 33 5-1 5 23 5 18 5 1 5 36 5 14 5-6 5 29 5 28 5 3 5 22 5 17 5 14 5 21 5 37 5 10 5 39 5 20 5 17 5 15 5 28 5 2 5 45 5 22 5 11 5 22 5 27 5 3 5 40 5 13 5 9 5 30 5 31 5 9 5 9 5 23 5 25 5-1 5 37 5-4 5 15 5 14 5 38 5 9 5 16 5 9 5 7 5 22 5 9 5 25 5 18 5 12 5 12 5 12 5 26 5 0 5 32 5 1 5 14 5 21 5-4 5 36 5 14 5 2 5 11 5 29 5-6 5 33 5 13 5-1 5 11 5 17 5 30 5 8 5 29 5-4 5 39 5 18 5 0 5 12 5 35 5 11 5 17 5 2 5 11 5 21 5 31 5-8 5 35 5-2 5 17 5 20 5 22 5 4 5 13 5 18 5 11 5 16 5-2 5 29 5 12 5 4 5-6 5 19 5 21 5-3 5 18 5 8 5 7 5 22 5 4 5 22 5-9 5 31 5-4 5 18 5-5 5 5 5 8 5 15 5 8 5 21 5 9 5 17 5 3 5 8 5 3 5 4 5 26 5-2 5 32 5 3 5-7 5 22 5 1 5 8 5 20 5 23 5-11 5 32 5-4 5 5 5 26 5-7 5 5 5 30 5 9 5 6 5 8 5 1 5 19 5-2 5 10 5 1 5 18 5 12 5-4 5 5 5 6 5 17 5-2 5 16 5 12 5-7 5 26 5-10 5 9 5 22 5 15 5-13 5 22 5 0 5-1 5 16 5 3 5 6 5 19 5-1 5 14 5-13 5 29 5-13 5 12 5-6 5 9 5 15 5 14 5 8 5 0 5 2 5 15 5-1 5 1 5 21 5 6 5-10 5 2 5 24 5 8 5-14 5 14 5 13 5-4 5 17 5-15 5 19 5-4 5 18 5-13 5 23 5-2 5 11 5-10 5 23 5 0 5-11 5 26 5-14 5 11 5 3 5 15 5 4 5-14 5 24 5-15 5 20 5-10 5 12 5-3 5 20 5-5 5 7 5 14 5-2 5-13 5 9 5 7 5-3 5-4 5 11 5 1 5 2 5 2 5 2 5 22 5-7 5 10 5 4 5 5 5-4 5 10 5-15 5 4 5 15 5-3 5-1 5 9 5 4 5 17 5-8 5 15 5-16 5 19 5 1 5-14 5 20 5 6 5 5 5 8 5-6 5 4 5-3 5 9 5 15 5-5 5 6 5 3 5-6 5 0 5-7 5 14 5 5 5-10 5 4 5 30 5-21 5 22 5-2 5 9 5-5 5 3 5-5 5 13 5 10 5-14 5 21 5-14 5 13 5 10 5 0 5-9 5 10 5 10 5 9 5-2 5 7 5-9 5 5 5-8 5 6 5 3 5 20 5 3 5 3 5-9 5 18 5-4 5-7 5 11 5-5 5 14 5 14 5-11 5 2 5-5 5 13 5 7 5 9 5-13 5-1 5 23 5-18 5 11 5 8 5 16 5-6 5 10 5 3 5-1 5 4 5-13 5 18 5 1 5-10 5-1 5 5 5 18 5-1 5-2 5-7 5 24 5-19 5 8 5 21 5-6 5-3 5 5 5 4 5 3 5-2 5-9 5 7 5 7 5 9 5 7 5 9 5-12 5 0 5 22 5-3 5-2 5-4 5 7 5 19 5-4 5-10 5 15 5 1 5 11 5-15 5 11 5 17 5-2 5 1 5-3 5 0 5 0 5 9 5 6 5 6 5 14 5-7 5 10 5-9 5 10 5 15 5-18 5-1 5 0 5 0 5 8 5 3 5 7 5 11 5 12 5 5 5-3 5-10 5 21 5-2 5 8 5 1 5-12 5 23 5-2 5-9 5 14 5-6 5-5 5 16 5 11 5-7 5 8 5-18 5 10 5-2 5 20 5-18 5 0 5 16 5-2 5-5 5 19 5-16 5-1 5 13 5 10 5-12 5 12 5-17 5 23 5-5 5 5 5-2 5-9 5 11 5-4 5 3 5 19 5-11 5 13 5-1 5-2 5-5 5-10 5 20 5-19 5 11 5 14 5-2 5-2 5 4 5 11 5-1 5-3 5-3 5-6 5 20 5 1 5-3 5 8 5-21 5 4 5 14 5 12 5-1 5-7 5-13 5 12 5 3 5 4 5 6 5-5 5-7 5 7 5-8 5 5 5 4 5-1 5 18 5-17 5 10 5-11 5 21 5-16 5 7 5 9 5-6 5-2 5-13 5 11 5 2 5 9 5-4 5-3 5 6 5-5 5 11 5-9 5-1 5 8 5-3 5-1 5-8 5 11 5 10 5 3 5-4 5-19 5 20 5-11 5 4 5-3 5-4 5-9 5 6 5 2 5 12 5-14 5 0 5 20 5-5 5-3 5-11 5-1 5 16 5-11 5 21 5-16 5 14 5-9 5 4 5 1 5-6 5 12 5 10 5-11 5-9 5 7 5 9 5-11 5 3 5 9 5-17 5 8 5 2 5-3 5 6 5 6 5-10 5 10 5-8 5 13 5-14 5 5 5 6 5-18 5 23 5-11 5-2 5-7 5 0 5 9 5 9 5-6 5 10 5 4 5-11 5-6 5 21 5-18 5 10 5-9 5 19 5-2 5-5 5 11 5-3 5 0 5 4 5 7 5-10 5 10 5-7 5 10 5-3 5 6 5-5 5-1 5-10 5 2 5 24 5-8 5 17 5-11 5-8 5 18 5-10 5 8 5-14 5 25 5-16 5 7 5 4 5 5 5 12 5 0 5-11 5 2 5 11 5-9 5-1 5 20 5-4 5-7 5-3 5 10 5 0 5-1 5 10 5-10 5 4 5 9 5-2 5 1 5 9 5-13 5 20 5 7 5 1 5 0 5-21 5 7 5-5 5 1 5 3 5-2 5 25 5-8 5-5 5 0 5-4 5 3 5 19 5-2 5-3 5 5 5-2 5 10 5-3 5-2 5-10 5 16 5 9 5-14 5 3 5 12 5-14 5 12 5 2 5 7 5 4 5 0 5-16 5 17 5-3 5-4 5-9 5 15 5-3 5 8 5-1 5-10 5 16 5-13 5 0 5 14 5 7 5-5 5 6 5-19 5 1 5 12 5-4 5 3 5-2 5 3 5 12 5-8 5 2 5-8 5 13 5 3 5-8 5 5 5-6 5-2 5 3 5-2 5 25 5 2 5-19 5 19 5-5 5 6 5-4 5-2 5-3 5 0 5 13 5-13 5-2 5 23 5-16 5-3 5 4 5 13 5 0 5 2 5 0 5 3 5-17 5-2 5 18 5 0 5-10 5-6 5-2 5 20 5-9 5-1 5-12 5-1 5 6 5 12 5-2 5-13 5-4 5 15 5 4 5 5 5-7 5-10 5 7 5 5 5-12 5 19 5-18 5-3 5 9 5 11 5-7 5-9 5 0 5 3 5 8 5 5 5-7 5-14 5 19 5-2 5-3 5 3 5-22 5 17 5-4 5 13 5 0 5-12 5 10 5-4 5-1 5-11 5 8 5-19 5 1 5 6 5 1 5-4 5 23 5-3 5 0 5 0 5 3 5-21 5 9 5-3 5 0 5 7 5-8 5 16 5-19 5 2 5 19 5-15 5 1 5 1 5 5 5 3 5-8 5-11 5 16 5-14 5-6 5-1 5 21 5-9 5-8 5-5 5 23 5-4 5 0 5-8 5-5 5 5 5 8 5 0 5-13 5 20 5-6 5-1 5 2 5-3 5 10 5-19 5 11 5-3 5 9 5-9 5-12 5 3 5 12 5-22 5 17 5-8 5-11 5 22 5-16 5 5 5 6 5-6 5 12 5 2 5-2 5-13 5 8 5-11 5 5 5 1 5-1 5-6 5 19 5-6 5-8 5-1 5-5 5 10 5-4 5 15 5-21 5 4 5 12 5-8 5 3 5 16 5-18 5-1 5 5 5 2 5 3 5 6 5-14 5 2 5 19 5-5 5-13 5 14 5 8 5-13 5 8 5 9 5-13 5 12 5-7 5 5 5 4 5-12 5 18 5 6 5-13 5-1 5 12 5 1 5 0 5 12 5-21 5 16 5 6 5 0 5-2 5-11 5 2 5 7 5 11 5-16 5 0 5 22 5-13 5 7 5 9 5-21 5 9 5 13 5-16 5 20 5-3 5-6 5 13 5-8 5 13 5 3 5-11 5 1 5-12 5-2 5 8 5-1 5 7 5-5 5 15 5-2 5-7 5-1 5 15 5 12 5-2 5-1 5-17 5 11 5-22 5 1 5 6 5 1 5 6 5 14 5 7 5-5 5-7 5-14 5 13 5 0 5 5 5-6 5-5 5-1 5 6 5-5 5 18 5-22 5 16 5-7 5 2 5 4 5-5 5 11 5-2 5-3 5 0 5 4 5 4 5-15 5-2 5 0 5 6 5 2 5-1 5 10 5-2 5 1 5-2 5 12 5-24 5 12 5-2 5 17 5-19 5 2 5 8 5-10 5-8 5 3 5 8 5-3 5 6 5-9 5 20 5-17 5 2 5 6 5 7 5 1 5-8 5 9 5-4 5-8 5 3 5-6 5 11 5-6 5-3 5-4 5 11 5-12 5 2 5-8 5 3 5 5 5 0 5 3 5 5 5-10 5-3 5 12 5 2 5 5 5-11 5-12 5 7 5 9 5-8 5-6 5 21 5-2 5-15 5-3 5 9 5-6 5 7 5 6 5-12 5 1 5 5 5-4 5-14 5 6 5-5 5 19 5-10 5 9 5-13 5-6 5 22 5 0 5-9 5-11 5-2 5 15 5-5 5-5 5 5 5-14 5 4 5 19 5-14 5-1 5 14 5-14 5-10 5 17 5-4 5-8 5 6 5-7 5 10 5 7 5-26 5 16 5 1 5-6 5-5 5-6 5 4 5-5 5-1 5 18 5-17 5-3 5 4 5-8 5 14 5-2 5-3 5-9 5 11 5 4 5-8 5 0 5 5 5-3 5 4 5 5 5-15 5 6 5-5 5 2 5 14 5-11 5 1 5-4 5 16 5-1 5-19 5 7 5 6 5 10 5-11 5-3 5-1 5 18 5-11 5-2 5 3 5 15 5-7 5-12 5-2 5-3 5 20 5-13 5 6 5 6 5-20 5 6 5 6 5 11 5-9 5-4 5-7 5 9 5-7 5 21 5-1 5-11 5-7 5 9 5 15 5-10 5-5 5-3 5-6 5-1 5 8 5 15 5 0 5-2 5-13 5 6 5-10 5 2 5-2 5 6 5-6 5 22 5 3 5-17 5 5 5-1 5 15 5 9 5 1 5-23 5 23 5-11 5-8 5 4 5 6 5-3 5 6 5-13 5 15 5-6 5 16 5-4 5-13 5 27 5-20 5 9 5-4 5 5 5-11 5 4 5 1 5 6 5 0 5 2 5 0 5 0 5 12 5-8 5 4 5-1 5 1 5 9 5 2 5-23 5 10 5 16 5-19 5 8 5-2 5 7 5 5 5-3 5-10 5 12 5 3 5-15 5 14 5-14 5 11 5-2 5-4 5 13 5 1 5-1 5 1 5 2 5-4 5 12 5-9 5-3 5 5 5-14 5 18 5-10 5-7 5-2 5 2 5 16 5-17 5-4 5 21 5-16 5 6 5 1 5-4 5 1 5 17 5 3 5-24 5 10 5 13 5-14 5-7 5 23 5-3 5-20 5 18 5-9 5 4 5-10 5 5 5 17 5-12 5 0 5 11 5-7 5-3 5-12 5 17 5-11 5 2 5-1 5 6 5 12 5-8 5 7 5 4 5-6 5-15 5 2 5-5 5 21 5-17 5 16 5-15 5 18 5-21 5 18 5 5 5-12 5-5 5 7 5 8 5-21 5 14 5-6 5 12 5-19 5 16 5-5 5 2 5-2 5-3 5-4 5 12 5-5 5 12 5-19 5-2 5 14 5 3 5-5 5-6 5-11 5 0 5 10 5 11 5-18 5 13 5 2 5 0 5-3 5-3 5 2 5-5 5 2 5 9 5-1 5-18 5 6 5-2 5-6 5 1 5 10 5-7 5 18 5-20 5-1 5-9 5 18 5 8 5-4 5 3 5-21 5 1 5 5 5 3 5-7 5-4 5 14 5 13 5-15 5-5 5 2 5-4 5-7 5 14 5-1 5 4 5-14 5-6 5 1 5 10 5 8 5-19 5 18 5-16 5-5 5 1 5 15 5-14 5 15 5 12 5-12 5 12 5-19 5 11 5 6 5-19 5 17 5 0 5 0 5-13 5-9 5 6 5 2 5-2 5 9 5-1 5-11 5 6 5 10 5-6 5 3 5 2 5-7 5 5 5-5 5-9 5-4 5 12 5 6 5 2 5-3 5-10 5 5 5-6 5 7"/>
<path stroke="#8000ff" d="M2255 12984l5-12 5 29 5-13 5-2 5 22 5-19 5-9 5 5 5 6 5 11 5-2 5-11 5 18 5-8 5-10 5 0 5-3 5 6 5 1 5 2 5 1 5 8 5-9 5 8 5 13 5-3 5 5 5 3 5 3 5-17 5 19 5 3 5-3 5-5 5-12 5 2 5 7 5-6 5 1 5-6 5 8 5 11 5-22 5 28 5-25 5 21 5-20 5 1 5 20 5 1 5-13 5 6 5-16 5-5 5 7 5-1 5 1 5 10 5-14 5 6 5 6 5 13 5-13 5 4 5-6 5 9 5-23 5 11 5-6 5 5 5-3 5 11 5-5 5 0 5-9 5-8 5 2 5 11 5-9 5 7 5 14 5-21 5-7 5 27 5-6 5-22 5 26 5-8 5-12 5 19 5-11 5 16 5 1 5-29 5 25 5-28 5 25 5-15 5-15 5 8 5-3 5 11 5-1 5-11 5 10 5-23 5 7 5-3 5 1 5 4 5-4 5 10 5 14 5-2 5-6 5 0 5-24 5-4 5 17 5-10 5-8 5-4 5 7 5 4 5-14 5 12 5-8 5 22 5-4 5-17 5-4 5 19 5-2 5 6 5-28 5 14 5 10 5-11 5-5 5-3 5 4 5 1 5 9 5-20 5 21 5-20 5 4 5 6 5-12 5 9 5 19 5 0 5-5 5-17 5 7 5 11 5-24 5 15 5 6 5 5 5-14 5 3 5 20 5-31 5 23 5-6 5 14 5-12 5-5 5 19 5-11 5 1 5 8 5-15 5 9 5 7 5-17 5 1 5 17 5 4 5-5 5-2 5-17 5 23 5 4 5-3 5-11 5-12 5 11 5 16 5-7 5-16 5 26 5-9 5 5 5-22 5 15 5 6 5-21 5 3 5 18 5-11 5 8 5-1 5-8 5-4 5 10 5-12 5 10 5-19 5 20 5-1 5 1 5-11 5 8 5-19 5-7 5 27 5-25 5 3 5 0 5-10 5 6 5 3 5-8 5 22 5-29 5 6 5-4 5 9 5-13 5 15 5-11 5 20 5-11 5-3 5 13 5-25 5 9 5 4 5-8 5 17 5 0 5-30 5 28 5-2 5-24 5 20 5-13 5-2 5 11 5-12 5 25 5 9 5-19 5 21 5-2 5-17 5 0 5 5 5-17 5 6 5 13 5-5 5 6 5-11 5 24 5-17 5-7 5-7 5 19 5-4 5 10 5 1 5-18 5 3 5 13 5 1 5 1 5 5 5-2 5 13 5-8 5-9 5 3 5-4 5 11 5 11 5-7 5 9 5-4 5-5 5 8 5-5 5-21 5 20 5 3 5-1 5-16 5-4 5-6 5 6 5-2 5 3 5-7 5 2 5-3 5 3 5 4 5 12 5 2 5-12 5-3 5-2 5 13 5-3 5-8 5-10 5 15 5 2 5-15 5-10 5 9 5-5 5-9 5 17 5-4 5-2 5-17 5 17 5-8 5-3 5 1 5 4 5 4 5 9 5-6 5-18 5 14 5 9 5-11 5-11 5 29 5-13 5-11 5 25 5-28 5 2 5 2 5 3 5 15 5 13 5-16 5 20 5-18 5 2 5 8 5 10 5-5 5-9 5-1 5 4 5 18 5-16 5-3 5 4 5 5 5 19 5-15 5 14 5 0 5-10 5 4 5-20 5 9 5-9 5 0 5 13 5 12 5-23 5-1 5 27 5-12 5-9 5 26 5-10 5 8 5 7 5-24 5 2 5 23 5-21 5 6 5-3 5-13 5 6 5-3 5 15 5 7 5-17 5 27 5-17 5 10 5-14 5 10 5-8 5 15 5-8 5 18 5-25 5 13 5 14 5-21 5 19 5 5 5-30 5 15 5-4 5 2 5 10 5-1 5-18 5 9 5 11 5-24 5 1 5 13 5-4 5-2 5 17 5 5 5-23 5-5 5 9 5 2 5 12 5 2 5-13 5 4 5-3 5-18 5 17 5 4 5-12 5 8 5-5 5 17 5-13 5 3 5-11 5 16 5-9 5-12 5 11 5-11 5 4 5-3 5 7 5 2 5 7 5-10 5 11 5-2 5-26 5 9 5-9 5 24 5-27 5 5 5 10 5-14 5 26 5-21 5-5 5 1 5 9 5 2 5 4 5-16 5 2 5 3 5-9 5-1 5 7 5 0 5 10 5 5 5-28 5 17 5-25 5 5 5-3 5 0 5 3 5 13 5 8 5 5 5 2 5-19 5 18 5-10 5 1 5-2 5-16 5 20 5-18 5-9 5 13 5 3 5 0 5 0 5 10 5-15 5 6 5-2 5-5 5 2 5 11 5-20 5 18 5-12 5 9 5 11 5-18 5 13 5-11 5-4 5-1 5 25 5 4 5-6 5-12 5 20 5-14 5 1 5 14 5-27 5 24 5-9 5 13 5-13 5-4 5 15 5 2 5-6 5-1 5 19 5-24 5 17 5-10 5 22 5 2 5-5 5-5 5 0 5-11 5 14 5 8 5-3 5-13 5-5 5 10 5-12 5 18 5 5 5-21 5 26 5-13 5 8 5 3 5 6 5 2 5-12 5-9 5 8 5 0 5-11 5 17 5-24 5-3 5 5 5 14 5 10 5-20 5-9 5 21 5 6 5-30 5 19 5-5 5 3 5-9 5-3 5 18 5-25 5 19 5-9 5 3 5 12 5-8 5 0 5-8 5 5 5-8 5 1 5 12 5-8 5 6 5-6 5-2 5 6 5-15 5 15 5-9 5-13 5 14 5 5 5-19 5 5 5 6 5-10 5 15 5 4 5-11 5-13 5 9 5 12 5-4 5-3 5 8 5 8 5-14 5-5 5 17 5-17 5-1 5 17 5-13 5 17 5-16 5 6 5-3 5-4 5 2 5 13 5-14 5 16 5-6 5-6 5 18 5-18 5 23 5-11 5 7 5 8 5-15 5 9 5-19 5 23 5-20 5 5 5 16 5-4 5-12 5-8 5 1 5 23 5-15 5 1 5-7 5 18 5 5 5 6 5 1 5-24 5-6 5 12 5-3 5-8 5 23 5-17 5 13 5-16 5-5 5 3 5 10 5-9 5 15 5-11 5 8 5-9 5 11 5-6 5 16 5-11 5-7 5 6 5-11 5 8 5-14 5 24 5-5 5-21 5 0 5 10 5 3 5-10 5 17 5-25 5 14 5-4 5 17 5-6 5 6 5-3 5-21 5 3 5-1 5-10 5 22 5 2 5 0 5-23 5 32 5-3 5-23 5 4 5 10 5-6 5-9 5 16 5-1 5-19 5 9 5 12 5-21 5-2 5 22 5 7 5-14 5-18 5-2 5 8 5 19 5-21 5 15 5 3 5-17 5 14 5-4 5-1 5-9 5 16 5-2 5-9 5-2 5-4 5-3 5 14 5 7 5-6 5 0 5-12 5 11 5-21 5 5 5-3 5 4 5 15 5-9 5 8 5 3 5-11 5-3 5-7 5 13 5 13 5 1 5-8 5-5 5 12 5-20 5-1 5 20 5-6 5 6 5-9 5-22 5 18 5-7 5-1 5 14 5 6 5 0 5 2 5-21 5 6 5 4 5-21 5 15 5-16 5 12 5-4 5 9 5-7 5-6 5-2 5 23 5-24 5 16 5 0 5-13 5 10 5 17 5 1 5-26 5 26 5-16 5 5 5-16 5 13 5 4 5-10 5 1 5 9 5-16 5 3 5 6 5 11 5-10 5-12 5 22 5-21 5 8 5-7 5 4 5 17 5-17 5 24 5-2 5 3 5-6 5-13 5 4 5-8 5 4 5 3 5-18 5 16 5 0 5 3 5-8 5-16 5 21 5 2 5-9 5 11 5 4 5-29 5 30 5-18 5 6 5 13 5-28 5-4 5 16 5 6 5 14 5-1 5-7 5-4 5 5 5-15 5 6 5 0 5-16 5 7 5-8 5 10 5 6 5-15 5 3 5-1 5 25 5-29 5-2 5 10 5-1 5 10 5-19 5-1 5 8 5 20 5-12 5 11 5-6 5 11 5-29 5 14 5 6 5 2 5-1 5-11 5 15 5-5 5 7 5 1 5-11 5-17 5 29 5-24 5 14 5-18 5 1 5 27 5 4 5-22 5 6 5-14 5-1 5 3 5 26 5-23 5-4 5 14 5-9 5 25 5-3 5 0 5-14 5 9 5-2 5-19 5 20 5 6 5-21 5 19 5-21 5-5 5 13 5 5 5-4 5-5 5-6 5 12 5-11 5 3 5 19 5-2 5 2 5-14 5 3 5 13 5-5 5-21 5 22 5-16 5 13 5-17 5 13 5-1 5 4 5-5 5-9 5 22 5-16 5-11 5 20 5-1 5-23 5 2 5-3 5 18 5 1 5 14 5-22 5-6 5 24 5-24 5 12 5-16 5 24 5-22 5 0 5 4 5 22 5-13 5 2 5-14 5 21 5 2 5-17 5 14 5 8 5-11 5-3 5 5 5-20 5 2 5 14 5-4 5-4 5 7 5-1 5-2 5 15 5-24 5 24 5-3 5-18 5 11 5 6 5-6 5-13 5 7 5 5 5 4 5-7 5 4 5 3 5 2 5 0 5-9 5 14 5-22 5 14 5-12 5-2 5 14 5 2 5 10 5-4 5 0 5-9 5-2 5 10 5 2 5-20 5-4 5 5 5 4 5 19 5-4 5 1 5 6 5-4 5-23 5 1 5 16 5 4 5-18 5 21 5-26 5-4 5 29 5-19 5-8 5 26 5-20 5 17 5 5 5-18 5-1 5 11 5-15 5 23 5 2 5-30 5 26 5-17 5 5 5-7 5 20 5-6 5 2 5 2 5-10 5 16 5-26 5 15 5-2 5 0 5 2 5 4 5-13 5 8 5-8 5 20 5-4 5-28 5 2 5 9 5 14 5 10 5-2 5-28 5 6 5 25 5-16 5 4 5-5 5 1 5-15 5 22 5-14 5 4 5-7 5-4 5 1 5 6 5-9 5 18 5-13 5 22 5-1 5 3 5-9 5 0 5-6 5-9 5 23 5-7 5-11 5 8 5 8 5-23 5-2 5 11 5-7 5 23 5-2 5-23 5 8 5 13 5-7 5 13 5-2 5-30 5 29 5-28 5 2 5 18 5-2 5-17 5 26 5-15 5 5 5-14 5 24 5 0 5-16 5 6 5-14 5 26 5-21 5 20 5-22 5 10 5 14 5-26 5 2 5 7 5 7 5-20 5 11 5-5 5-1 5-1 5 13 5 1 5-14 5 2 5 20 5 8 5-12 5 12 5-12 5-13 5 20 5-26 5 23 5 3 5-16 5-9 5 29 5-13 5-7 5 7 5 10 5-7 5-4 5 8 5-6 5-5 5 17 5-13 5 6 5-11 5 13 5 7 5-18 5 12 5 3 5-13 5-8 5 0 5-9 5 11 5 0 5 0 5 3 5-5 5 17 5-9 5 9 5-21 5 25 5-20 5 2 5 13 5 3 5-6 5-4 5-11 5-5 5 6 5-1 5 12 5 6 5-1 5-14 5 9 5 11 5-12 5-12 5 19 5-17 5 19 5-6 5-19 5-1 5 7 5 22 5 3 5-13 5-13 5 12 5 12 5-10 5-15 5 14 5 13 5-29 5 5 5 17 5-3 5 6 5-25 5 12 5 1 5 1 5-13 5 17 5 10 5-20 5 21 5-13 5 9 5-1 5 3 5 0 5-13 5-11 5 0 5-5 5-4 5 32 5-9 5-10 5 4 5-5 5 25 5 0 5-18 5 19 5-28 5 17 5-16 5 19 5-28 5 10 5 13 5-17 5 16 5 2 5 5 5 3 5-26 5 0 5 5 5 6 5 10 5 2 5 2 5-21 5 8 5 16 5-14 5 7 5 3 5-21 5 12 5-12 5 4 5 13 5-20 5 19 5-7 5-20 5 5 5 11 5 5 5 6 5-16 5 1 5 16 5-25 5 15 5 7 5-14 5 19 5-5 5-12 5 16 5-2 5-19 5 4 5-6 5 0 5 17 5-10 5-8 5 15 5-16 5 4 5 16 5-11 5-10 5 3 5 9 5 1 5 9 5-1 5-9 5 19 5-19 5-4 5-7 5 14 5 3 5 3 5-2 5 2 5 6 5-12 5 13 5-6 5-20 5 8 5 9 5-15 5 22 5-2 5-6 5-12 5 12 5 7 5-7 5-14 5 23 5-16 5 10 5-4 5 4 5-20 5-6 5 28 5-4 5-8 5 1 5 6 5 13 5-25 5 24 5-18 5 14 5-19 5 13 5-3 5 8 5 4 5-10 5 4 5-14 5-4 5 16 5-16 5 3 5 12 5-16 5 0 5 17 5-7 5-12 5 13 5 6 5-8 5-11 5 3 5 19 5-20 5 26 5-3 5-21 5 0 5 24 5-3 5 5 5-8 5-5 5-8 5-8 5 15 5 0 5-3 5-12 5 13 5 0 5-9 5-9 5 30 5-9 5 1 5-16 5 19 5-4 5-6 5 7 5 6 5-1 5-26 5 0 5 9 5 11 5-18 5 2 5 2 5 7 5 13 5-9 5-4 5-1 5 2 5 4 5-11 5 7 5 7 5-13 5 2 5-7 5 4 5 13 5 9 5-14 5 4 5 4 5-7 5 9 5-19 5 0 5 25 5-11 5-21 5 15 5 10 5 0 5 3 5-15 5-11 5 26 5 4 5-27 5 7 5 2 5 2 5 16 5-18 5-10 5 21 5-9 5 10 5-6 5 10 5-16 5 0 5 16 5-24 5 8 5 20 5 1 5-6 5-5 5 4 5 1 5-9 5-6 5 1 5-8 5 1 5 12 5-23 5 27 5-18 5 10 5-12 5 21 5-1 5-17 5 11 5 2 5 2 5-19 5 24 5-4 5-3 5-8 5 8 5-1 5-10 5 5 5 17 5-20 5 7 5-4 5 10 5-9 5 16 5-25 5 4 5 20 5-10 5 2 5-9 5-13 5-1 5 24 5 8 5-15 5 9 5-11 5 13 5-16 5 4 5 12 5-9 5 1 5-15 5 9 5 0 5 5 5-8 5 23 5-3 5-1 5-13 5 7 5-10 5-2 5 20 5-4 5 2 5-8 5 0 5 10 5-14 5-10 5-1 5 23 5-22 5-4 5 16 5-15 5 12 5-4 5 1 5 11 5-17 5 16 5-6 5-2 5-18 5 3 5-2 5 5 5-3 5 2 5 6 5-2 5 4 5 1 5-16 5 15 5-18 5-8 5 4 5-5 5-2 5-6 5 23 5-22 5 21 5 0 5 2 5-21 5-10 5 22 5-2 5 2 5-14 5 9 5-19 5-10 5 4 5 19 5-5 5-21 5 4 5 3 5 12 5-5 5-19 5 0 5 20 5-5 5-1 5-16 5 12 5-28 5-9 5 25 5-28 5-5 5 25 5-13 5 13 5-16 5 3 5-8 5 1 5-11 5-9 5 8 5-4 5 1 5-21 5 3 5-7 5-5 5 6 5-7 5-2 5 7 5-6 5-12 5-13 5 25 5-1 5-24 5 5 5-19 5 13 5-18 5 7 5 10 5-9 5-20 5 14 5-24 5 8 5-19 5 16 5-28 5-1 5 10 5-24 5 18 5-18 5 12 5-22 5 6 5-9 5 3 5-23 5-14 5 22 5-25 5 13 5-21 5-6 5-7 5 11 5-25 5 11 5-12 5-4 5 2 5-34 5 14 5-11 5-18 5-14 5 23 5-15 5 7 5-19 5-12 5 1 5 4 5-30 5 18 5-28 5-2 5-6 5-20 5-4 5-3 5-7 5-14 5 17 5-2 5-26 5-15 5 12 5-11 5-19 5 17 5-17 5-2 5-31 5 2 5 0 5-14 5 6 5-3 5-12 5-21 5-7 5-4 5-21 5 8 5-3 5-29 5 14 5-11 5-5 5-25 5 10 5-23 5 0 5 6 5-13 5-19 5 9 5-34 5-8 5 14 5-22 5 6 5-31 5-7 5 5 5-11 5 1 5-13 5 4 5-36 5 7 5 1 5-26 5 20 5-13 5-17 5-1 5-19 5-1 5-18 5-12 5-3 5 10 5-22 5 5 5 1 5-30 5 12 5-15 5 0 5 4 5-10 5-4 5-26 5 13 5-4 5-9 5-13 5-7 5-13 5 7 5-12 5-25 5 4 5-14 5 21 5-34 5 10 5 2 5-17 5 9 5-26 5-6 5-12 5 15 5-13 5-1 5-9 5-11 5-20 5 17 5-1 5-31 5 7 5-3 5-22 5 13 5 1 5 2 5-14 5-22 5 11 5 8 5-18 5 0 5-25 5 22 5-20 5-12 5 20 5-22 5 13 5-22 5-8 5 21 5-34 5 11 5 2 5 7 5-16 5-7 5-10 5-2 5-4 5 3 5-17 5 20 5-1 5-20 5 5 5 5 5-9 5-14 5-17 5 7 5-8 5-9 5-3 5 9 5 4 5-25 5 3 5-9 5 17 5-5 5-19 5 13 5-12 5 9 5-4 5-5 5-8 5 5 5-17 5-2 5-24 5 10 5 3 5-1 5-26 5 23 5-25 5-7 5-9 5 5 5 12 5-16 5-20 5 7 5-2 5 5 5-9 5-18 5 10 5-10 5-22 5 13 5-8 5 0 5-14 5-1 5-20 5 4 5-28 5 16 5-28 5 12 5-7 5-21 5 2 5-14 5 9 5-20 5-4 5-19 5 13 5-16 5 16 5-2 5-26 5 4 5-3 5 27 5-5 5-15 5 24 5 12 5-16 5 14 5 6 5 5 5 5 5 23 5-9 5 23 5-3 5-5 5 16 5 18 5 5 5 8 5-8 5-9 5 6 5 27 5 0 5 18 5 7 5 2 5 13 5-2 5 22 5-4 5 13 5 20 5 3 5 1 5-5 5 9 5 35 5-17 5 32 5 13 5 1 5 6 5 22 5 22 5-5 5 13 5 2 5 3 5 21 5 11 5 2 5 20 5 13 5-19 5 13 5 21 5 4 5-7 5 17 5 7 5 27 5-21 5 31 5 8 5-13 5 13 5 6 5 17 5-17 5 14 5 3 5 20 5 9 5-18 5 20 5 6 5-8 5 17 5-5 5 10 5 12 5-6 5 12 5 8 5-5 5 34 5 9 5-1 5 11 5-11 5 18 5-6 5 14 5 4 5 32 5 11 5-17 5 5 5 7 5 33 5-15 5 12 5 22 5-21 5 25 5 5 5-5 5 21 5 15 5-16 5 6 5 19 5 10 5 7 5 10 5 1 5-6 5 4 5 7 5-1 5 18 5-18 5 24 5-16 5 8 5 11 5 20 5 7 5 2 5-2 5 10 5-14 5 18 5 10 5-6 5-1 5 1 5 8 5 4 5 12 5 18 5-11 5 11 5 13 5-10 5 20 5 4 5 13 5 3 5-16 5 14 5-3 5 28 5 5 5 3 5 13 5 8 5-12 5 22 5-5 5 18 5-22 5 9 5 23 5-10 5 22 5-13 5 27 5-7 5-13 5 12 5 8 5 9 5-13 5 15 5 0 5 10 5-12 5-5 5 6 5 22 5-7 5 7 5-4 5 20 5-21 5 33 5-5 5-13 5 18 5-12 5 3 5 11 5 0 5 9 5-3 5-18 5 9 5-1 5 26 5 0 5 11 5-12 5 4 5 3 5-14 5 9 5 11 5-6 5 6 5-14 5 14 5 4 5 13 5 4 5 5 5-1 5-4 5 10 5-2 5 1 5 0 5 18 5-17 5-4 5 1 5 10 5-5 5 25 5-16 5 6 5 14 5 6 5-3 5-3 5 2 5-8 5 24 5-13 5 11 5-1 5-2 5-7 5 25 5-10 5 4 5-4 5-4 5 10 5 5 5-5 5-11 5 26 5-17 5 19 5-3 5 1 5-28 5 16 5 6 5-21 5 18 5 9 5 0 5 8 5-3 5-22 5 13 5-4 5 8 5 3 5 1 5 11 5-13 5 12 5-4 5 1 5-18 5 20 5 2 5-16 5 12 5 1 5-15 5 11 5 13 5-19 5 10 5 6 5 0 5-14 5 7 5 11 5-3 5 7 5-4 5 6 5-12 5 13 5 4 5-9 5-9 5 23 5-4 5-2 5-9 5 13 5-13 5 21 5-24 5 25 5-26 5 29 5-19 5-2 5 5 5 20 5 1 5-19 5 10 5-4 5 16 5-3 5 9 5-7 5-3 5 12 5-22 5-3 5 9 5 11 5-12 5 20 5-17 5-3 5 25 5-20 5 0 5 20 5 3 5-5 5-5 5 21 5-29 5 19 5-13 5 9 5 0 5 1 5-2 5 16 5-3 5 11 5-3 5-8 5 5 5 8 5-22 5-4 5 16 5-2 5 5 5-1 5-9 5 23 5 1 5-21 5 5 5 18 5-10 5 0 5 12 5-20 5 1 5 18 5-5 5-5 5-2 5 2 5 23 5-16 5-7 5 7 5-2 5 26 5-19 5 5 5 3 5-11 5 21 5-7 5 19 5-12 5 1 5-1 5 11 5 16 5 4 5-15 5 12 5-17 5 21 5-8 5-8 5 14 5-5 5-2 5 7 5 17 5-19 5 0 5 14 5 1 5-11 5 5 5 2 5-1 5-8 5 3 5 11 5 22 5-11 5 12 5-11 5 3 5-5 5 12 5-2 5-17 5 10 5 7 5-1 5-13 5 9 5 14 5-9 5 15 5-15 5 16 5-18 5 26 5-5 5 15 5-12 5 1 5-12 5 24 5-23 5 7 5 17 5-27 5 25 5-4 5-16 5 18 5 0 5 12 5 0 5-24 5 28 5-26 5 21 5-11 5 15 5-14 5-13 5 28 5-18 5 13 5 6 5-16 5 11 5-11 5 15 5 5 5-25 5 20 5 4 5-18 5-8 5 15 5 5 5-11 5-8 5 20 5-12 5 5 5 10 5-20 5 10 5-11 5 16 5-5 5 8 5-10 5 14 5-18 5 15 5-19 5 21 5 4 5-8 5-3 5 15 5-5 5 6 5-9 5 7 5 3 5-20 5 18 5-1 5-20 5-2 5 10 5 11 5-26 5 20 5-9 5 11 5-26 5 20 5-11 5 12 5-19 5 29 5-3 5-19 5 1 5 14 5-8 5-8 5-13 5 5 5 11 5 7 5-22 5 15 5-8 5 15 5-25 5-2 5 23 5-21 5 23 5 3 5-9 5 6 5-10 5 7 5-1 5-27 5 2 5 0 5 22 5 11 5-6 5-25 5 25 5-6 5-25 5 4 5-5 5 22 5 4 5-21 5 21 5-19 5 9 5-4 5-14 5 19 5-19 5 19 5-17 5 0 5-6 5 9 5 4 5-5 5 14 5 4 5-26 5 15 5-19 5 26 5-22 5 7 5-6 5 1 5 18 5-17 5-1 5 19 5-10 5 8 5-1 5-20 5 20 5-22 5 20 5 4 5-2 5 0 5 8 5 5 5-19 5 12 5-1 5-10 5 13 5 4 5-17 5 17 5-17 5 11 5-24 5 23 5-21 5 22 5-28 5 20 5-17 5 19 5 1 5 19 5-1 5-8 5-2 5 10 5-10 5-4 5-14 5 25 5-14 5-8 5-2 5 7 5 8 5 8 5-11 5 17 5-29 5 15 5-9 5 5 5-3 5 29 5-18 5 10 5-8 5 2 5 18 5-19 5-4 5 0 5 24 5-9 5 6 5-18 5 9 5-6 5 19 5-24 5 17 5-15 5 9 5 6 5 13 5 5 5-3 5 1 5 3 5-4 5 2 5 8 5-11 5-11 5 21 5-3 5-4 5-14 5 26 5-4 5 13 5-20 5 17 5-14 5 8 5-11 5 7 5-5 5 11 5-4 5 5 5-10 5 15 5-20 5 17 5-10 5 2 5 16 5-12 5 3 5 6 5-7 5 7 5 10 5-15 5 4 5 18 5-1 5-15 5 14 5-1 5 0 5 6 5-21 5 4 5 27 5-16 5-12 5 20 5-21 5 2 5 17 5-3 5-12 5 30 5-24 5 14 5-18 5 15 5 18 5-20 5-6 5 7 5 10 5-12 5-8 5 10 5 5 5-11 5-4 5 1 5 18 5-11 5-6 5 1 5-3 5 3 5 12 5 11 5-14 5-13 5 22 5-6 5-15 5-3 5-3 5 30 5 1 5-13 5-14 5 26 5-18 5 8 5-8 5 12 5-21 5 17 5 1 5 8 5-13 5-4 5 0 5 15 5-16 5 4 5-17 5 27 5-21 5 17 5-2 5-22 5 27 5-27 5 13 5-5 5 7 5-4 5 18 5-9 5 11 5-3 5-8 5 3 5-8 5 8 5-22 5 17 5-7 5 3 5-5 5 5 5 15 5 0 5-28 5 3 5 21 5-29 5 1 5 7 5 4 5-7 5-4 5-1 5-2 5 2 5 18 5-5 5 14 5-5 5-22 5-4 5 19 5 11 5-27 5 9 5-12 5 16 5 4 5 1 5 1 5-24 5 9 5-6 5 12 5-9 5 9 5-8 5-5 5 0 5 17 5 6 5-13 5 11 5 2 5-8 5-1 5-10 5-11 5 21 5 7 5-12 5-10 5 15 5-8 5-14 5 19 5-8 5 8 5 2 5-7 5 10 5-12 5 11 5-22 5-1 5 16 5 5 5-29 5 29 5-28 5 26 5-12 5-3 5 3 5 8 5-18 5 28 5-18 5-2 5 3 5 2 5-18 5 8 5 13 5-15 5 20 5-4 5-19 5 4 5 10 5-3 5 11 5-5 5-5 5 10 5-3 5-10 5 15 5-11 5 8 5-5 5 1 5 6 5-18 5 5 5-6 5 19 5-4 5-7 5 12 5 11 5-6 5 3 5-15 5 8 5 2 5 3 5 11 5-8 5-5 5 15 5-1 5-18 5 2 5-5 5 16 5-8 5-5 5 21 5-1 5-16 5-9 5 20 5 13 5 0 5-3 5-8 5 11 5 2 5-21 5 28 5 1 5-2 5 3 5-16 5 15 5-18 5 14 5-23 5 16 5 3 5 8 5-1 5-19 5 15 5-14 5 12 5 3 5-7 5 6 5 16 5-13 5-10 5 24 5-18 5 14 5-8 5-13 5 1 5 19 5-10 5 20 5-7 5-21 5 5 5 20 5-5 5-9 5 4 5-5 5 8 5-4 5 12 5-17 5 2 5 2 5 13 5-12 5-8 5 2 5 17 5-15 5 27 5-22 5 9 5-8 5 13 5 6 5-4 5-11 5 4 5 12 5-1 5-16 5-2 5 6 5 11 5-6 5 14 5-14 5-4 5-6 5 0 5 13 5-12 5-6 5 20 5-14 5-9 5 29 5-4 5 6 5-9 5-9 5 17 5 1 5-12 5 4 5-8 5 9 5-3 5-16 5-3 5 15 5 0 5 3 5-7 5 9 5-2 5-6 5 0 5 0 5 6 5-17 5 21 5-5 5-2 5-20 5 2 5-5 5 9 5-7 5 4 5 4 5-1 5 10 5-16 5-3 5 9 5 0 5 5 5-14 5-6 5 26 5-13 5-17 5-5 5 20 5 6 5-24 5 26 5-5 5-12 5-15 5 7 5 15 5-2 5-21 5 12 5 15 5-15 5 6 5-15 5 9 5-16 5 25 5-16 5-14 5 4 5 16 5 2 5-1 5-6 5-22 5 21 5-7 5 3 5-10 5-7 5 23 5-8 5 5 5 2 5-16 5 12 5 12 5-16 5 2 5-8 5 7 5 8 5-19 5 5 5-2 5 16 5-23 5 5 5 7 5-7 5-6 5 6 5-2 5 11 5 8 5-23 5-6 5 18 5-17 5 13 5-9 5 2 5 13 5-3 5 11 5-6 5-6 5-8 5 8 5 7 5-21 5 29 5 0 5-16 5 1 5-17 5 0 5 6 5 13 5-17 5 27 5-1 5-9 5-11 5 25 5-21 5 9 5 17 5-21 5-1 5 19 5-9 5-15 5-5 5-1 5 4 5 8 5 9 5-21 5 8 5 18 5-32 5 27 5-11 5 9 5-14 5 14 5-5 5-8 5 14 5-11 5-8 5 12 5 2 5-11 5 0 5 32 5-26 5 7 5 8 5 0 5 13 5-9 5-14 5-1 5 7 5-10 5 30 5-3 5-1 5-25 5 27 5-21 5 2 5 26 5-18 5 12 5-13 5 1 5 18 5 4 5-15 5 6 5-20 5 0 5 25 5-22 5 27 5 0 5 0 5 7 5-5 5-10 5-10 5 22 5-25 5 29 5-22 5 5 5-5 5 20 5 7 5 1 5-10 5-4 5 12 5-10 5 12 5-7 5 9 5 1 5-12 5-6 5 9 5-15 5 11 5 0 5 12 5-7 5-2 5 0 5 17 5-27 5 27 5-11 5 0 5-7 5 7 5-14 5 23 5-8 5 8 5-8 5-13 5-3 5 27 5-6 5-10 5 18 5-19 5-1 5 0 5 13 5 11 5-17 5-6 5 24 5-1 5-15 5 4 5-6 5 7 5 5 5 0 5 13 5-20 5 22 5-8 5 10 5 0 5-1 5-25 5 28 5-5 5-20 5-7 5 10 5 11 5-16 5-2 5 2 5 6 5-1 5 21 5-23 5-4 5 7 5 16 5-23 5 2 5 0 5 12 5-11 5 14 5-1 5-16 5 6 5 19 5-24 5-3 5 22 5 2 5-16 5-3 5 18 5-26 5 16 5-10 5 21 5-12 5-5 5 5 5-1 5 14 5-28 5 17 5 4 5-15 5 5 5-6 5-1 5-5 5 19 5-22 5 21 5-19 5 8 5-14 5 8 5 18 5-13 5 15 5 2 5 6 5-21 5 19 5-1 5-22 5-4 5-2 5 15 5 10 5-11 5-8 5 11 5 8 5-4 5-5 5-18 5 25 5-8 5-22 5 26 5-8 5-4 5-10 5-2 5 4 5 7 5-16 5 8 5-8 5-2 5 8 5-11 5 11 5 14 5-22 5 1 5 8 5 19 5-9 5-5 5-16 5-4 5 28 5-13 5-15 5 10 5-10 5 1 5 15 5 0 5-3 5 10 5-28 5 14 5 7 5-13 5 15 5-9 5 2 5-17 5 27 5 0 5-19 5 1 5 16 5-12 5-1 5 7 5-7 5-4 5 10 5 1 5 1 5 2 5-7 5-16 5 20 5-26 5 29"/>
</g>
<g stroke="#000" stroke-width="5" fill="none" stroke-linecap="round">
<path d="M225.5 34.5V1373.8 M1917.6 34.5V1373.8 M202.5 57.5H1940.6 M214.5 1350.8H1928.6"/>
<path d="M296.0 55.0v-8.5 M296.0 1353.3v8.5 M366.5 55.0v-8.5 M366.5 1353.3v8.5 M437.0 55.0v-8.5 M437.0 1353.3v8.5 M507.5 55.0v-20.5 M507.5 1353.3v20.5 M578.0 55.0v-8.5 M578.0 1353.3v8.5 M648.5 55.0v-8.5 M648.5 1353.3v8.5 M719.0 55.0v-8.5 M719.0 1353.3v8.5 M789.5 55.0v-20.5 M789.5 1353.3v20.5 M860.0 55.0v-8.5 M860.0 1353.3v8.5 M930.5 55.0v-8.5 M930.5 1353.3v8.5 M1001.0 55.0v-8.5 M1001.0 1353.3v8.5 M1071.5 55.0v-20.5 M1071.5 1353.3v20.5 M1142.0 55.0v-8.5 M1142.0 1353.3v8.5 M1212.5 55.0v-8.5 M1212.5 1353.3v8.5 M1283.0 55.0v-8.5 M1283.0 1353.3v8.5 M1353.5 55.0v-20.5 M1353.5 1353.3v20.5 M1424.0 55.0v-8.5 M1424.0 1353.3v8.5 M1494.5 55.0v-8.5 M1494.5 1353.3v8.5 M1565.0 55.0v-8.5 M1565.0 1353.3v8.5 M1635.5 55.0v-20.5 M1635.5 1353.3v20.5 M1706.0 55.0v-8.5 M1706.0 1353.3v8.5 M1776.5 55.0v-8.5 M1776.5 1353.3v8.5 M1847.0 55.0v-8.5 M1847.0 1353.3v8.5 M223.0 1299.1h-20.5 M1920.1 1299.1h20.5 M223.0 1247.4h-8.5 M1920.1 1247.4h8.5 M223.0 1195.6h-8.5 M1920.1 1195.6h8.5 M223.0 1143.9h-8.5 M1920.1 1143.9h8.5 M223.0 1092.2h-20.5 M1920.1 1092.2h20.5 M223.0 1040.4h-8.5 M1920.1 1040.4h8.5 M223.0 988.7h-8.5 M1920.1 988.7h8.5 M223.0 937.0h-8.5 M1920.1 937.0h8.5 M223.0 885.2h-20.5 M1920.1 885.2h20.5 M223.0 833.5h-8.5 M1920.1 833.5h8.5 M223.0 781.8h-8.5 M1920.1 781.8h8.5 M223.0 730.0h-8.5 M1920.1 730.0h8.5 M223.0 678.3h-20.5 M1920.1 678.3h20.5 M223.0 626.6h-8.5 M1920.1 626.6h8.5 M223.0 574.8h-8.5 M1920.1 574.8h8.5 M223.0 523.1h-8.5 M1920.1 523.1h8.5 M223.0 471.4h-20.5 M1920.1 471.4h20.5 M223.0 419.6h-8.5 M1920.1 419.6h8.5 M223.0 367.9h-8.5 M1920.1 367.9h8.5 M223.0 316.2h-8.5 M1920.1 316.2h8.5 M223.0 264.4h-20.5 M1920.1 264.4h20.5 M223.0 212.7h-8.5 M1920.1 212.7h8.5 M223.0 161.0h-8.5 M1920.1 161.0h8.5 M223.0 109.3h-8.5 M1920.1 109.3h8.5 "/>
</g>
<g font-family="Liberation Sans, sans-serif" fill="#000" style="font-kerning:none">
<text transform="translate(210.34 1430.90) scale(1 1.028)" font-size="54.5">0</text>
<text transform="translate(492.34 1430.90) scale(1 1.028)" font-size="54.5">2</text>
<text transform="translate(774.34 1430.90) scale(1 1.028)" font-size="54.5">4</text>
<text transform="translate(1056.34 1430.90) scale(1 1.028)" font-size="54.5">6</text>
<text transform="translate(1338.34 1430.90) scale(1 1.028)" font-size="54.5">8</text>
<text transform="translate(1605.19 1430.90) scale(1 1.028)" font-size="54.5"><tspan dx="1.30">1</tspan><tspan dx="-1.30">0</tspan></text>
<path fill="#fff" d="M1609.02 1424.71H1619.89v7.79H1609.02zM1625.31 1424.71H1635.76v7.79H1625.31z"/>
<text transform="translate(1887.19 1430.90) scale(1 1.028)" font-size="54.5"><tspan dx="1.30">1</tspan><tspan dx="-1.30">2</tspan></text>
<path fill="#fff" d="M1891.02 1424.71H1901.89v7.79H1891.02zM1907.31 1424.71H1917.76v7.79H1907.31z"/>
<text transform="translate(157.19 1314.50) scale(1 1.028)" font-size="54.5">0</text>
<text transform="translate(157.19 1107.57) scale(1 1.028)" font-size="54.5"><tspan dx="1.30">1</tspan></text>
<path fill="#fff" d="M161.02 1101.38H171.89v7.79H161.02zM177.31 1101.38H187.76v7.79H177.31z"/>
<text transform="translate(157.19 900.64) scale(1 1.028)" font-size="54.5">2</text>
<text transform="translate(157.19 693.71) scale(1 1.028)" font-size="54.5">3</text>
<text transform="translate(157.19 486.78) scale(1 1.028)" font-size="54.5">4</text>
<text transform="translate(157.19 279.85) scale(1 1.028)" font-size="54.5">5</text>
<text transform="translate(157.19 72.92) scale(1 1.028)" font-size="54.5">6</text>
<text transform="translate(913.30 1532.70) scale(1 1.012)" font-size="76.5">Time [<tspan font-family="Liberation Serif, serif" font-size="77" dx="4.20">µ</tspan><tspan dx="-2.37">s]</tspan></text>
<text transform="translate(87.20 973.00) rotate(-90) scale(1 1.015)" font-size="77">FEL power [ <tspan font-style="italic">a.u.</tspan> ]</text>
</g>
<rect x="294" y="162" width="505" height="547" fill="#000"/>
<rect x="278" y="146" width="504.5" height="546" fill="#fff" stroke="#000" stroke-width="2"/>
<g fill="none" stroke-width="4" stroke-linecap="round">
<path d="M285.3 251.0H407" stroke="#000000"/>
<path d="M285.3 318.4H407" stroke="#ff0000"/>
<path d="M285.3 385.7H407" stroke="#0000ff"/>
<path d="M285.3 453.1H407" stroke="#ff00ff"/>
<path d="M285.3 520.5H407" stroke="#008000"/>
<path d="M285.3 587.9H407" stroke="#000080"/>
<path d="M285.3 655.2H407" stroke="#8000ff"/>
</g>
<g font-family="Liberation Sans, sans-serif" fill="#000" style="font-kerning:none">
<text transform="translate(284.00 202.00) scale(1 1.02)" font-size="54.6">RF phase difference</text>
<text transform="translate(436.70 269.30) scale(1 1.015)" font-size="54.6">-9</text>
<text transform="translate(500.42 269.30) scale(1 1.005)" font-size="54.6">[deg]</text>
<text transform="translate(436.70 336.40) scale(1 1.015)" font-size="54.6">-5</text>
<text transform="translate(500.42 336.40) scale(1 1.005)" font-size="54.6">[deg]</text>
<text transform="translate(436.70 403.50) scale(1 1.015)" font-size="54.6">-<tspan dx="1.30">1</tspan></text>
<path fill="#fff" d="M458.71 397.36H469.61v7.74H458.71zM475.04 397.36H485.51v7.74H475.04z"/>
<text transform="translate(500.42 403.50) scale(1 1.005)" font-size="54.6">[deg]</text>
<text transform="translate(452.40 470.60) scale(1 1.015)" font-size="54.6">3</text>
<text transform="translate(497.94 470.60) scale(1 1.005)" font-size="54.6">[deg]</text>
<text transform="translate(452.40 537.70) scale(1 1.015)" font-size="54.6">7</text>
<text transform="translate(497.94 537.70) scale(1 1.005)" font-size="54.6">[deg]</text>
<text transform="translate(422.70 604.80) scale(1 1.015)" font-size="54.6"><tspan dx="1.30">1</tspan>1</text>
<path fill="#fff" d="M426.53 598.66H437.43v7.74H426.53zM442.86 598.66H453.33v7.74H442.86zM456.90 598.66H467.80v7.74H456.90zM473.22 598.66H483.69v7.74H473.22z"/>
<text transform="translate(498.60 604.80) scale(1 1.005)" font-size="54.6">[deg]</text>
<text transform="translate(422.70 671.90) scale(1 1.015)" font-size="54.6"><tspan dx="1.30">1</tspan><tspan dx="-1.30">5</tspan></text>
<path fill="#fff" d="M426.53 665.76H437.43v7.74H426.53zM442.86 665.76H453.33v7.74H442.86z"/>
<text transform="translate(498.60 671.90) scale(1 1.005)" font-size="54.6">[deg]</text>
</g>
</svg>
</body></html>
